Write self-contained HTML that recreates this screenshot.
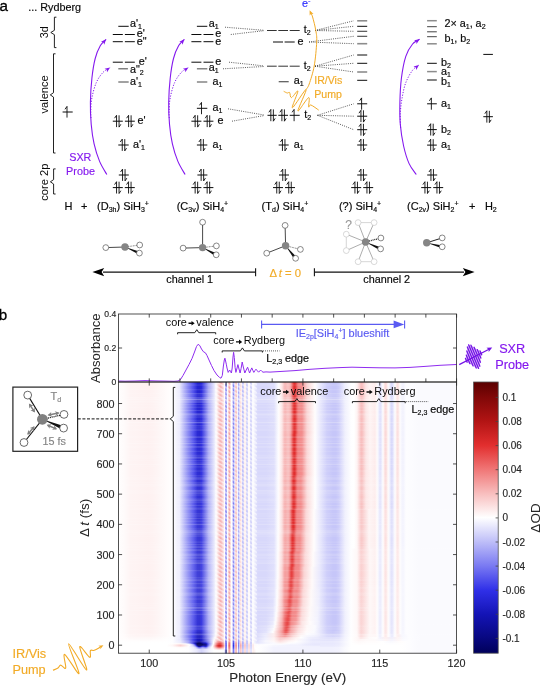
<!DOCTYPE html>
<html lang="en"><head><meta charset="utf-8"><title>Figure</title>
<style>
html,body{margin:0;padding:0;background:#fff}
svg{display:block;font-family:"Liberation Sans",Arial,Helvetica,sans-serif}
</style></head><body>
<svg width="540" height="685" viewBox="0 0 540 685">
<rect width="540" height="685" fill="#fff"/>
<g id="panel-a">
<text x="-0.6" y="11.2" font-size="15.2" fill="#000" stroke="#000" stroke-width="0.3">a</text>
<text x="28.3" y="10.6" font-size="10.8" fill="#0a0a0a" stroke="#0a0a0a" stroke-width="0.18">... Rydberg</text>
<text transform="translate(48.2 32.3) rotate(-90)" font-size="10.8" fill="#0a0a0a" text-anchor="middle">3d</text>
<path d="M56.4 17.2H54.4V30.3l-3.6 2.2l3.6 2.2V47.6H56.4" fill="none" stroke="#0a0a0a" stroke-width="0.9" stroke-linejoin="round"/>
<text transform="translate(48.3 94.4) rotate(-90)" font-size="11.1" fill="#0a0a0a" text-anchor="middle">valence</text>
<path d="M55.5 53.8H53.5V92.7l-3.2 2.2l3.2 2.2V153H55.5" fill="none" stroke="#0a0a0a" stroke-width="0.9" stroke-linejoin="round"/>
<text transform="translate(48.3 182.2) rotate(-90)" font-size="11.1" fill="#0a0a0a" text-anchor="middle">core 2p</text>
<path d="M55.6 168.9H53.6V179.6l-3.2 2.2l3.2 2.2V194H55.6" fill="none" stroke="#0a0a0a" stroke-width="0.9" stroke-linejoin="round"/>
<line x1="62.6" y1="112" x2="72.7" y2="112" stroke="#0a0a0a" stroke-width="1"/>
<path d="M67 117.6V106.4l-2 2.9" fill="none" stroke="#0a0a0a" stroke-width="0.9"/>
<text x="80.3" y="160.7" font-size="10.8" fill="#8418ee" text-anchor="middle" stroke="#8418ee" stroke-width="0.15">SXR</text>
<text x="80.5" y="174.9" font-size="10.8" fill="#8418ee" text-anchor="middle" stroke="#8418ee" stroke-width="0.15">Probe</text>
<line x1="118.3" y1="26.3" x2="128.7" y2="26.3" stroke="#0a0a0a" stroke-width="1"/>
<text x="130" y="27.4" font-size="10.8" fill="#0a0a0a" stroke="#0a0a0a" stroke-width="0.18">a'<tspan font-size="7" baseline-shift="-2.2">1</tspan></text>
<line x1="112.8" y1="34.5" x2="122.8" y2="34.5" stroke="#0a0a0a" stroke-width="1"/>
<line x1="124.9" y1="34.5" x2="134.8" y2="34.5" stroke="#0a0a0a" stroke-width="1"/>
<line x1="112.8" y1="41.7" x2="122.8" y2="41.7" stroke="#0a0a0a" stroke-width="1"/>
<line x1="124.9" y1="41.7" x2="134.8" y2="41.7" stroke="#0a0a0a" stroke-width="1"/>
<line x1="112.8" y1="62.2" x2="122.8" y2="62.2" stroke="#0a0a0a" stroke-width="1"/>
<line x1="124.9" y1="62.2" x2="134.8" y2="62.2" stroke="#0a0a0a" stroke-width="1"/>
<text x="136.7" y="36.9" font-size="10.8" fill="#0a0a0a" stroke="#0a0a0a" stroke-width="0.18">e'</text>
<text x="136.7" y="44.6" font-size="10.8" fill="#0a0a0a" stroke="#0a0a0a" stroke-width="0.18">e"</text>
<text x="138.7" y="64.7" font-size="10.8" fill="#0a0a0a" stroke="#0a0a0a" stroke-width="0.18">e'</text>
<line x1="118.3" y1="68.8" x2="127.9" y2="68.8" stroke="#555" stroke-width="1.1"/>
<text x="130" y="73.3" font-size="10.8" fill="#0a0a0a" stroke="#0a0a0a" stroke-width="0.18">a"<tspan font-size="7" baseline-shift="-2.2">2</tspan></text>
<line x1="118.3" y1="82" x2="128.7" y2="82" stroke="#444" stroke-width="1"/>
<text x="130" y="84.6" font-size="10.8" fill="#0a0a0a" stroke="#0a0a0a" stroke-width="0.18">a'<tspan font-size="7" baseline-shift="-2.2">1</tspan></text>
<line x1="112.8" y1="121.2" x2="122.8" y2="121.2" stroke="#0a0a0a" stroke-width="1"/>
<path d="M116.55 127.1V115.3l-2 2.9" fill="none" stroke="#0a0a0a" stroke-width="0.9"/>
<path d="M119.05 115.3V127.1l1.8 -2.8" fill="none" stroke="#0a0a0a" stroke-width="0.9"/>
<line x1="124.9" y1="121.2" x2="134.8" y2="121.2" stroke="#0a0a0a" stroke-width="1"/>
<path d="M128.6 127.1V115.3l-2 2.9" fill="none" stroke="#0a0a0a" stroke-width="0.9"/>
<path d="M131.1 115.3V127.1l1.8 -2.8" fill="none" stroke="#0a0a0a" stroke-width="0.9"/>
<text x="137.6" y="124.1" font-size="10.8" fill="#0a0a0a" stroke="#0a0a0a" stroke-width="0.18">e'</text>
<line x1="118.3" y1="145" x2="128.7" y2="145" stroke="#0a0a0a" stroke-width="1"/>
<path d="M122.25 150.9V139.1l-2 2.9" fill="none" stroke="#0a0a0a" stroke-width="0.9"/>
<path d="M124.75 139.1V150.9l1.8 -2.8" fill="none" stroke="#0a0a0a" stroke-width="0.9"/>
<text x="133" y="148.3" font-size="10.8" fill="#0a0a0a" stroke="#0a0a0a" stroke-width="0.18">a'<tspan font-size="7" baseline-shift="-2.2">1</tspan></text>
<line x1="196.9" y1="26.3" x2="207.3" y2="26.3" stroke="#0a0a0a" stroke-width="1"/>
<text x="208.7" y="27.4" font-size="10.8" fill="#0a0a0a" stroke="#0a0a0a" stroke-width="0.18">a<tspan font-size="7" baseline-shift="-2.2">1</tspan></text>
<line x1="191.4" y1="34.5" x2="201.4" y2="34.5" stroke="#0a0a0a" stroke-width="1"/>
<line x1="203.5" y1="34.5" x2="213.4" y2="34.5" stroke="#0a0a0a" stroke-width="1"/>
<line x1="191.4" y1="41.7" x2="201.4" y2="41.7" stroke="#0a0a0a" stroke-width="1"/>
<line x1="203.5" y1="41.7" x2="213.4" y2="41.7" stroke="#0a0a0a" stroke-width="1"/>
<line x1="191.4" y1="62.2" x2="201.4" y2="62.2" stroke="#0a0a0a" stroke-width="1"/>
<line x1="203.5" y1="62.2" x2="213.4" y2="62.2" stroke="#0a0a0a" stroke-width="1"/>
<text x="215.3" y="37.1" font-size="10.8" fill="#0a0a0a" stroke="#0a0a0a" stroke-width="0.18">e</text>
<text x="215.3" y="44.6" font-size="10.8" fill="#0a0a0a" stroke="#0a0a0a" stroke-width="0.18">e</text>
<text x="215.3" y="65.1" font-size="10.8" fill="#0a0a0a" stroke="#0a0a0a" stroke-width="0.18">e</text>
<line x1="196.9" y1="68.8" x2="207.3" y2="68.8" stroke="#666" stroke-width="1.2"/>
<text x="208.7" y="71.4" font-size="10.8" fill="#0a0a0a" stroke="#0a0a0a" stroke-width="0.18">a<tspan font-size="7" baseline-shift="-2.2">1</tspan></text>
<line x1="196.9" y1="82" x2="207.3" y2="82" stroke="#666" stroke-width="1.2"/>
<text x="212.5" y="84.6" font-size="10.8" fill="#0a0a0a" stroke="#0a0a0a" stroke-width="0.18">a<tspan font-size="7" baseline-shift="-2.2">1</tspan></text>
<line x1="196.9" y1="108.3" x2="207.3" y2="108.3" stroke="#0a0a0a" stroke-width="1"/>
<path d="M201.5 114.2V102.4l-2 2.9" fill="none" stroke="#0a0a0a" stroke-width="0.9"/>
<text x="212.5" y="111.3" font-size="10.8" fill="#0a0a0a" stroke="#0a0a0a" stroke-width="0.18">a<tspan font-size="7" baseline-shift="-2.2">1</tspan></text>
<line x1="191.4" y1="121.2" x2="201.4" y2="121.2" stroke="#0a0a0a" stroke-width="1"/>
<path d="M195.15 127.1V115.3l-2 2.9" fill="none" stroke="#0a0a0a" stroke-width="0.9"/>
<path d="M197.65 115.3V127.1l1.8 -2.8" fill="none" stroke="#0a0a0a" stroke-width="0.9"/>
<line x1="203.5" y1="121.2" x2="213.4" y2="121.2" stroke="#0a0a0a" stroke-width="1"/>
<path d="M207.2 127.1V115.3l-2 2.9" fill="none" stroke="#0a0a0a" stroke-width="0.9"/>
<path d="M209.7 115.3V127.1l1.8 -2.8" fill="none" stroke="#0a0a0a" stroke-width="0.9"/>
<text x="217.5" y="123.9" font-size="10.8" fill="#0a0a0a" stroke="#0a0a0a" stroke-width="0.18">e</text>
<line x1="196.9" y1="145" x2="207.3" y2="145" stroke="#0a0a0a" stroke-width="1"/>
<path d="M200.85 150.9V139.1l-2 2.9" fill="none" stroke="#0a0a0a" stroke-width="0.9"/>
<path d="M203.35 139.1V150.9l1.8 -2.8" fill="none" stroke="#0a0a0a" stroke-width="0.9"/>
<text x="212.5" y="148.1" font-size="10.8" fill="#0a0a0a" stroke="#0a0a0a" stroke-width="0.18">a<tspan font-size="7" baseline-shift="-2.2">1</tspan></text>
<line x1="225" y1="27.2" x2="264" y2="30.3" stroke="#333" stroke-width="0.8" stroke-dasharray="1 1.2"/>
<line x1="230.8" y1="34.5" x2="264" y2="30.7" stroke="#333" stroke-width="0.8" stroke-dasharray="1 1.2"/>
<line x1="229" y1="62.2" x2="264" y2="65.9" stroke="#333" stroke-width="0.8" stroke-dasharray="1 1.2"/>
<line x1="223" y1="68.8" x2="264" y2="66.5" stroke="#333" stroke-width="0.8" stroke-dasharray="1 1.2"/>
<line x1="228" y1="108.8" x2="264" y2="115" stroke="#333" stroke-width="0.8" stroke-dasharray="1 1.2"/>
<line x1="232" y1="121.2" x2="264" y2="115.6" stroke="#333" stroke-width="0.8" stroke-dasharray="1 1.2"/>
<line x1="267" y1="30.5" x2="276.7" y2="30.5" stroke="#333" stroke-width="1"/>
<line x1="278.3" y1="30.5" x2="288" y2="30.5" stroke="#333" stroke-width="1"/>
<line x1="289.7" y1="30.5" x2="299.7" y2="30.5" stroke="#333" stroke-width="1"/>
<line x1="267" y1="66.2" x2="276.7" y2="66.2" stroke="#333" stroke-width="1"/>
<line x1="278.3" y1="66.2" x2="288" y2="66.2" stroke="#333" stroke-width="1"/>
<line x1="289.7" y1="66.2" x2="299.7" y2="66.2" stroke="#333" stroke-width="1"/>
<text x="303.7" y="33.4" font-size="10.8" fill="#0a0a0a" stroke="#0a0a0a" stroke-width="0.18">t<tspan font-size="7" baseline-shift="-2.2">2</tspan></text>
<line x1="273" y1="42" x2="283" y2="42" stroke="#0a0a0a" stroke-width="1"/>
<line x1="284.6" y1="42" x2="294.7" y2="42" stroke="#0a0a0a" stroke-width="1"/>
<text x="297.5" y="44.8" font-size="10.8" fill="#0a0a0a" stroke="#0a0a0a" stroke-width="0.18">e</text>
<text x="303.7" y="69.2" font-size="10.8" fill="#0a0a0a" stroke="#0a0a0a" stroke-width="0.18">t<tspan font-size="7" baseline-shift="-2.2">2</tspan></text>
<line x1="278.7" y1="81.7" x2="288.7" y2="81.7" stroke="#555" stroke-width="1.2"/>
<text x="293.7" y="84.3" font-size="10.8" fill="#0a0a0a" stroke="#0a0a0a" stroke-width="0.18">a<tspan font-size="7" baseline-shift="-2.2">1</tspan></text>
<line x1="267.5" y1="115.3" x2="276.7" y2="115.3" stroke="#0a0a0a" stroke-width="1"/>
<path d="M270.85 121.2V109.4l-2 2.9" fill="none" stroke="#0a0a0a" stroke-width="0.9"/>
<path d="M273.35 109.4V121.2l1.8 -2.8" fill="none" stroke="#0a0a0a" stroke-width="0.9"/>
<line x1="278.3" y1="115.3" x2="288" y2="115.3" stroke="#0a0a0a" stroke-width="1"/>
<path d="M281.9 121.2V109.4l-2 2.9" fill="none" stroke="#0a0a0a" stroke-width="0.9"/>
<path d="M284.4 109.4V121.2l1.8 -2.8" fill="none" stroke="#0a0a0a" stroke-width="0.9"/>
<line x1="289.7" y1="115.3" x2="299.7" y2="115.3" stroke="#0a0a0a" stroke-width="1"/>
<path d="M294.1 121.2V109.4l-2 2.9" fill="none" stroke="#0a0a0a" stroke-width="0.9"/>
<text x="304.2" y="118.4" font-size="10.8" fill="#0a0a0a" stroke="#0a0a0a" stroke-width="0.18">t<tspan font-size="7" baseline-shift="-2.2">2</tspan></text>
<line x1="278.7" y1="145" x2="288.7" y2="145" stroke="#0a0a0a" stroke-width="1"/>
<path d="M282.45 150.9V139.1l-2 2.9" fill="none" stroke="#0a0a0a" stroke-width="0.9"/>
<path d="M284.95 139.1V150.9l1.8 -2.8" fill="none" stroke="#0a0a0a" stroke-width="0.9"/>
<text x="293.7" y="147.9" font-size="10.8" fill="#0a0a0a" stroke="#0a0a0a" stroke-width="0.18">a<tspan font-size="7" baseline-shift="-2.2">1</tspan></text>
<line x1="315" y1="30.5" x2="353.7" y2="20.8" stroke="#333" stroke-width="0.8" stroke-dasharray="1 1.2"/>
<line x1="315" y1="30.5" x2="353.7" y2="26.3" stroke="#333" stroke-width="0.8" stroke-dasharray="1 1.2"/>
<line x1="315" y1="30.5" x2="353.7" y2="31.3" stroke="#333" stroke-width="0.8" stroke-dasharray="1 1.2"/>
<line x1="309" y1="42" x2="353.7" y2="36.3" stroke="#333" stroke-width="0.8" stroke-dasharray="1 1.2"/>
<line x1="309" y1="42" x2="353.7" y2="43.7" stroke="#333" stroke-width="0.8" stroke-dasharray="1 1.2"/>
<line x1="315" y1="66.2" x2="353.7" y2="55" stroke="#333" stroke-width="0.8" stroke-dasharray="1 1.2"/>
<line x1="315" y1="66.2" x2="353.7" y2="63.3" stroke="#333" stroke-width="0.8" stroke-dasharray="1 1.2"/>
<line x1="315" y1="66.2" x2="353.7" y2="72" stroke="#333" stroke-width="0.8" stroke-dasharray="1 1.2"/>
<line x1="317.5" y1="115.3" x2="353.7" y2="103.8" stroke="#333" stroke-width="0.8" stroke-dasharray="1 1.2"/>
<line x1="317.5" y1="115.3" x2="353.7" y2="116.2" stroke="#333" stroke-width="0.8" stroke-dasharray="1 1.2"/>
<line x1="317.5" y1="115.3" x2="353.7" y2="129.7" stroke="#333" stroke-width="0.8" stroke-dasharray="1 1.2"/>
<line x1="357.2" y1="20.8" x2="367.2" y2="20.8" stroke="#8c8c8c" stroke-width="1.6"/>
<line x1="357.2" y1="26.3" x2="367.2" y2="26.3" stroke="#0a0a0a" stroke-width="1"/>
<line x1="357.2" y1="31.3" x2="367.2" y2="31.3" stroke="#444" stroke-width="1.1"/>
<line x1="357.2" y1="36.3" x2="367.2" y2="36.3" stroke="#444" stroke-width="1.1"/>
<line x1="357.2" y1="43.7" x2="367.2" y2="43.7" stroke="#8c8c8c" stroke-width="1.6"/>
<line x1="357.2" y1="55" x2="367.2" y2="55" stroke="#0a0a0a" stroke-width="1"/>
<line x1="357.2" y1="63.3" x2="367.2" y2="63.3" stroke="#0a0a0a" stroke-width="1"/>
<line x1="357.2" y1="72" x2="367.2" y2="72" stroke="#8c8c8c" stroke-width="1.6"/>
<line x1="357.2" y1="80.3" x2="367.2" y2="80.3" stroke="#0a0a0a" stroke-width="1"/>
<line x1="357.2" y1="103.8" x2="367.2" y2="103.8" stroke="#0a0a0a" stroke-width="1"/>
<path d="M361.6 109.7V97.9l-2 2.9" fill="none" stroke="#0a0a0a" stroke-width="0.9"/>
<line x1="357.2" y1="116.2" x2="367.2" y2="116.2" stroke="#0a0a0a" stroke-width="1"/>
<path d="M360.95 122.1V110.3l-2 2.9" fill="none" stroke="#0a0a0a" stroke-width="0.9"/>
<path d="M363.45 110.3V122.1l1.8 -2.8" fill="none" stroke="#0a0a0a" stroke-width="0.9"/>
<line x1="357.2" y1="129.7" x2="367.2" y2="129.7" stroke="#0a0a0a" stroke-width="1"/>
<path d="M360.95 135.6V123.8l-2 2.9" fill="none" stroke="#0a0a0a" stroke-width="0.9"/>
<path d="M363.45 123.8V135.6l1.8 -2.8" fill="none" stroke="#0a0a0a" stroke-width="0.9"/>
<line x1="357.2" y1="145" x2="367.2" y2="145" stroke="#0a0a0a" stroke-width="1"/>
<path d="M360.95 150.9V139.1l-2 2.9" fill="none" stroke="#0a0a0a" stroke-width="0.9"/>
<path d="M363.45 139.1V150.9l1.8 -2.8" fill="none" stroke="#0a0a0a" stroke-width="0.9"/>
<line x1="427.1" y1="20.7" x2="436.8" y2="20.7" stroke="#8c8c8c" stroke-width="1.5"/>
<line x1="427.1" y1="26.7" x2="436.8" y2="26.7" stroke="#444" stroke-width="1"/>
<line x1="427.1" y1="31.8" x2="436.8" y2="31.8" stroke="#444" stroke-width="1"/>
<line x1="427.1" y1="36.7" x2="436.8" y2="36.7" stroke="#444" stroke-width="1"/>
<line x1="427.1" y1="43.8" x2="436.8" y2="43.8" stroke="#8c8c8c" stroke-width="1.5"/>
<line x1="427.1" y1="63.3" x2="436.8" y2="63.3" stroke="#0a0a0a" stroke-width="1"/>
<line x1="427.1" y1="71.6" x2="436.8" y2="71.6" stroke="#8c8c8c" stroke-width="1.5"/>
<line x1="427.1" y1="80" x2="436.8" y2="80" stroke="#0a0a0a" stroke-width="1"/>
<text x="444.4" y="27.2" font-size="10.8" fill="#0a0a0a" stroke="#0a0a0a" stroke-width="0.18">2&#215; a<tspan font-size="7" baseline-shift="-2.2">1</tspan>, a<tspan font-size="7" baseline-shift="-2.2">2</tspan></text>
<text x="444.4" y="41.9" font-size="10.8" fill="#0a0a0a" stroke="#0a0a0a" stroke-width="0.18">b<tspan font-size="7" baseline-shift="-2.2">1</tspan>, b<tspan font-size="7" baseline-shift="-2.2">2</tspan></text>
<text x="441.1" y="66.3" font-size="10.8" fill="#0a0a0a" stroke="#0a0a0a" stroke-width="0.18">b<tspan font-size="7" baseline-shift="-2.2">2</tspan></text>
<text x="441.1" y="74.5" font-size="10.8" fill="#0a0a0a" stroke="#0a0a0a" stroke-width="0.18">a<tspan font-size="7" baseline-shift="-2.2">1</tspan></text>
<text x="441.1" y="84.5" font-size="10.8" fill="#0a0a0a" stroke="#0a0a0a" stroke-width="0.18">b<tspan font-size="7" baseline-shift="-2.2">1</tspan></text>
<line x1="427.1" y1="103.8" x2="436.8" y2="103.8" stroke="#0a0a0a" stroke-width="1"/>
<path d="M431.35 109.7V97.9l-2 2.9" fill="none" stroke="#0a0a0a" stroke-width="0.9"/>
<text x="441.1" y="107.1" font-size="10.8" fill="#0a0a0a" stroke="#0a0a0a" stroke-width="0.18">a<tspan font-size="7" baseline-shift="-2.2">1</tspan></text>
<line x1="427.1" y1="129.6" x2="436.8" y2="129.6" stroke="#0a0a0a" stroke-width="1"/>
<path d="M430.7 135.5V123.7l-2 2.9" fill="none" stroke="#0a0a0a" stroke-width="0.9"/>
<path d="M433.2 123.7V135.5l1.8 -2.8" fill="none" stroke="#0a0a0a" stroke-width="0.9"/>
<text x="441.1" y="133.3" font-size="10.8" fill="#0a0a0a" stroke="#0a0a0a" stroke-width="0.18">b<tspan font-size="7" baseline-shift="-2.2">2</tspan></text>
<line x1="427.1" y1="145.1" x2="436.8" y2="145.1" stroke="#0a0a0a" stroke-width="1"/>
<path d="M430.7 151V139.2l-2 2.9" fill="none" stroke="#0a0a0a" stroke-width="0.9"/>
<path d="M433.2 139.2V151l1.8 -2.8" fill="none" stroke="#0a0a0a" stroke-width="0.9"/>
<text x="441.1" y="148.4" font-size="10.8" fill="#0a0a0a" stroke="#0a0a0a" stroke-width="0.18">a<tspan font-size="7" baseline-shift="-2.2">1</tspan></text>
<line x1="483.3" y1="54.4" x2="492.9" y2="54.4" stroke="#0a0a0a" stroke-width="1"/>
<line x1="483.3" y1="116.7" x2="492.9" y2="116.7" stroke="#0a0a0a" stroke-width="1"/>
<path d="M486.85 122.6V110.8l-2 2.9" fill="none" stroke="#0a0a0a" stroke-width="0.9"/>
<path d="M489.35 110.8V122.6l1.8 -2.8" fill="none" stroke="#0a0a0a" stroke-width="0.9"/>
<line x1="118.8" y1="175" x2="128.8" y2="175" stroke="#0a0a0a" stroke-width="1"/>
<path d="M122.55 180.9V169.1l-2 2.9" fill="none" stroke="#0a0a0a" stroke-width="0.9"/>
<path d="M125.05 169.1V180.9l1.8 -2.8" fill="none" stroke="#0a0a0a" stroke-width="0.9"/>
<line x1="112.8" y1="187.6" x2="122.8" y2="187.6" stroke="#0a0a0a" stroke-width="1"/>
<path d="M116.55 193.5V181.7l-2 2.9" fill="none" stroke="#0a0a0a" stroke-width="0.9"/>
<path d="M119.05 181.7V193.5l1.8 -2.8" fill="none" stroke="#0a0a0a" stroke-width="0.9"/>
<line x1="124.8" y1="187.6" x2="134.8" y2="187.6" stroke="#0a0a0a" stroke-width="1"/>
<path d="M128.55 193.5V181.7l-2 2.9" fill="none" stroke="#0a0a0a" stroke-width="0.9"/>
<path d="M131.05 181.7V193.5l1.8 -2.8" fill="none" stroke="#0a0a0a" stroke-width="0.9"/>
<line x1="197.4" y1="175" x2="207.4" y2="175" stroke="#0a0a0a" stroke-width="1"/>
<path d="M201.15 180.9V169.1l-2 2.9" fill="none" stroke="#0a0a0a" stroke-width="0.9"/>
<path d="M203.65 169.1V180.9l1.8 -2.8" fill="none" stroke="#0a0a0a" stroke-width="0.9"/>
<line x1="191.4" y1="187.6" x2="201.4" y2="187.6" stroke="#0a0a0a" stroke-width="1"/>
<path d="M195.15 193.5V181.7l-2 2.9" fill="none" stroke="#0a0a0a" stroke-width="0.9"/>
<path d="M197.65 181.7V193.5l1.8 -2.8" fill="none" stroke="#0a0a0a" stroke-width="0.9"/>
<line x1="203.4" y1="187.6" x2="213.4" y2="187.6" stroke="#0a0a0a" stroke-width="1"/>
<path d="M207.15 193.5V181.7l-2 2.9" fill="none" stroke="#0a0a0a" stroke-width="0.9"/>
<path d="M209.65 181.7V193.5l1.8 -2.8" fill="none" stroke="#0a0a0a" stroke-width="0.9"/>
<line x1="279" y1="175" x2="289" y2="175" stroke="#0a0a0a" stroke-width="1"/>
<path d="M282.75 180.9V169.1l-2 2.9" fill="none" stroke="#0a0a0a" stroke-width="0.9"/>
<path d="M285.25 169.1V180.9l1.8 -2.8" fill="none" stroke="#0a0a0a" stroke-width="0.9"/>
<line x1="273" y1="187.6" x2="283" y2="187.6" stroke="#0a0a0a" stroke-width="1"/>
<path d="M276.75 193.5V181.7l-2 2.9" fill="none" stroke="#0a0a0a" stroke-width="0.9"/>
<path d="M279.25 181.7V193.5l1.8 -2.8" fill="none" stroke="#0a0a0a" stroke-width="0.9"/>
<line x1="285" y1="187.6" x2="295" y2="187.6" stroke="#0a0a0a" stroke-width="1"/>
<path d="M288.75 193.5V181.7l-2 2.9" fill="none" stroke="#0a0a0a" stroke-width="0.9"/>
<path d="M291.25 181.7V193.5l1.8 -2.8" fill="none" stroke="#0a0a0a" stroke-width="0.9"/>
<line x1="357.2" y1="175" x2="367.2" y2="175" stroke="#0a0a0a" stroke-width="1"/>
<path d="M360.95 180.9V169.1l-2 2.9" fill="none" stroke="#0a0a0a" stroke-width="0.9"/>
<path d="M363.45 169.1V180.9l1.8 -2.8" fill="none" stroke="#0a0a0a" stroke-width="0.9"/>
<line x1="351.2" y1="187.6" x2="361.2" y2="187.6" stroke="#0a0a0a" stroke-width="1"/>
<path d="M354.95 193.5V181.7l-2 2.9" fill="none" stroke="#0a0a0a" stroke-width="0.9"/>
<path d="M357.45 181.7V193.5l1.8 -2.8" fill="none" stroke="#0a0a0a" stroke-width="0.9"/>
<line x1="363.2" y1="187.6" x2="373.2" y2="187.6" stroke="#0a0a0a" stroke-width="1"/>
<path d="M366.95 193.5V181.7l-2 2.9" fill="none" stroke="#0a0a0a" stroke-width="0.9"/>
<path d="M369.45 181.7V193.5l1.8 -2.8" fill="none" stroke="#0a0a0a" stroke-width="0.9"/>
<line x1="427.2" y1="175" x2="437.2" y2="175" stroke="#0a0a0a" stroke-width="1"/>
<path d="M430.95 180.9V169.1l-2 2.9" fill="none" stroke="#0a0a0a" stroke-width="0.9"/>
<path d="M433.45 169.1V180.9l1.8 -2.8" fill="none" stroke="#0a0a0a" stroke-width="0.9"/>
<line x1="421.2" y1="187.6" x2="431.2" y2="187.6" stroke="#0a0a0a" stroke-width="1"/>
<path d="M424.95 193.5V181.7l-2 2.9" fill="none" stroke="#0a0a0a" stroke-width="0.9"/>
<path d="M427.45 181.7V193.5l1.8 -2.8" fill="none" stroke="#0a0a0a" stroke-width="0.9"/>
<line x1="433.2" y1="187.6" x2="443.2" y2="187.6" stroke="#0a0a0a" stroke-width="1"/>
<path d="M436.95 193.5V181.7l-2 2.9" fill="none" stroke="#0a0a0a" stroke-width="0.9"/>
<path d="M439.45 181.7V193.5l1.8 -2.8" fill="none" stroke="#0a0a0a" stroke-width="0.9"/>
<text x="64.4" y="210.2" font-size="11" fill="#0a0a0a" stroke="#0a0a0a" stroke-width="0.18">H</text>
<text x="81.1" y="210.2" font-size="11" fill="#0a0a0a" stroke="#0a0a0a" stroke-width="0.18">+</text>
<text x="97.1" y="210.2" font-size="11" fill="#0a0a0a" stroke="#0a0a0a" stroke-width="0.18">(D<tspan font-size="7" baseline-shift="-2.2">3h</tspan>) SiH<tspan font-size="7" baseline-shift="-2.2">3</tspan><tspan font-size="7" baseline-shift="4.5">+</tspan></text>
<text x="176.7" y="210.2" font-size="11" fill="#0a0a0a" stroke="#0a0a0a" stroke-width="0.18">(C<tspan font-size="7" baseline-shift="-2.2">3v</tspan>) SiH<tspan font-size="7" baseline-shift="-2.2">4</tspan><tspan font-size="7" baseline-shift="4.5">+</tspan></text>
<text x="261.6" y="210.2" font-size="11" fill="#0a0a0a" stroke="#0a0a0a" stroke-width="0.18">(T<tspan font-size="7" baseline-shift="-2.2">d</tspan>) SiH<tspan font-size="7" baseline-shift="-2.2">4</tspan><tspan font-size="7" baseline-shift="4.5">+</tspan></text>
<text x="338.9" y="210.2" font-size="11" fill="#0a0a0a" stroke="#0a0a0a" stroke-width="0.18">(?) SiH<tspan font-size="7" baseline-shift="-2.2">4</tspan><tspan font-size="7" baseline-shift="4.5">+</tspan></text>
<text x="407.1" y="210.2" font-size="11" fill="#0a0a0a" stroke="#0a0a0a" stroke-width="0.18">(C<tspan font-size="7" baseline-shift="-2.2">2v</tspan>) SiH<tspan font-size="7" baseline-shift="-2.2">2</tspan><tspan font-size="7" baseline-shift="4.5">+</tspan></text>
<text x="468.9" y="210.2" font-size="11" fill="#0a0a0a" stroke="#0a0a0a" stroke-width="0.18">+</text>
<text x="484.9" y="210.2" font-size="11" fill="#0a0a0a" stroke="#0a0a0a" stroke-width="0.18">H<tspan font-size="7" baseline-shift="-2.2">2</tspan></text>
<path d="M106.8 174.5C105.6 172.32 101.72 166.5 99.6 161.4C97.48 156.3 95.5 150.1 94.1 143.9C92.7 137.7 91.82 131.13 91.2 124.2C90.58 117.27 90.28 109.97 90.4 102.3C90.52 94.63 91.1 85.5 91.9 78.2C92.7 70.9 93.78 63.93 95.2 58.5C96.62 53.07 98.58 48.8 100.4 45.6C102.22 42.4 105.15 40.35 106.1 39.3" fill="none" stroke="#8418ee" stroke-width="1.1"/>
<path d="M91 118C90.97 116.83 90.65 114.35 90.8 111C90.95 107.65 90.98 102.63 91.9 97.9C92.82 93.17 94.45 86.85 96.3 82.6C98.15 78.35 100.7 74.9 103 72.4C105.3 69.9 108.92 68.4 110.1 67.6" fill="none" stroke="#8418ee" stroke-width="1.0" stroke-dasharray="1.2 1.5"/>
<path d="M106.1 39.3L104.24 44.63L103.42 42.27L100.98 41.68Z" fill="#8418ee"/>
<path d="M110.1 67.6L107.02 72.33L106.79 69.84L104.56 68.69Z" fill="#8418ee"/>
<path d="M185.1 174.5C183.9 172.32 180.02 166.5 177.9 161.4C175.78 156.3 173.8 150.1 172.4 143.9C171 137.7 170.12 131.13 169.5 124.2C168.88 117.27 168.58 109.97 168.7 102.3C168.82 94.63 169.4 85.5 170.2 78.2C171 70.9 172.08 63.93 173.5 58.5C174.92 53.07 176.88 48.8 178.7 45.6C180.52 42.4 183.45 40.35 184.4 39.3" fill="none" stroke="#8418ee" stroke-width="1.1"/>
<path d="M169.3 118C169.27 116.83 168.95 114.35 169.1 111C169.25 107.65 169.28 102.63 170.2 97.9C171.12 93.17 172.75 86.85 174.6 82.6C176.45 78.35 179 74.9 181.3 72.4C183.6 69.9 187.22 68.4 188.4 67.6" fill="none" stroke="#8418ee" stroke-width="1.0" stroke-dasharray="1.2 1.5"/>
<path d="M184.4 39.3L182.54 44.63L181.72 42.27L179.28 41.68Z" fill="#8418ee"/>
<path d="M188.4 67.6L185.32 72.33L185.09 69.84L182.86 68.69Z" fill="#8418ee"/>
<path d="M416.3 174.5C415.1 172.68 411.22 168.35 409.1 163.6C406.98 158.85 405.07 152.57 403.6 146C402.13 139.43 400.92 131.48 400.3 124.2C399.68 116.92 399.72 109.97 399.9 102.3C400.08 94.63 400.42 85.87 401.4 78.2C402.38 70.53 403.93 62 405.8 56.3C407.67 50.6 410.3 46.83 412.6 44C414.9 41.17 418.43 40.08 419.6 39.3" fill="none" stroke="#8418ee" stroke-width="1.1"/>
<path d="M400.6 128C400.55 125.53 400.05 118.22 400.3 113.2C400.55 108.18 401.18 103 402.1 97.9C403.02 92.8 404.05 87.22 405.8 82.6C407.55 77.98 410.42 73.13 412.6 70.2C414.78 67.27 417.85 65.87 418.9 65" fill="none" stroke="#8418ee" stroke-width="1.0" stroke-dasharray="1.2 1.5"/>
<path d="M419.6 39.3L416.51 44.03L416.28 41.53L414.06 40.37Z" fill="#8418ee"/>
<path d="M418.9 65L416.29 70.01L415.82 67.55L413.49 66.61Z" fill="#8418ee"/>
<path d="M283.7 91.3C284.3 91.58 286.32 92.8 287.3 93C288.28 93.2 288.92 91.73 289.6 92.5C290.28 93.27 290.02 97.83 291.4 97.6C292.78 97.37 297.73 89.4 297.9 91.1C298.07 92.8 291.02 108.1 292.4 107.8C293.78 107.5 305.28 88.77 306.2 89.3C307.12 89.83 297.5 109.62 297.9 111C298.3 112.38 306.82 98.28 308.6 97.6C310.38 96.92 308.22 105.67 308.6 106.9C308.98 108.13 309.22 104.47 310.9 105C312.58 105.53 317.4 109.25 318.7 110.1" fill="none" stroke="#f2ab27" stroke-width="1" stroke-linejoin="round"/>
<path d="M306.2 89.3C306.7 88.42 307.87 87.88 309.2 84C310.53 80.12 312.95 73 314.2 66C315.45 59 316.43 47.92 316.7 42C316.97 36.08 316.48 34.67 315.8 30.5C315.12 26.33 313.47 20 312.6 17C311.73 14 310.93 13.25 310.6 12.5" fill="none" stroke="#f2ab27" stroke-width="1"/>
<path d="M309.6 10.2L313.54 13.93L311.13 13.68L309.69 15.62Z" fill="#f2ab27"/>
<text x="314.2" y="83.7" font-size="10.6" fill="#f2ab27" stroke="#f2ab27" stroke-width="0.15">IR/Vis</text>
<text x="314.2" y="97.5" font-size="10.6" fill="#f2ab27" stroke="#f2ab27" stroke-width="0.15">Pump</text>
<text x="302" y="7.2" font-size="10.8" fill="#2b2bff" stroke="#2b2bff" stroke-width="0.15">e<tspan font-size="7.5" baseline-shift="4.2">-</tspan></text>
<line x1="125" y1="247" x2="105.8" y2="247.6" stroke="#333" stroke-width="0.9"/>
<line x1="125" y1="247" x2="139.7" y2="245" stroke="#777" stroke-width="1" stroke-dasharray="0.9 0.7"/>
<path d="M125 247L138.78 254.57L140.02 251.63Z" fill="#111"/>
<circle cx="125" cy="247" r="3.7" fill="#858585"/>
<circle cx="105.8" cy="247.6" r="2.9" fill="#fff" stroke="#555" stroke-width="0.7"/>
<circle cx="139.7" cy="245" r="2.9" fill="#fff" stroke="#555" stroke-width="0.7"/>
<circle cx="139.4" cy="253.1" r="2.9" fill="#fff" stroke="#555" stroke-width="0.7"/>
<line x1="202.6" y1="247.6" x2="202.6" y2="222.2" stroke="#333" stroke-width="0.9"/>
<line x1="202.6" y1="247.6" x2="183.1" y2="248.1" stroke="#333" stroke-width="0.9"/>
<line x1="202.6" y1="247.6" x2="216.4" y2="245.9" stroke="#777" stroke-width="1" stroke-dasharray="0.9 0.7"/>
<path d="M202.6 247.6L215.45 256.21L216.95 253.39Z" fill="#111"/>
<circle cx="202.6" cy="247.6" r="3.7" fill="#858585"/>
<circle cx="202.6" cy="222.2" r="2.9" fill="#fff" stroke="#555" stroke-width="0.7"/>
<circle cx="183.1" cy="248.1" r="2.9" fill="#fff" stroke="#555" stroke-width="0.7"/>
<circle cx="216.4" cy="245.9" r="2.9" fill="#fff" stroke="#555" stroke-width="0.7"/>
<circle cx="216.2" cy="254.8" r="2.9" fill="#fff" stroke="#555" stroke-width="0.7"/>
<line x1="285.6" y1="245.7" x2="285.1" y2="225.4" stroke="#333" stroke-width="0.9"/>
<line x1="285.6" y1="245.7" x2="266.7" y2="253.2" stroke="#333" stroke-width="0.9"/>
<line x1="285.6" y1="245.7" x2="300.4" y2="249.4" stroke="#777" stroke-width="1" stroke-dasharray="0.9 0.7"/>
<path d="M285.6 245.7L294.35 259.29L296.85 257.31Z" fill="#111"/>
<circle cx="285.6" cy="245.7" r="3.7" fill="#858585"/>
<circle cx="285.1" cy="225.4" r="2.9" fill="#fff" stroke="#555" stroke-width="0.7"/>
<circle cx="266.7" cy="253.2" r="2.9" fill="#fff" stroke="#555" stroke-width="0.7"/>
<circle cx="300.4" cy="249.4" r="2.9" fill="#fff" stroke="#555" stroke-width="0.7"/>
<circle cx="295.6" cy="258.3" r="2.9" fill="#fff" stroke="#555" stroke-width="0.7"/>
<line x1="358.1" y1="222.6" x2="374.1" y2="222.6" stroke="#ccc" stroke-width="0.8"/>
<line x1="346.3" y1="234.2" x2="346.3" y2="250.6" stroke="#ccc" stroke-width="0.8"/>
<line x1="358.1" y1="261.7" x2="374.1" y2="261.7" stroke="#ccc" stroke-width="0.8"/>
<line x1="365.6" y1="242" x2="358.1" y2="222.6" stroke="#8a8a8a" stroke-width="0.7"/>
<line x1="365.6" y1="242" x2="374.1" y2="222.6" stroke="#8a8a8a" stroke-width="0.7"/>
<line x1="365.6" y1="242" x2="346.3" y2="234.2" stroke="#8a8a8a" stroke-width="0.7"/>
<line x1="365.6" y1="242" x2="346.3" y2="250.6" stroke="#8a8a8a" stroke-width="0.7"/>
<line x1="365.6" y1="242" x2="358.1" y2="261.7" stroke="#8a8a8a" stroke-width="0.7"/>
<line x1="365.6" y1="242" x2="374.1" y2="261.7" stroke="#8a8a8a" stroke-width="0.7"/>
<line x1="365.6" y1="242" x2="380.9" y2="238" stroke="#222" stroke-width="1.3" stroke-dasharray="1 0.8"/>
<path d="M365.6 242L379.93 250.35L381.27 247.45Z" fill="#111"/>
<circle cx="365.6" cy="242" r="3.7" fill="#858585"/>
<circle cx="358.1" cy="222.6" r="2.9" fill="#fff" stroke="#c8c8c8" stroke-width="0.7"/>
<circle cx="374.1" cy="222.6" r="2.9" fill="#fff" stroke="#c8c8c8" stroke-width="0.7"/>
<circle cx="346.3" cy="234.2" r="2.9" fill="#fff" stroke="#c8c8c8" stroke-width="0.7"/>
<circle cx="346.3" cy="250.6" r="2.9" fill="#fff" stroke="#c8c8c8" stroke-width="0.7"/>
<circle cx="358.1" cy="261.7" r="2.9" fill="#fff" stroke="#c8c8c8" stroke-width="0.7"/>
<circle cx="374.1" cy="261.7" r="2.9" fill="#fff" stroke="#c8c8c8" stroke-width="0.7"/>
<circle cx="380.9" cy="238" r="2.9" fill="#fff" stroke="#555" stroke-width="0.7"/>
<circle cx="380.6" cy="248.9" r="2.9" fill="#fff" stroke="#555" stroke-width="0.7"/>
<text x="345.2" y="229" font-size="12" fill="#9a9a9a" stroke="#9a9a9a" stroke-width="0.15">?</text>
<line x1="426.7" y1="242.8" x2="442.2" y2="237.9" stroke="#222" stroke-width="1"/>
<path d="M426.7 242.8L441.85 248.16L442.55 245.44Z" fill="#111"/>
<circle cx="426.7" cy="242.8" r="3.7" fill="#858585"/>
<circle cx="442.2" cy="237.9" r="2.9" fill="#fff" stroke="#555" stroke-width="0.7"/>
<circle cx="442.2" cy="246.8" r="2.9" fill="#fff" stroke="#555" stroke-width="0.7"/>
<line x1="103" y1="272.1" x2="255.6" y2="272.1" stroke="#111" stroke-width="1.1"/>
<line x1="255.6" y1="268.2" x2="255.6" y2="276.2" stroke="#111" stroke-width="1.1"/>
<path d="M92.4 272.1L104.2 268L101.6 272.1L104.2 276.2Z" fill="#000"/>
<line x1="314.4" y1="272.1" x2="464" y2="272.1" stroke="#111" stroke-width="1.1"/>
<line x1="314.4" y1="268.2" x2="314.4" y2="276.2" stroke="#111" stroke-width="1.1"/>
<path d="M474.6 272.1L462.8 268L465.4 272.1L462.8 276.2Z" fill="#000"/>
<text x="189.7" y="282.7" font-size="10.8" fill="#0a0a0a" text-anchor="middle" stroke="#0a0a0a" stroke-width="0.18">channel 1</text>
<text x="386.7" y="283.2" font-size="10.8" fill="#0a0a0a" text-anchor="middle" stroke="#0a0a0a" stroke-width="0.18">channel 2</text>
<text x="269.6" y="276.6" font-size="11.3" fill="#f2ab27" stroke="#f2ab27" stroke-width="0.15">&#916;<tspan font-style="italic" dx="1.5">t</tspan> = 0</text>
</g>
<g id="panel-b">
<defs><linearGradient id="hA0" gradientUnits="userSpaceOnUse" x1="118.5" y1="0" x2="214" y2="0"><stop offset="0%" stop-color="#fffefe"/><stop offset="6.28%" stop-color="#fefafa"/><stop offset="12.57%" stop-color="#fef4f4"/><stop offset="18.85%" stop-color="#fef3f3"/><stop offset="25.13%" stop-color="#fef2f2"/><stop offset="31.41%" stop-color="#fef1f1"/><stop offset="37.7%" stop-color="#fef3f3"/><stop offset="43.98%" stop-color="#fef7f7"/><stop offset="50.26%" stop-color="#fffbfb"/><stop offset="56.54%" stop-color="#ffffff"/><stop offset="63.87%" stop-color="#ebebfd"/><stop offset="72.25%" stop-color="#8f8ff4"/><stop offset="78.53%" stop-color="#4f4fec"/><stop offset="82.72%" stop-color="#2424d3"/><stop offset="84.82%" stop-color="#2222cf"/><stop offset="86.91%" stop-color="#2a2ade"/><stop offset="94.24%" stop-color="#aaaaf6"/><stop offset="100%" stop-color="#e3e3fc"/></linearGradient><linearGradient id="hA1" gradientUnits="userSpaceOnUse" x1="118.5" y1="0" x2="214" y2="0"><stop offset="0%" stop-color="#fffefe"/><stop offset="6.28%" stop-color="#fefafa"/><stop offset="12.57%" stop-color="#fef4f4"/><stop offset="18.85%" stop-color="#fef3f3"/><stop offset="25.13%" stop-color="#fef2f2"/><stop offset="31.41%" stop-color="#fef1f1"/><stop offset="37.7%" stop-color="#fef3f3"/><stop offset="43.98%" stop-color="#fef7f7"/><stop offset="50.26%" stop-color="#fffbfb"/><stop offset="56.54%" stop-color="#ffffff"/><stop offset="63.87%" stop-color="#eaeafd"/><stop offset="72.25%" stop-color="#8989f3"/><stop offset="78.53%" stop-color="#4040ea"/><stop offset="82.72%" stop-color="#1c1cc5"/><stop offset="84.82%" stop-color="#1a1ac0"/><stop offset="86.91%" stop-color="#2323d0"/><stop offset="94.24%" stop-color="#a2a2f6"/><stop offset="100%" stop-color="#e2e2fc"/></linearGradient><linearGradient id="hA2" gradientUnits="userSpaceOnUse" x1="118.5" y1="0" x2="214" y2="0"><stop offset="0%" stop-color="#fffefe"/><stop offset="6.28%" stop-color="#fffbfb"/><stop offset="12.57%" stop-color="#fef6f6"/><stop offset="18.85%" stop-color="#fef4f4"/><stop offset="25.13%" stop-color="#fef4f4"/><stop offset="31.41%" stop-color="#fef3f3"/><stop offset="37.7%" stop-color="#fef5f5"/><stop offset="43.98%" stop-color="#fef8f8"/><stop offset="50.26%" stop-color="#fffbfb"/><stop offset="56.54%" stop-color="#ffffff"/><stop offset="63.87%" stop-color="#e9e9fd"/><stop offset="72.25%" stop-color="#8888f3"/><stop offset="78.53%" stop-color="#3c3cea"/><stop offset="82.72%" stop-color="#1a1ac1"/><stop offset="84.82%" stop-color="#1717bc"/><stop offset="86.91%" stop-color="#2020cc"/><stop offset="94.24%" stop-color="#a0a0f5"/><stop offset="100%" stop-color="#e6e6fc"/></linearGradient><linearGradient id="hA3" gradientUnits="userSpaceOnUse" x1="118.5" y1="0" x2="214" y2="0"><stop offset="0%" stop-color="#fffefe"/><stop offset="6.28%" stop-color="#fffcfc"/><stop offset="12.57%" stop-color="#fef8f8"/><stop offset="18.85%" stop-color="#fef7f7"/><stop offset="25.13%" stop-color="#fef7f7"/><stop offset="31.41%" stop-color="#fef7f7"/><stop offset="37.7%" stop-color="#fef8f8"/><stop offset="43.98%" stop-color="#fefafa"/><stop offset="50.26%" stop-color="#fffdfd"/><stop offset="56.54%" stop-color="#fefeff"/><stop offset="63.87%" stop-color="#eaeafd"/><stop offset="72.25%" stop-color="#8c8cf4"/><stop offset="78.53%" stop-color="#3c3cea"/><stop offset="82.72%" stop-color="#1919bf"/><stop offset="84.82%" stop-color="#1616ba"/><stop offset="86.91%" stop-color="#1f1fca"/><stop offset="94.24%" stop-color="#a0a0f5"/><stop offset="100%" stop-color="#f1f1fd"/></linearGradient><linearGradient id="hA4" gradientUnits="userSpaceOnUse" x1="118.5" y1="0" x2="214" y2="0"><stop offset="0%" stop-color="#fffefe"/><stop offset="6.28%" stop-color="#fffdfd"/><stop offset="12.57%" stop-color="#fffbfb"/><stop offset="18.85%" stop-color="#fefafa"/><stop offset="25.13%" stop-color="#fefafa"/><stop offset="31.41%" stop-color="#fefafa"/><stop offset="37.7%" stop-color="#fffbfb"/><stop offset="43.98%" stop-color="#fffcfc"/><stop offset="50.26%" stop-color="#fffefe"/><stop offset="56.54%" stop-color="#fefeff"/><stop offset="64.92%" stop-color="#e6e6fc"/><stop offset="73.3%" stop-color="#8e8ef4"/><stop offset="78.53%" stop-color="#4141ea"/><stop offset="82.72%" stop-color="#1919bf"/><stop offset="84.82%" stop-color="#1616b9"/><stop offset="86.91%" stop-color="#1f1fca"/><stop offset="95.29%" stop-color="#b2b2f7"/><stop offset="100%" stop-color="#fbfbff"/></linearGradient><linearGradient id="hA5" gradientUnits="userSpaceOnUse" x1="118.5" y1="0" x2="214" y2="0"><stop offset="0%" stop-color="#ffffff"/><stop offset="6.28%" stop-color="#fffefe"/><stop offset="12.57%" stop-color="#fffdfd"/><stop offset="18.85%" stop-color="#fffdfd"/><stop offset="25.13%" stop-color="#fffcfc"/><stop offset="31.41%" stop-color="#fffcfc"/><stop offset="37.7%" stop-color="#fffdfd"/><stop offset="43.98%" stop-color="#fffdfd"/><stop offset="50.26%" stop-color="#fffefe"/><stop offset="56.54%" stop-color="#fdfdff"/><stop offset="64.92%" stop-color="#e8e8fd"/><stop offset="73.3%" stop-color="#9a9af5"/><stop offset="78.53%" stop-color="#4343eb"/><stop offset="82.72%" stop-color="#1616ba"/><stop offset="83.77%" stop-color="#1313b2"/><stop offset="84.82%" stop-color="#1313b1"/><stop offset="86.91%" stop-color="#1c1cc4"/><stop offset="95.29%" stop-color="#b2b2f7"/><stop offset="99.48%" stop-color="#f8f8fe"/><stop offset="100%" stop-color="#fffdfd"/></linearGradient><linearGradient id="hA6" gradientUnits="userSpaceOnUse" x1="118.5" y1="0" x2="214" y2="0"><stop offset="0%" stop-color="#ffffff"/><stop offset="6.28%" stop-color="#ffffff"/><stop offset="12.57%" stop-color="#fffefe"/><stop offset="18.85%" stop-color="#fffefe"/><stop offset="25.13%" stop-color="#fffefe"/><stop offset="31.41%" stop-color="#fffefe"/><stop offset="37.7%" stop-color="#fffefe"/><stop offset="43.98%" stop-color="#fffefe"/><stop offset="50.26%" stop-color="#ffffff"/><stop offset="56.54%" stop-color="#fdfdff"/><stop offset="64.92%" stop-color="#eaeafd"/><stop offset="73.3%" stop-color="#9f9ff5"/><stop offset="77.49%" stop-color="#5656ed"/><stop offset="82.72%" stop-color="#1111a8"/><stop offset="83.77%" stop-color="#0e0e9b"/><stop offset="84.82%" stop-color="#0e0e99"/><stop offset="85.86%" stop-color="#1010a3"/><stop offset="92.15%" stop-color="#5e5eee"/><stop offset="99.48%" stop-color="#fbfbff"/><stop offset="100%" stop-color="#fef8f8"/></linearGradient><linearGradient id="hA7" gradientUnits="userSpaceOnUse" x1="118.5" y1="0" x2="214" y2="0"><stop offset="0%" stop-color="#ffffff"/><stop offset="6.28%" stop-color="#ffffff"/><stop offset="12.57%" stop-color="#ffffff"/><stop offset="18.85%" stop-color="#ffffff"/><stop offset="25.13%" stop-color="#ffffff"/><stop offset="31.41%" stop-color="#ffffff"/><stop offset="37.7%" stop-color="#ffffff"/><stop offset="43.98%" stop-color="#ffffff"/><stop offset="50.26%" stop-color="#ffffff"/><stop offset="56.54%" stop-color="#fdfdff"/><stop offset="64.92%" stop-color="#eaeafd"/><stop offset="72.25%" stop-color="#acacf6"/><stop offset="76.44%" stop-color="#6565ef"/><stop offset="80.63%" stop-color="#1818bd"/><stop offset="82.72%" stop-color="#0a0a8a"/><stop offset="83.77%" stop-color="#060675"/><stop offset="84.82%" stop-color="#050570"/><stop offset="85.86%" stop-color="#08087f"/><stop offset="87.96%" stop-color="#1212ae"/><stop offset="91.1%" stop-color="#2828d9"/><stop offset="95.29%" stop-color="#a2a2f5"/><stop offset="99.48%" stop-color="#fefeff"/><stop offset="100%" stop-color="#fef3f3"/></linearGradient><linearGradient id="hA8" gradientUnits="userSpaceOnUse" x1="118.5" y1="0" x2="214" y2="0"><stop offset="0%" stop-color="#ffffff"/><stop offset="6.28%" stop-color="#ffffff"/><stop offset="12.57%" stop-color="#ffffff"/><stop offset="18.85%" stop-color="#ffffff"/><stop offset="25.13%" stop-color="#ffffff"/><stop offset="31.41%" stop-color="#ffffff"/><stop offset="37.7%" stop-color="#ffffff"/><stop offset="43.98%" stop-color="#ffffff"/><stop offset="50.26%" stop-color="#ffffff"/><stop offset="56.54%" stop-color="#ffffff"/><stop offset="64.92%" stop-color="#fafafe"/><stop offset="70.16%" stop-color="#ddddfb"/><stop offset="74.35%" stop-color="#a2a2f6"/><stop offset="77.49%" stop-color="#5151ed"/><stop offset="80.63%" stop-color="#1313af"/><stop offset="82.72%" stop-color="#020264"/><stop offset="83.77%" stop-color="#00005a"/><stop offset="84.82%" stop-color="#00005a"/><stop offset="85.86%" stop-color="#00005a"/><stop offset="87.96%" stop-color="#0c0c92"/><stop offset="89.01%" stop-color="#1010a4"/><stop offset="91.1%" stop-color="#1717bc"/><stop offset="92.15%" stop-color="#2525d5"/><stop offset="94.24%" stop-color="#7777f2"/><stop offset="98.43%" stop-color="#e5e5fc"/><stop offset="99.48%" stop-color="#fffefe"/><stop offset="100%" stop-color="#fdefef"/></linearGradient><linearGradient id="hA9" gradientUnits="userSpaceOnUse" x1="118.5" y1="0" x2="214" y2="0"><stop offset="0%" stop-color="#ffffff"/><stop offset="6.28%" stop-color="#ffffff"/><stop offset="12.57%" stop-color="#ffffff"/><stop offset="18.85%" stop-color="#ffffff"/><stop offset="25.13%" stop-color="#ffffff"/><stop offset="31.41%" stop-color="#ffffff"/><stop offset="37.7%" stop-color="#ffffff"/><stop offset="43.98%" stop-color="#ffffff"/><stop offset="50.26%" stop-color="#ffffff"/><stop offset="56.54%" stop-color="#fffdfd"/><stop offset="64.92%" stop-color="#fef3f3"/><stop offset="71.2%" stop-color="#fafafe"/><stop offset="73.3%" stop-color="#e5e5fc"/><stop offset="75.39%" stop-color="#bfbff8"/><stop offset="77.49%" stop-color="#7d7df2"/><stop offset="79.58%" stop-color="#2727d9"/><stop offset="81.68%" stop-color="#07077d"/><stop offset="82.72%" stop-color="#00005a"/><stop offset="83.77%" stop-color="#00005a"/><stop offset="84.82%" stop-color="#00005a"/><stop offset="85.86%" stop-color="#00005a"/><stop offset="87.96%" stop-color="#060675"/><stop offset="89.01%" stop-color="#0a0a8a"/><stop offset="91.1%" stop-color="#0f0f9f"/><stop offset="92.15%" stop-color="#1818be"/><stop offset="94.24%" stop-color="#6d6df0"/><stop offset="95.29%" stop-color="#9696f4"/><stop offset="98.43%" stop-color="#e7e7fc"/><stop offset="99.48%" stop-color="#fefafa"/><stop offset="100%" stop-color="#fdeaea"/></linearGradient><linearGradient id="hA10" gradientUnits="userSpaceOnUse" x1="118.5" y1="0" x2="214" y2="0"><stop offset="0%" stop-color="#ffffff"/><stop offset="6.28%" stop-color="#ffffff"/><stop offset="12.57%" stop-color="#ffffff"/><stop offset="18.85%" stop-color="#ffffff"/><stop offset="25.13%" stop-color="#ffffff"/><stop offset="31.41%" stop-color="#ffffff"/><stop offset="37.7%" stop-color="#ffffff"/><stop offset="43.98%" stop-color="#ffffff"/><stop offset="50.26%" stop-color="#ffffff"/><stop offset="56.54%" stop-color="#fefafa"/><stop offset="64.92%" stop-color="#fce3e3"/><stop offset="73.3%" stop-color="#ffffff"/><stop offset="75.39%" stop-color="#eaeafd"/><stop offset="76.44%" stop-color="#d8d8fb"/><stop offset="77.49%" stop-color="#bdbdf8"/><stop offset="78.53%" stop-color="#9494f4"/><stop offset="79.58%" stop-color="#5a5aee"/><stop offset="80.63%" stop-color="#2222ce"/><stop offset="81.68%" stop-color="#0a0a87"/><stop offset="82.72%" stop-color="#00005a"/><stop offset="83.77%" stop-color="#00005a"/><stop offset="84.82%" stop-color="#00005a"/><stop offset="85.86%" stop-color="#00005a"/><stop offset="86.91%" stop-color="#00005a"/><stop offset="87.96%" stop-color="#00005a"/><stop offset="89.01%" stop-color="#050571"/><stop offset="91.1%" stop-color="#090985"/><stop offset="92.15%" stop-color="#1111aa"/><stop offset="94.24%" stop-color="#6767ef"/><stop offset="95.29%" stop-color="#9797f5"/><stop offset="98.43%" stop-color="#ececfd"/><stop offset="99.48%" stop-color="#fef4f4"/><stop offset="100%" stop-color="#fce3e3"/></linearGradient><linearGradient id="hA11" gradientUnits="userSpaceOnUse" x1="118.5" y1="0" x2="214" y2="0"><stop offset="0%" stop-color="#ffffff"/><stop offset="6.28%" stop-color="#ffffff"/><stop offset="12.57%" stop-color="#ffffff"/><stop offset="18.85%" stop-color="#ffffff"/><stop offset="25.13%" stop-color="#ffffff"/><stop offset="31.41%" stop-color="#ffffff"/><stop offset="37.7%" stop-color="#ffffff"/><stop offset="43.98%" stop-color="#ffffff"/><stop offset="50.26%" stop-color="#ffffff"/><stop offset="56.54%" stop-color="#fef7f7"/><stop offset="64.92%" stop-color="#fad1d1"/><stop offset="73.3%" stop-color="#fefafa"/><stop offset="74.35%" stop-color="#fbfbff"/><stop offset="76.44%" stop-color="#e4e4fc"/><stop offset="77.49%" stop-color="#d1d1fa"/><stop offset="78.53%" stop-color="#b6b6f7"/><stop offset="79.58%" stop-color="#8b8bf3"/><stop offset="80.63%" stop-color="#4444eb"/><stop offset="81.68%" stop-color="#1212ac"/><stop offset="82.72%" stop-color="#00005a"/><stop offset="83.77%" stop-color="#00005a"/><stop offset="84.82%" stop-color="#00005a"/><stop offset="85.86%" stop-color="#00005a"/><stop offset="86.91%" stop-color="#00005a"/><stop offset="87.96%" stop-color="#020261"/><stop offset="89.01%" stop-color="#060677"/><stop offset="90.05%" stop-color="#060679"/><stop offset="91.1%" stop-color="#080882"/><stop offset="92.15%" stop-color="#1111a6"/><stop offset="94.24%" stop-color="#6c6cf0"/><stop offset="95.29%" stop-color="#9d9df5"/><stop offset="98.43%" stop-color="#f3f3fe"/><stop offset="99.48%" stop-color="#fdeded"/><stop offset="100%" stop-color="#fbdbdb"/></linearGradient><linearGradient id="hA12" gradientUnits="userSpaceOnUse" x1="118.5" y1="0" x2="214" y2="0"><stop offset="0%" stop-color="#ffffff"/><stop offset="6.28%" stop-color="#ffffff"/><stop offset="12.57%" stop-color="#ffffff"/><stop offset="18.85%" stop-color="#ffffff"/><stop offset="25.13%" stop-color="#ffffff"/><stop offset="31.41%" stop-color="#ffffff"/><stop offset="37.7%" stop-color="#ffffff"/><stop offset="43.98%" stop-color="#ffffff"/><stop offset="50.26%" stop-color="#ffffff"/><stop offset="56.54%" stop-color="#fef6f6"/><stop offset="64.92%" stop-color="#facccc"/><stop offset="73.3%" stop-color="#fef8f8"/><stop offset="74.35%" stop-color="#fdfdff"/><stop offset="77.49%" stop-color="#d8d8fb"/><stop offset="78.53%" stop-color="#c1c1f8"/><stop offset="79.58%" stop-color="#9e9ef5"/><stop offset="80.63%" stop-color="#6464ef"/><stop offset="81.68%" stop-color="#2121cd"/><stop offset="82.72%" stop-color="#060678"/><stop offset="83.77%" stop-color="#00005a"/><stop offset="84.82%" stop-color="#00005a"/><stop offset="85.86%" stop-color="#00005a"/><stop offset="86.91%" stop-color="#030367"/><stop offset="87.96%" stop-color="#0b0b90"/><stop offset="89.01%" stop-color="#0e0e9c"/><stop offset="90.05%" stop-color="#0d0d96"/><stop offset="91.1%" stop-color="#0d0d97"/><stop offset="92.15%" stop-color="#1515b8"/><stop offset="94.24%" stop-color="#7d7df2"/><stop offset="95.29%" stop-color="#ababf6"/><stop offset="98.43%" stop-color="#fafafe"/><stop offset="99.48%" stop-color="#fce6e6"/><stop offset="100%" stop-color="#fad5d5"/></linearGradient><linearGradient id="hA13" gradientUnits="userSpaceOnUse" x1="118.5" y1="0" x2="214" y2="0"><stop offset="0%" stop-color="#ffffff"/><stop offset="6.28%" stop-color="#ffffff"/><stop offset="12.57%" stop-color="#ffffff"/><stop offset="18.85%" stop-color="#ffffff"/><stop offset="25.13%" stop-color="#ffffff"/><stop offset="31.41%" stop-color="#ffffff"/><stop offset="37.7%" stop-color="#ffffff"/><stop offset="43.98%" stop-color="#ffffff"/><stop offset="50.26%" stop-color="#ffffff"/><stop offset="56.54%" stop-color="#fef9f9"/><stop offset="64.92%" stop-color="#fbd9d9"/><stop offset="73.3%" stop-color="#fffafa"/><stop offset="77.49%" stop-color="#e1e1fc"/><stop offset="78.53%" stop-color="#d1d1fa"/><stop offset="79.58%" stop-color="#b8b8f8"/><stop offset="80.63%" stop-color="#9090f4"/><stop offset="81.68%" stop-color="#4b4bec"/><stop offset="82.72%" stop-color="#1717bc"/><stop offset="83.77%" stop-color="#080880"/><stop offset="84.82%" stop-color="#04046b"/><stop offset="85.86%" stop-color="#090987"/><stop offset="86.91%" stop-color="#1313b0"/><stop offset="87.96%" stop-color="#2020cc"/><stop offset="89.01%" stop-color="#2323d1"/><stop offset="90.05%" stop-color="#1d1dc5"/><stop offset="91.1%" stop-color="#1a1ac1"/><stop offset="92.15%" stop-color="#2727d8"/><stop offset="94.24%" stop-color="#9898f5"/><stop offset="95.29%" stop-color="#bfbff8"/><stop offset="97.38%" stop-color="#ebebfd"/><stop offset="98.43%" stop-color="#fffdfd"/><stop offset="100%" stop-color="#fad2d2"/></linearGradient><linearGradient id="hA14" gradientUnits="userSpaceOnUse" x1="118.5" y1="0" x2="214" y2="0"><stop offset="0%" stop-color="#ffffff"/><stop offset="6.28%" stop-color="#ffffff"/><stop offset="12.57%" stop-color="#ffffff"/><stop offset="18.85%" stop-color="#ffffff"/><stop offset="25.13%" stop-color="#ffffff"/><stop offset="31.41%" stop-color="#ffffff"/><stop offset="37.7%" stop-color="#ffffff"/><stop offset="43.98%" stop-color="#ffffff"/><stop offset="50.26%" stop-color="#ffffff"/><stop offset="56.54%" stop-color="#fffcfc"/><stop offset="64.92%" stop-color="#fdeeee"/><stop offset="73.3%" stop-color="#fffefe"/><stop offset="78.53%" stop-color="#e2e2fc"/><stop offset="79.58%" stop-color="#d3d3fa"/><stop offset="80.63%" stop-color="#bcbcf8"/><stop offset="81.68%" stop-color="#9292f4"/><stop offset="83.77%" stop-color="#2727d8"/><stop offset="84.82%" stop-color="#1f1fca"/><stop offset="85.86%" stop-color="#2929db"/><stop offset="86.91%" stop-color="#4848eb"/><stop offset="87.96%" stop-color="#6363ef"/><stop offset="89.01%" stop-color="#6161ef"/><stop offset="90.05%" stop-color="#4b4bec"/><stop offset="91.1%" stop-color="#3f3fea"/><stop offset="92.15%" stop-color="#5757ed"/><stop offset="94.24%" stop-color="#b7b7f7"/><stop offset="95.29%" stop-color="#d4d4fa"/><stop offset="97.38%" stop-color="#f5f5fe"/><stop offset="98.43%" stop-color="#fef8f8"/><stop offset="100%" stop-color="#fbd6d6"/></linearGradient><linearGradient id="hA15" gradientUnits="userSpaceOnUse" x1="118.5" y1="0" x2="214" y2="0"><stop offset="0%" stop-color="#ffffff"/><stop offset="6.28%" stop-color="#ffffff"/><stop offset="12.57%" stop-color="#ffffff"/><stop offset="18.85%" stop-color="#ffffff"/><stop offset="25.13%" stop-color="#ffffff"/><stop offset="31.41%" stop-color="#ffffff"/><stop offset="37.7%" stop-color="#ffffff"/><stop offset="43.98%" stop-color="#ffffff"/><stop offset="50.26%" stop-color="#ffffff"/><stop offset="56.54%" stop-color="#ffffff"/><stop offset="64.92%" stop-color="#fffdfd"/><stop offset="73.3%" stop-color="#fdfdff"/><stop offset="78.53%" stop-color="#ededfd"/><stop offset="80.63%" stop-color="#d8d8fb"/><stop offset="81.68%" stop-color="#c1c1f8"/><stop offset="83.77%" stop-color="#7c7cf2"/><stop offset="84.82%" stop-color="#6e6ef0"/><stop offset="85.86%" stop-color="#7b7bf2"/><stop offset="86.91%" stop-color="#9292f4"/><stop offset="87.96%" stop-color="#a0a0f5"/><stop offset="89.01%" stop-color="#9d9df5"/><stop offset="91.1%" stop-color="#8888f3"/><stop offset="92.15%" stop-color="#9696f4"/><stop offset="94.24%" stop-color="#d2d2fa"/><stop offset="97.38%" stop-color="#fafafe"/><stop offset="98.43%" stop-color="#fef9f9"/><stop offset="100%" stop-color="#fce4e4"/></linearGradient><linearGradient id="hA16" gradientUnits="userSpaceOnUse" x1="118.5" y1="0" x2="214" y2="0"><stop offset="0%" stop-color="#ffffff"/><stop offset="6.28%" stop-color="#ffffff"/><stop offset="12.57%" stop-color="#ffffff"/><stop offset="18.85%" stop-color="#ffffff"/><stop offset="25.13%" stop-color="#ffffff"/><stop offset="31.41%" stop-color="#ffffff"/><stop offset="37.7%" stop-color="#ffffff"/><stop offset="43.98%" stop-color="#ffffff"/><stop offset="50.26%" stop-color="#ffffff"/><stop offset="56.54%" stop-color="#ffffff"/><stop offset="64.92%" stop-color="#ffffff"/><stop offset="73.3%" stop-color="#fefeff"/><stop offset="81.68%" stop-color="#eaeafd"/><stop offset="86.91%" stop-color="#d4d4fa"/><stop offset="95.29%" stop-color="#f4f4fe"/><stop offset="100%" stop-color="#ffffff"/></linearGradient><linearGradient id="hB0" gradientUnits="userSpaceOnUse" x1="214" y1="0" x2="258" y2="0"><stop offset="0%" stop-color="#e3e3fc"/><stop offset="4.55%" stop-color="#fbfbff"/><stop offset="6.82%" stop-color="#fdf0f0"/><stop offset="11.36%" stop-color="#f8c2c2"/><stop offset="13.64%" stop-color="#f7b1b1"/><stop offset="15.91%" stop-color="#f6afaf"/><stop offset="22.73%" stop-color="#fce7e7"/><stop offset="23.86%" stop-color="#fffefe"/><stop offset="25%" stop-color="#d4d4fa"/><stop offset="26.14%" stop-color="#9999f5"/><stop offset="27.27%" stop-color="#7979f2"/><stop offset="28.41%" stop-color="#9494f4"/><stop offset="29.55%" stop-color="#ccccfa"/><stop offset="30.68%" stop-color="#fafafe"/><stop offset="31.82%" stop-color="#fce3e3"/><stop offset="34.09%" stop-color="#f5a7a7"/><stop offset="35.23%" stop-color="#f5a4a4"/><stop offset="36.36%" stop-color="#f8bcbc"/><stop offset="38.64%" stop-color="#fdf0f0"/><stop offset="39.77%" stop-color="#ffffff"/><stop offset="40.91%" stop-color="#eeeefd"/><stop offset="42.05%" stop-color="#cdcdfa"/><stop offset="43.18%" stop-color="#9b9bf5"/><stop offset="44.32%" stop-color="#7c7cf2"/><stop offset="45.45%" stop-color="#8e8ef4"/><stop offset="46.59%" stop-color="#c7c7f9"/><stop offset="47.73%" stop-color="#fef8f8"/><stop offset="48.86%" stop-color="#f9c8c8"/><stop offset="50%" stop-color="#f7b4b4"/><stop offset="51.14%" stop-color="#f9c3c3"/><stop offset="52.27%" stop-color="#fce5e5"/><stop offset="53.41%" stop-color="#f2f2fe"/><stop offset="54.55%" stop-color="#c7c7f9"/><stop offset="55.68%" stop-color="#a4a4f6"/><stop offset="56.82%" stop-color="#a8a8f6"/><stop offset="57.95%" stop-color="#cfcffa"/><stop offset="59.09%" stop-color="#ffffff"/><stop offset="60.23%" stop-color="#fbdada"/><stop offset="61.36%" stop-color="#fad0d0"/><stop offset="62.5%" stop-color="#fdebeb"/><stop offset="63.64%" stop-color="#e5e5fc"/><stop offset="64.77%" stop-color="#bcbcf8"/><stop offset="65.91%" stop-color="#afaff7"/><stop offset="67.05%" stop-color="#c7c7f9"/><stop offset="68.18%" stop-color="#ededfd"/><stop offset="69.32%" stop-color="#fdeeee"/><stop offset="70.45%" stop-color="#fce0e0"/><stop offset="71.59%" stop-color="#fdeeee"/><stop offset="72.73%" stop-color="#efeffd"/><stop offset="73.86%" stop-color="#cecefa"/><stop offset="75%" stop-color="#bfbff8"/><stop offset="76.14%" stop-color="#cdcdfa"/><stop offset="77.27%" stop-color="#eaeafd"/><stop offset="78.41%" stop-color="#fef9f9"/><stop offset="79.55%" stop-color="#fdeded"/><stop offset="80.68%" stop-color="#fef8f8"/><stop offset="81.82%" stop-color="#eeeefd"/><stop offset="82.95%" stop-color="#d4d4fa"/><stop offset="84.09%" stop-color="#c9c9f9"/><stop offset="85.23%" stop-color="#d3d3fa"/><stop offset="87.5%" stop-color="#f9f9fe"/><stop offset="88.64%" stop-color="#fffefe"/><stop offset="96.59%" stop-color="#dcdcfb"/><stop offset="100%" stop-color="#d8d8fb"/></linearGradient><linearGradient id="hB1" gradientUnits="userSpaceOnUse" x1="214" y1="0" x2="258" y2="0"><stop offset="0%" stop-color="#e4e4fc"/><stop offset="2.27%" stop-color="#f2f2fe"/><stop offset="4.55%" stop-color="#fffbfb"/><stop offset="11.36%" stop-color="#f8bfbf"/><stop offset="13.64%" stop-color="#f7b1b1"/><stop offset="15.91%" stop-color="#f6b0b0"/><stop offset="22.73%" stop-color="#fce7e7"/><stop offset="23.86%" stop-color="#fffefe"/><stop offset="25%" stop-color="#d4d4fa"/><stop offset="26.14%" stop-color="#9999f5"/><stop offset="27.27%" stop-color="#7979f2"/><stop offset="28.41%" stop-color="#9494f4"/><stop offset="29.55%" stop-color="#ccccfa"/><stop offset="30.68%" stop-color="#fafafe"/><stop offset="31.82%" stop-color="#fce3e3"/><stop offset="34.09%" stop-color="#f5a7a7"/><stop offset="35.23%" stop-color="#f5a4a4"/><stop offset="36.36%" stop-color="#f8bcbc"/><stop offset="38.64%" stop-color="#fdf0f0"/><stop offset="39.77%" stop-color="#ffffff"/><stop offset="40.91%" stop-color="#eeeefd"/><stop offset="42.05%" stop-color="#cdcdfa"/><stop offset="43.18%" stop-color="#9b9bf5"/><stop offset="44.32%" stop-color="#7c7cf2"/><stop offset="45.45%" stop-color="#8e8ef4"/><stop offset="46.59%" stop-color="#c7c7f9"/><stop offset="47.73%" stop-color="#fef8f8"/><stop offset="48.86%" stop-color="#f9c8c8"/><stop offset="50%" stop-color="#f7b4b4"/><stop offset="51.14%" stop-color="#f9c3c3"/><stop offset="52.27%" stop-color="#fce5e5"/><stop offset="53.41%" stop-color="#f2f2fe"/><stop offset="54.55%" stop-color="#c7c7f9"/><stop offset="55.68%" stop-color="#a4a4f6"/><stop offset="56.82%" stop-color="#a8a8f6"/><stop offset="57.95%" stop-color="#cfcffa"/><stop offset="59.09%" stop-color="#ffffff"/><stop offset="60.23%" stop-color="#fbdada"/><stop offset="61.36%" stop-color="#fad0d0"/><stop offset="62.5%" stop-color="#fdebeb"/><stop offset="63.64%" stop-color="#e5e5fc"/><stop offset="64.77%" stop-color="#bcbcf8"/><stop offset="65.91%" stop-color="#afaff7"/><stop offset="67.05%" stop-color="#c7c7f9"/><stop offset="68.18%" stop-color="#ededfd"/><stop offset="69.32%" stop-color="#fdeeee"/><stop offset="70.45%" stop-color="#fce0e0"/><stop offset="71.59%" stop-color="#fdeeee"/><stop offset="72.73%" stop-color="#efeffd"/><stop offset="73.86%" stop-color="#cecefa"/><stop offset="75%" stop-color="#c0c0f8"/><stop offset="76.14%" stop-color="#cdcdfa"/><stop offset="77.27%" stop-color="#eaeafd"/><stop offset="78.41%" stop-color="#fef8f8"/><stop offset="79.55%" stop-color="#fdeded"/><stop offset="80.68%" stop-color="#fef7f7"/><stop offset="81.82%" stop-color="#eeeefd"/><stop offset="82.95%" stop-color="#d5d5fa"/><stop offset="84.09%" stop-color="#c9c9f9"/><stop offset="85.23%" stop-color="#d3d3fa"/><stop offset="87.5%" stop-color="#fafafe"/><stop offset="88.64%" stop-color="#fffdfd"/><stop offset="96.59%" stop-color="#dedefb"/><stop offset="100%" stop-color="#dbdbfb"/></linearGradient><linearGradient id="hB2" gradientUnits="userSpaceOnUse" x1="214" y1="0" x2="258" y2="0"><stop offset="0%" stop-color="#f3f3fe"/><stop offset="2.27%" stop-color="#fefafa"/><stop offset="11.36%" stop-color="#f7b9b9"/><stop offset="15.91%" stop-color="#f6b0b0"/><stop offset="22.73%" stop-color="#fce7e7"/><stop offset="23.86%" stop-color="#fffefe"/><stop offset="25%" stop-color="#d4d4fa"/><stop offset="26.14%" stop-color="#9898f5"/><stop offset="27.27%" stop-color="#7878f2"/><stop offset="28.41%" stop-color="#9393f4"/><stop offset="29.55%" stop-color="#ccccf9"/><stop offset="30.68%" stop-color="#fafafe"/><stop offset="31.82%" stop-color="#fce2e2"/><stop offset="34.09%" stop-color="#f5a6a6"/><stop offset="35.23%" stop-color="#f5a3a3"/><stop offset="36.36%" stop-color="#f8bbbb"/><stop offset="38.64%" stop-color="#fdf0f0"/><stop offset="39.77%" stop-color="#ffffff"/><stop offset="40.91%" stop-color="#eeeefd"/><stop offset="42.05%" stop-color="#ccccfa"/><stop offset="43.18%" stop-color="#9b9bf5"/><stop offset="44.32%" stop-color="#7b7bf2"/><stop offset="45.45%" stop-color="#8d8df4"/><stop offset="46.59%" stop-color="#c7c7f9"/><stop offset="47.73%" stop-color="#fef8f8"/><stop offset="48.86%" stop-color="#f9c8c8"/><stop offset="50%" stop-color="#f7b4b4"/><stop offset="51.14%" stop-color="#f9c3c3"/><stop offset="52.27%" stop-color="#fce5e5"/><stop offset="53.41%" stop-color="#f2f2fe"/><stop offset="54.55%" stop-color="#c7c7f9"/><stop offset="55.68%" stop-color="#a3a3f6"/><stop offset="56.82%" stop-color="#a7a7f6"/><stop offset="57.95%" stop-color="#cfcffa"/><stop offset="59.09%" stop-color="#ffffff"/><stop offset="60.23%" stop-color="#fbd9d9"/><stop offset="61.36%" stop-color="#fad0d0"/><stop offset="62.5%" stop-color="#fdebeb"/><stop offset="63.64%" stop-color="#e5e5fc"/><stop offset="64.77%" stop-color="#bcbcf8"/><stop offset="65.91%" stop-color="#afaff7"/><stop offset="67.05%" stop-color="#c7c7f9"/><stop offset="68.18%" stop-color="#eeeefd"/><stop offset="69.32%" stop-color="#fdeeee"/><stop offset="70.45%" stop-color="#fce0e0"/><stop offset="71.59%" stop-color="#fdeeee"/><stop offset="72.73%" stop-color="#efeffd"/><stop offset="73.86%" stop-color="#cecefa"/><stop offset="75%" stop-color="#bfbff8"/><stop offset="76.14%" stop-color="#cdcdfa"/><stop offset="77.27%" stop-color="#ebebfd"/><stop offset="78.41%" stop-color="#fef8f8"/><stop offset="79.55%" stop-color="#fdecec"/><stop offset="80.68%" stop-color="#fef7f7"/><stop offset="81.82%" stop-color="#eeeefd"/><stop offset="82.95%" stop-color="#d5d5fa"/><stop offset="84.09%" stop-color="#cacaf9"/><stop offset="85.23%" stop-color="#d4d4fa"/><stop offset="87.5%" stop-color="#fbfbff"/><stop offset="88.64%" stop-color="#fffcfc"/><stop offset="96.59%" stop-color="#e0e0fc"/><stop offset="100%" stop-color="#dedefb"/></linearGradient><linearGradient id="hB3" gradientUnits="userSpaceOnUse" x1="214" y1="0" x2="258" y2="0"><stop offset="0%" stop-color="#ffffff"/><stop offset="2.27%" stop-color="#fdeeee"/><stop offset="9.09%" stop-color="#f8bfbf"/><stop offset="13.64%" stop-color="#f6acac"/><stop offset="15.91%" stop-color="#f6acac"/><stop offset="22.73%" stop-color="#fce6e6"/><stop offset="23.86%" stop-color="#fffefe"/><stop offset="25%" stop-color="#d2d2fa"/><stop offset="26.14%" stop-color="#9292f4"/><stop offset="27.27%" stop-color="#7070f1"/><stop offset="28.41%" stop-color="#8d8df4"/><stop offset="29.55%" stop-color="#c9c9f9"/><stop offset="30.68%" stop-color="#f9f9fe"/><stop offset="31.82%" stop-color="#fce1e1"/><stop offset="34.09%" stop-color="#f5a1a1"/><stop offset="35.23%" stop-color="#f49e9e"/><stop offset="36.36%" stop-color="#f7b7b7"/><stop offset="38.64%" stop-color="#fdf0f0"/><stop offset="39.77%" stop-color="#ffffff"/><stop offset="40.91%" stop-color="#ededfd"/><stop offset="42.05%" stop-color="#c9c9f9"/><stop offset="43.18%" stop-color="#9595f4"/><stop offset="44.32%" stop-color="#7373f1"/><stop offset="45.45%" stop-color="#8686f3"/><stop offset="46.59%" stop-color="#c4c4f9"/><stop offset="47.73%" stop-color="#fef8f8"/><stop offset="48.86%" stop-color="#f9c5c5"/><stop offset="50%" stop-color="#f6afaf"/><stop offset="51.14%" stop-color="#f8bfbf"/><stop offset="52.27%" stop-color="#fce3e3"/><stop offset="53.41%" stop-color="#f2f2fe"/><stop offset="54.55%" stop-color="#c4c4f9"/><stop offset="55.68%" stop-color="#9f9ff5"/><stop offset="56.82%" stop-color="#a3a3f6"/><stop offset="57.95%" stop-color="#cdcdfa"/><stop offset="59.09%" stop-color="#fffefe"/><stop offset="60.23%" stop-color="#fbd6d6"/><stop offset="61.36%" stop-color="#facccc"/><stop offset="62.5%" stop-color="#fde8e8"/><stop offset="63.64%" stop-color="#e5e5fc"/><stop offset="64.77%" stop-color="#b9b9f8"/><stop offset="65.91%" stop-color="#ababf6"/><stop offset="67.05%" stop-color="#c4c4f9"/><stop offset="68.18%" stop-color="#eeeefd"/><stop offset="69.32%" stop-color="#fdecec"/><stop offset="70.45%" stop-color="#fbdddd"/><stop offset="71.59%" stop-color="#fdecec"/><stop offset="72.73%" stop-color="#efeffd"/><stop offset="73.86%" stop-color="#cdcdfa"/><stop offset="75%" stop-color="#bdbdf8"/><stop offset="76.14%" stop-color="#cbcbf9"/><stop offset="77.27%" stop-color="#ebebfd"/><stop offset="78.41%" stop-color="#fef6f6"/><stop offset="79.55%" stop-color="#fdeaea"/><stop offset="80.68%" stop-color="#fef5f5"/><stop offset="81.82%" stop-color="#efeffd"/><stop offset="82.95%" stop-color="#d4d4fa"/><stop offset="84.09%" stop-color="#c8c8f9"/><stop offset="85.23%" stop-color="#d3d3fa"/><stop offset="87.5%" stop-color="#fdfdff"/><stop offset="88.64%" stop-color="#fefafa"/><stop offset="96.59%" stop-color="#e2e2fc"/><stop offset="100%" stop-color="#e1e1fc"/></linearGradient><linearGradient id="hB4" gradientUnits="userSpaceOnUse" x1="214" y1="0" x2="258" y2="0"><stop offset="0%" stop-color="#fef8f8"/><stop offset="9.09%" stop-color="#f5a3a3"/><stop offset="13.64%" stop-color="#f38f8f"/><stop offset="15.91%" stop-color="#f39191"/><stop offset="21.59%" stop-color="#f9cccc"/><stop offset="22.73%" stop-color="#fbdcdc"/><stop offset="23.86%" stop-color="#fef7f7"/><stop offset="25%" stop-color="#d0d0fa"/><stop offset="26.14%" stop-color="#8787f3"/><stop offset="27.27%" stop-color="#5d5dee"/><stop offset="28.41%" stop-color="#7f7ff2"/><stop offset="29.55%" stop-color="#c3c3f9"/><stop offset="30.68%" stop-color="#fafafe"/><stop offset="31.82%" stop-color="#fbdbdb"/><stop offset="32.95%" stop-color="#f7b3b3"/><stop offset="34.09%" stop-color="#f39292"/><stop offset="35.23%" stop-color="#f38e8e"/><stop offset="36.36%" stop-color="#f6abab"/><stop offset="37.5%" stop-color="#fad2d2"/><stop offset="38.64%" stop-color="#fdeded"/><stop offset="39.77%" stop-color="#fffefe"/><stop offset="40.91%" stop-color="#ebebfd"/><stop offset="42.05%" stop-color="#c2c2f8"/><stop offset="43.18%" stop-color="#8686f3"/><stop offset="44.32%" stop-color="#5d5dee"/><stop offset="45.45%" stop-color="#7474f1"/><stop offset="46.59%" stop-color="#bbbbf8"/><stop offset="47.73%" stop-color="#fef6f6"/><stop offset="48.86%" stop-color="#f8bcbc"/><stop offset="50%" stop-color="#f5a2a2"/><stop offset="51.14%" stop-color="#f7b5b5"/><stop offset="52.27%" stop-color="#fbdede"/><stop offset="53.41%" stop-color="#f1f1fe"/><stop offset="54.55%" stop-color="#bdbdf8"/><stop offset="55.68%" stop-color="#9292f4"/><stop offset="56.82%" stop-color="#9797f5"/><stop offset="57.95%" stop-color="#c8c8f9"/><stop offset="59.09%" stop-color="#fffcfc"/><stop offset="60.23%" stop-color="#facfcf"/><stop offset="61.36%" stop-color="#f9c3c3"/><stop offset="62.5%" stop-color="#fce3e3"/><stop offset="63.64%" stop-color="#e3e3fc"/><stop offset="64.77%" stop-color="#b1b1f7"/><stop offset="65.91%" stop-color="#a2a2f5"/><stop offset="67.05%" stop-color="#bfbff8"/><stop offset="68.18%" stop-color="#eeeefd"/><stop offset="69.32%" stop-color="#fce7e7"/><stop offset="70.45%" stop-color="#fbd5d5"/><stop offset="71.59%" stop-color="#fce7e7"/><stop offset="72.73%" stop-color="#efeffd"/><stop offset="73.86%" stop-color="#c8c8f9"/><stop offset="75%" stop-color="#b6b6f7"/><stop offset="76.14%" stop-color="#c6c6f9"/><stop offset="77.27%" stop-color="#eaeafd"/><stop offset="78.41%" stop-color="#fef2f2"/><stop offset="79.55%" stop-color="#fce4e4"/><stop offset="80.68%" stop-color="#fdf1f1"/><stop offset="81.82%" stop-color="#efeffd"/><stop offset="82.95%" stop-color="#d1d1fa"/><stop offset="84.09%" stop-color="#c3c3f9"/><stop offset="85.23%" stop-color="#cfcffa"/><stop offset="86.36%" stop-color="#e9e9fd"/><stop offset="87.5%" stop-color="#ffffff"/><stop offset="88.64%" stop-color="#fef6f6"/><stop offset="89.77%" stop-color="#fffcfc"/><stop offset="90.91%" stop-color="#f6f6fe"/><stop offset="96.59%" stop-color="#e3e3fc"/><stop offset="100%" stop-color="#e2e2fc"/></linearGradient><linearGradient id="hB5" gradientUnits="userSpaceOnUse" x1="214" y1="0" x2="258" y2="0"><stop offset="0%" stop-color="#fdf0f0"/><stop offset="6.82%" stop-color="#f38d8d"/><stop offset="9.09%" stop-color="#ef7070"/><stop offset="11.36%" stop-color="#eb5d5d"/><stop offset="13.64%" stop-color="#ea5656"/><stop offset="15.91%" stop-color="#eb5e5e"/><stop offset="21.59%" stop-color="#f6b0b0"/><stop offset="22.73%" stop-color="#f9c6c6"/><stop offset="23.86%" stop-color="#fde8e8"/><stop offset="25%" stop-color="#d5d5fb"/><stop offset="26.14%" stop-color="#7e7ef2"/><stop offset="27.27%" stop-color="#4b4bec"/><stop offset="28.41%" stop-color="#7171f1"/><stop offset="29.55%" stop-color="#bfbff8"/><stop offset="30.68%" stop-color="#fdfdff"/><stop offset="31.82%" stop-color="#fad3d3"/><stop offset="32.95%" stop-color="#f5a5a5"/><stop offset="34.09%" stop-color="#f17f7f"/><stop offset="35.23%" stop-color="#f17b7b"/><stop offset="36.36%" stop-color="#f49d9d"/><stop offset="37.5%" stop-color="#f9caca"/><stop offset="38.64%" stop-color="#fdeaea"/><stop offset="39.77%" stop-color="#fffefe"/><stop offset="40.91%" stop-color="#e8e8fd"/><stop offset="42.05%" stop-color="#b8b8f8"/><stop offset="43.18%" stop-color="#7272f1"/><stop offset="44.32%" stop-color="#4242ea"/><stop offset="45.45%" stop-color="#5d5dee"/><stop offset="46.59%" stop-color="#b1b1f7"/><stop offset="47.73%" stop-color="#fef5f5"/><stop offset="48.86%" stop-color="#f6b0b0"/><stop offset="50%" stop-color="#f39292"/><stop offset="51.14%" stop-color="#f6a8a8"/><stop offset="52.27%" stop-color="#fbd8d8"/><stop offset="53.41%" stop-color="#f1f1fd"/><stop offset="54.55%" stop-color="#b5b5f7"/><stop offset="55.68%" stop-color="#8484f3"/><stop offset="56.82%" stop-color="#8a8af3"/><stop offset="57.95%" stop-color="#c3c3f9"/><stop offset="59.09%" stop-color="#fef8f8"/><stop offset="60.23%" stop-color="#f9c3c3"/><stop offset="61.36%" stop-color="#f7b5b5"/><stop offset="62.5%" stop-color="#fbdada"/><stop offset="63.64%" stop-color="#e3e3fc"/><stop offset="64.77%" stop-color="#aaaaf6"/><stop offset="65.91%" stop-color="#9797f5"/><stop offset="67.05%" stop-color="#b9b9f8"/><stop offset="68.18%" stop-color="#efeffd"/><stop offset="69.32%" stop-color="#fcdfdf"/><stop offset="70.45%" stop-color="#f9cbcb"/><stop offset="71.59%" stop-color="#fcdfdf"/><stop offset="72.73%" stop-color="#f1f1fe"/><stop offset="73.86%" stop-color="#c3c3f9"/><stop offset="75%" stop-color="#aeaef7"/><stop offset="76.14%" stop-color="#c2c2f8"/><stop offset="77.27%" stop-color="#ebebfd"/><stop offset="78.41%" stop-color="#fdeded"/><stop offset="79.55%" stop-color="#fbdcdc"/><stop offset="80.68%" stop-color="#fdebeb"/><stop offset="81.82%" stop-color="#f0f0fd"/><stop offset="82.95%" stop-color="#cdcdfa"/><stop offset="84.09%" stop-color="#bdbdf8"/><stop offset="85.23%" stop-color="#cbcbf9"/><stop offset="86.36%" stop-color="#e9e9fd"/><stop offset="87.5%" stop-color="#fffcfc"/><stop offset="88.64%" stop-color="#fef2f2"/><stop offset="89.77%" stop-color="#fef8f8"/><stop offset="90.91%" stop-color="#f9f9fe"/><stop offset="96.59%" stop-color="#e6e6fc"/><stop offset="100%" stop-color="#e4e4fc"/></linearGradient><linearGradient id="hB6" gradientUnits="userSpaceOnUse" x1="214" y1="0" x2="258" y2="0"><stop offset="0%" stop-color="#fde9e9"/><stop offset="6.82%" stop-color="#f07575"/><stop offset="9.09%" stop-color="#e95454"/><stop offset="11.36%" stop-color="#e53f3f"/><stop offset="13.64%" stop-color="#e53b3b"/><stop offset="15.91%" stop-color="#e74848"/><stop offset="21.59%" stop-color="#f5a1a1"/><stop offset="22.73%" stop-color="#f7b9b9"/><stop offset="23.86%" stop-color="#fcdfdf"/><stop offset="25%" stop-color="#d9d9fb"/><stop offset="26.14%" stop-color="#7a7af2"/><stop offset="27.27%" stop-color="#4141ea"/><stop offset="28.41%" stop-color="#6969f0"/><stop offset="29.55%" stop-color="#bdbdf8"/><stop offset="30.68%" stop-color="#fffefe"/><stop offset="32.95%" stop-color="#f49a9a"/><stop offset="34.09%" stop-color="#ef7272"/><stop offset="35.23%" stop-color="#ee6e6e"/><stop offset="36.36%" stop-color="#f39393"/><stop offset="37.5%" stop-color="#f9c5c5"/><stop offset="38.64%" stop-color="#fde8e8"/><stop offset="39.77%" stop-color="#fffefe"/><stop offset="40.91%" stop-color="#e6e6fc"/><stop offset="42.05%" stop-color="#b2b2f7"/><stop offset="43.18%" stop-color="#6464ef"/><stop offset="44.32%" stop-color="#3030e8"/><stop offset="45.45%" stop-color="#4d4dec"/><stop offset="46.59%" stop-color="#a9a9f6"/><stop offset="47.73%" stop-color="#fef4f4"/><stop offset="48.86%" stop-color="#f6a8a8"/><stop offset="50%" stop-color="#f28686"/><stop offset="51.14%" stop-color="#f49d9d"/><stop offset="52.27%" stop-color="#fad2d2"/><stop offset="53.41%" stop-color="#f3f3fe"/><stop offset="54.55%" stop-color="#b2b2f7"/><stop offset="55.68%" stop-color="#7e7ef2"/><stop offset="56.82%" stop-color="#8585f3"/><stop offset="57.95%" stop-color="#c4c4f9"/><stop offset="59.09%" stop-color="#fdf0f0"/><stop offset="60.23%" stop-color="#f7b5b5"/><stop offset="61.36%" stop-color="#f5a4a4"/><stop offset="62.5%" stop-color="#facece"/><stop offset="63.64%" stop-color="#eaeafd"/><stop offset="64.77%" stop-color="#ababf6"/><stop offset="65.91%" stop-color="#9797f5"/><stop offset="67.05%" stop-color="#bbbbf8"/><stop offset="68.18%" stop-color="#f6f6fe"/><stop offset="69.32%" stop-color="#fad3d3"/><stop offset="70.45%" stop-color="#f8bebe"/><stop offset="71.59%" stop-color="#fad3d3"/><stop offset="72.73%" stop-color="#f9f9fe"/><stop offset="73.86%" stop-color="#c7c7f9"/><stop offset="75%" stop-color="#b0b0f7"/><stop offset="76.14%" stop-color="#c5c5f9"/><stop offset="77.27%" stop-color="#f2f2fe"/><stop offset="78.41%" stop-color="#fce3e3"/><stop offset="79.55%" stop-color="#fad1d1"/><stop offset="80.68%" stop-color="#fce1e1"/><stop offset="81.82%" stop-color="#f7f7fe"/><stop offset="82.95%" stop-color="#d1d1fa"/><stop offset="84.09%" stop-color="#c0c0f8"/><stop offset="85.23%" stop-color="#cfcffa"/><stop offset="86.36%" stop-color="#efeffd"/><stop offset="87.5%" stop-color="#fef3f3"/><stop offset="88.64%" stop-color="#fde8e8"/><stop offset="90.91%" stop-color="#fffbfb"/><stop offset="92.05%" stop-color="#fafafe"/><stop offset="100%" stop-color="#f4f4fe"/></linearGradient><linearGradient id="hB7" gradientUnits="userSpaceOnUse" x1="214" y1="0" x2="258" y2="0"><stop offset="0%" stop-color="#fce0e0"/><stop offset="6.82%" stop-color="#ec6161"/><stop offset="9.09%" stop-color="#e53d3d"/><stop offset="11.36%" stop-color="#de2c2c"/><stop offset="13.64%" stop-color="#dd2b2b"/><stop offset="15.91%" stop-color="#e43838"/><stop offset="21.59%" stop-color="#f39595"/><stop offset="22.73%" stop-color="#f6afaf"/><stop offset="23.86%" stop-color="#fbd7d7"/><stop offset="25%" stop-color="#ddddfb"/><stop offset="26.14%" stop-color="#7979f2"/><stop offset="27.27%" stop-color="#3d3dea"/><stop offset="28.41%" stop-color="#6666ef"/><stop offset="29.55%" stop-color="#bdbdf8"/><stop offset="30.68%" stop-color="#fffcfc"/><stop offset="32.95%" stop-color="#f39595"/><stop offset="34.09%" stop-color="#ee6a6a"/><stop offset="35.23%" stop-color="#ed6767"/><stop offset="36.36%" stop-color="#f38e8e"/><stop offset="37.5%" stop-color="#f9c3c3"/><stop offset="38.64%" stop-color="#fce7e7"/><stop offset="39.77%" stop-color="#fffefe"/><stop offset="40.91%" stop-color="#e5e5fc"/><stop offset="42.05%" stop-color="#afaff7"/><stop offset="43.18%" stop-color="#5d5dee"/><stop offset="44.32%" stop-color="#2c2ce1"/><stop offset="45.45%" stop-color="#4545eb"/><stop offset="46.59%" stop-color="#a6a6f6"/><stop offset="47.73%" stop-color="#fef3f3"/><stop offset="48.86%" stop-color="#f5a3a3"/><stop offset="50%" stop-color="#f18080"/><stop offset="51.14%" stop-color="#f49797"/><stop offset="52.27%" stop-color="#facece"/><stop offset="53.41%" stop-color="#f5f5fe"/><stop offset="54.55%" stop-color="#b2b2f7"/><stop offset="55.68%" stop-color="#7c7cf2"/><stop offset="56.82%" stop-color="#8484f3"/><stop offset="57.95%" stop-color="#c7c7f9"/><stop offset="59.09%" stop-color="#fdebeb"/><stop offset="60.23%" stop-color="#f6acac"/><stop offset="61.36%" stop-color="#f49999"/><stop offset="62.5%" stop-color="#f9c7c7"/><stop offset="63.64%" stop-color="#efeffd"/><stop offset="64.77%" stop-color="#aeaef7"/><stop offset="65.91%" stop-color="#9999f5"/><stop offset="67.05%" stop-color="#bfbff8"/><stop offset="68.18%" stop-color="#fcfcff"/><stop offset="69.32%" stop-color="#f9cccc"/><stop offset="70.45%" stop-color="#f7b4b4"/><stop offset="71.59%" stop-color="#f9cccc"/><stop offset="72.73%" stop-color="#fefeff"/><stop offset="73.86%" stop-color="#cacaf9"/><stop offset="75%" stop-color="#b3b3f7"/><stop offset="76.14%" stop-color="#c8c8f9"/><stop offset="77.27%" stop-color="#f7f7fe"/><stop offset="78.41%" stop-color="#fbdcdc"/><stop offset="79.55%" stop-color="#f9c9c9"/><stop offset="80.68%" stop-color="#fbdada"/><stop offset="81.82%" stop-color="#fdfdff"/><stop offset="82.95%" stop-color="#d4d4fa"/><stop offset="84.09%" stop-color="#c2c2f8"/><stop offset="85.23%" stop-color="#d2d2fa"/><stop offset="86.36%" stop-color="#f4f4fe"/><stop offset="87.5%" stop-color="#fdeeee"/><stop offset="88.64%" stop-color="#fce1e1"/><stop offset="92.05%" stop-color="#fffcfc"/><stop offset="100%" stop-color="#ffffff"/></linearGradient><linearGradient id="hB8" gradientUnits="userSpaceOnUse" x1="214" y1="0" x2="258" y2="0"><stop offset="0%" stop-color="#fbd7d7"/><stop offset="6.82%" stop-color="#e84e4e"/><stop offset="9.09%" stop-color="#de2c2c"/><stop offset="11.36%" stop-color="#cf2424"/><stop offset="13.64%" stop-color="#ce2323"/><stop offset="15.91%" stop-color="#db2a2a"/><stop offset="21.59%" stop-color="#f28a8a"/><stop offset="22.73%" stop-color="#f5a5a5"/><stop offset="23.86%" stop-color="#fad0d0"/><stop offset="25%" stop-color="#e2e2fc"/><stop offset="26.14%" stop-color="#7d7df2"/><stop offset="27.27%" stop-color="#3f3fea"/><stop offset="28.41%" stop-color="#6767ef"/><stop offset="29.55%" stop-color="#bfbff8"/><stop offset="30.68%" stop-color="#fffbfb"/><stop offset="32.95%" stop-color="#f39393"/><stop offset="34.09%" stop-color="#ed6969"/><stop offset="35.23%" stop-color="#ed6666"/><stop offset="36.36%" stop-color="#f38d8d"/><stop offset="37.5%" stop-color="#f8c2c2"/><stop offset="38.64%" stop-color="#fce7e7"/><stop offset="39.77%" stop-color="#fffefe"/><stop offset="40.91%" stop-color="#e5e5fc"/><stop offset="42.05%" stop-color="#aeaef7"/><stop offset="43.18%" stop-color="#5c5cee"/><stop offset="44.32%" stop-color="#2c2ce0"/><stop offset="45.45%" stop-color="#4444eb"/><stop offset="46.59%" stop-color="#a5a5f6"/><stop offset="47.73%" stop-color="#fef3f3"/><stop offset="48.86%" stop-color="#f5a2a2"/><stop offset="50%" stop-color="#f17f7f"/><stop offset="51.14%" stop-color="#f49696"/><stop offset="52.27%" stop-color="#facdcd"/><stop offset="53.41%" stop-color="#f5f5fe"/><stop offset="54.55%" stop-color="#b2b2f7"/><stop offset="55.68%" stop-color="#7c7cf2"/><stop offset="56.82%" stop-color="#8484f3"/><stop offset="57.95%" stop-color="#c7c7f9"/><stop offset="59.09%" stop-color="#fdeaea"/><stop offset="60.23%" stop-color="#f6aaaa"/><stop offset="61.36%" stop-color="#f49898"/><stop offset="62.5%" stop-color="#f9c5c5"/><stop offset="63.64%" stop-color="#f0f0fd"/><stop offset="64.77%" stop-color="#aeaef7"/><stop offset="65.91%" stop-color="#9999f5"/><stop offset="67.05%" stop-color="#bfbff8"/><stop offset="68.18%" stop-color="#fdfdff"/><stop offset="69.32%" stop-color="#f9caca"/><stop offset="70.45%" stop-color="#f7b2b2"/><stop offset="71.59%" stop-color="#f9cbcb"/><stop offset="72.73%" stop-color="#ffffff"/><stop offset="73.86%" stop-color="#cbcbf9"/><stop offset="75%" stop-color="#b3b3f7"/><stop offset="76.14%" stop-color="#c9c9f9"/><stop offset="77.27%" stop-color="#f8f8fe"/><stop offset="78.41%" stop-color="#fbdbdb"/><stop offset="79.55%" stop-color="#f9c8c8"/><stop offset="80.68%" stop-color="#fbd9d9"/><stop offset="81.82%" stop-color="#fdfdff"/><stop offset="82.95%" stop-color="#d5d5fa"/><stop offset="84.09%" stop-color="#c2c2f8"/><stop offset="85.23%" stop-color="#d2d2fa"/><stop offset="86.36%" stop-color="#f4f4fe"/><stop offset="87.5%" stop-color="#fdeded"/><stop offset="88.64%" stop-color="#fce1e1"/><stop offset="92.05%" stop-color="#fffbfb"/><stop offset="100%" stop-color="#fffefe"/></linearGradient><linearGradient id="hB9" gradientUnits="userSpaceOnUse" x1="214" y1="0" x2="258" y2="0"><stop offset="0%" stop-color="#fad2d2"/><stop offset="6.82%" stop-color="#e95151"/><stop offset="9.09%" stop-color="#e12d2d"/><stop offset="11.36%" stop-color="#d32626"/><stop offset="13.64%" stop-color="#d22626"/><stop offset="15.91%" stop-color="#df2d2d"/><stop offset="21.59%" stop-color="#f38d8d"/><stop offset="22.73%" stop-color="#f6a8a8"/><stop offset="23.86%" stop-color="#fad1d1"/><stop offset="25%" stop-color="#e3e3fc"/><stop offset="26.14%" stop-color="#8181f3"/><stop offset="27.27%" stop-color="#4545eb"/><stop offset="28.41%" stop-color="#6c6cf0"/><stop offset="29.55%" stop-color="#c1c1f8"/><stop offset="30.68%" stop-color="#fffbfb"/><stop offset="32.95%" stop-color="#f49696"/><stop offset="34.09%" stop-color="#ee6d6d"/><stop offset="35.23%" stop-color="#ee6a6a"/><stop offset="36.36%" stop-color="#f39090"/><stop offset="37.5%" stop-color="#f9c4c4"/><stop offset="38.64%" stop-color="#fce8e8"/><stop offset="39.77%" stop-color="#fffefe"/><stop offset="40.91%" stop-color="#e6e6fc"/><stop offset="42.05%" stop-color="#b0b0f7"/><stop offset="43.18%" stop-color="#6161ef"/><stop offset="44.32%" stop-color="#2e2ee5"/><stop offset="45.45%" stop-color="#4949eb"/><stop offset="46.59%" stop-color="#a8a8f6"/><stop offset="47.73%" stop-color="#fef3f3"/><stop offset="48.86%" stop-color="#f5a5a5"/><stop offset="50%" stop-color="#f18282"/><stop offset="51.14%" stop-color="#f49999"/><stop offset="52.27%" stop-color="#facece"/><stop offset="53.41%" stop-color="#f6f6fe"/><stop offset="54.55%" stop-color="#b4b4f7"/><stop offset="55.68%" stop-color="#8080f2"/><stop offset="56.82%" stop-color="#8888f3"/><stop offset="57.95%" stop-color="#c8c8f9"/><stop offset="59.09%" stop-color="#fdeaea"/><stop offset="60.23%" stop-color="#f6adad"/><stop offset="61.36%" stop-color="#f49b9b"/><stop offset="62.5%" stop-color="#f9c7c7"/><stop offset="63.64%" stop-color="#f0f0fd"/><stop offset="64.77%" stop-color="#b0b0f7"/><stop offset="65.91%" stop-color="#9c9cf5"/><stop offset="67.05%" stop-color="#c1c1f8"/><stop offset="68.18%" stop-color="#fdfdff"/><stop offset="69.32%" stop-color="#f9cccc"/><stop offset="70.45%" stop-color="#f7b5b5"/><stop offset="71.59%" stop-color="#facccc"/><stop offset="72.73%" stop-color="#ffffff"/><stop offset="73.86%" stop-color="#ccccfa"/><stop offset="75%" stop-color="#b5b5f7"/><stop offset="76.14%" stop-color="#cacaf9"/><stop offset="77.27%" stop-color="#f8f8fe"/><stop offset="78.41%" stop-color="#fbdcdc"/><stop offset="79.55%" stop-color="#f9caca"/><stop offset="80.68%" stop-color="#fbdada"/><stop offset="81.82%" stop-color="#fdfdff"/><stop offset="82.95%" stop-color="#d6d6fb"/><stop offset="84.09%" stop-color="#c4c4f9"/><stop offset="85.23%" stop-color="#d3d3fa"/><stop offset="86.36%" stop-color="#f4f4fe"/><stop offset="87.5%" stop-color="#fdeeee"/><stop offset="88.64%" stop-color="#fce2e2"/><stop offset="92.05%" stop-color="#fffcfc"/><stop offset="100%" stop-color="#ffffff"/></linearGradient><linearGradient id="hB10" gradientUnits="userSpaceOnUse" x1="214" y1="0" x2="258" y2="0"><stop offset="0%" stop-color="#fbd7d7"/><stop offset="9.09%" stop-color="#ea5858"/><stop offset="11.36%" stop-color="#e74848"/><stop offset="13.64%" stop-color="#e74848"/><stop offset="15.91%" stop-color="#ea5757"/><stop offset="21.59%" stop-color="#f5a6a6"/><stop offset="22.73%" stop-color="#f8bcbc"/><stop offset="23.86%" stop-color="#fcdfdf"/><stop offset="25%" stop-color="#ddddfb"/><stop offset="26.14%" stop-color="#8484f3"/><stop offset="27.27%" stop-color="#4e4eec"/><stop offset="28.41%" stop-color="#7474f1"/><stop offset="29.55%" stop-color="#c2c2f8"/><stop offset="30.68%" stop-color="#fffdfd"/><stop offset="32.95%" stop-color="#f59f9f"/><stop offset="34.09%" stop-color="#f07979"/><stop offset="35.23%" stop-color="#f07676"/><stop offset="36.36%" stop-color="#f49999"/><stop offset="37.5%" stop-color="#f9c8c8"/><stop offset="38.64%" stop-color="#fde9e9"/><stop offset="39.77%" stop-color="#fffefe"/><stop offset="40.91%" stop-color="#e7e7fc"/><stop offset="42.05%" stop-color="#b6b6f7"/><stop offset="43.18%" stop-color="#6d6df0"/><stop offset="44.32%" stop-color="#3b3bea"/><stop offset="45.45%" stop-color="#5757ed"/><stop offset="46.59%" stop-color="#aeaef7"/><stop offset="47.73%" stop-color="#fef4f4"/><stop offset="48.86%" stop-color="#f6acac"/><stop offset="50%" stop-color="#f28c8c"/><stop offset="51.14%" stop-color="#f5a1a1"/><stop offset="52.27%" stop-color="#fad2d2"/><stop offset="53.41%" stop-color="#f6f6fe"/><stop offset="54.55%" stop-color="#babaf8"/><stop offset="55.68%" stop-color="#8989f3"/><stop offset="56.82%" stop-color="#9090f4"/><stop offset="57.95%" stop-color="#ccccfa"/><stop offset="59.09%" stop-color="#fdecec"/><stop offset="60.23%" stop-color="#f7b3b3"/><stop offset="61.36%" stop-color="#f5a2a2"/><stop offset="62.5%" stop-color="#f9cbcb"/><stop offset="63.64%" stop-color="#f1f1fe"/><stop offset="64.77%" stop-color="#b6b6f7"/><stop offset="65.91%" stop-color="#a3a3f6"/><stop offset="67.05%" stop-color="#c5c5f9"/><stop offset="68.18%" stop-color="#fdfdff"/><stop offset="69.32%" stop-color="#fad0d0"/><stop offset="70.45%" stop-color="#f8bbbb"/><stop offset="71.59%" stop-color="#fad0d0"/><stop offset="72.73%" stop-color="#ffffff"/><stop offset="73.86%" stop-color="#d0d0fa"/><stop offset="75%" stop-color="#bbbbf8"/><stop offset="76.14%" stop-color="#cecefa"/><stop offset="77.27%" stop-color="#f8f8fe"/><stop offset="78.41%" stop-color="#fbdede"/><stop offset="79.55%" stop-color="#facece"/><stop offset="80.68%" stop-color="#fbdddd"/><stop offset="81.82%" stop-color="#fdfdff"/><stop offset="82.95%" stop-color="#d9d9fb"/><stop offset="84.09%" stop-color="#c8c8f9"/><stop offset="85.23%" stop-color="#d6d6fb"/><stop offset="86.36%" stop-color="#f5f5fe"/><stop offset="87.5%" stop-color="#fdefef"/><stop offset="88.64%" stop-color="#fce4e4"/><stop offset="92.05%" stop-color="#fffcfc"/><stop offset="100%" stop-color="#ffffff"/></linearGradient><linearGradient id="hB11" gradientUnits="userSpaceOnUse" x1="214" y1="0" x2="258" y2="0"><stop offset="0%" stop-color="#fdeded"/><stop offset="9.09%" stop-color="#f7b8b8"/><stop offset="13.64%" stop-color="#f6b0b0"/><stop offset="21.59%" stop-color="#fbd9d9"/><stop offset="22.73%" stop-color="#fce3e3"/><stop offset="23.86%" stop-color="#fffbfb"/><stop offset="25%" stop-color="#cfcffa"/><stop offset="26.14%" stop-color="#8686f3"/><stop offset="27.27%" stop-color="#5d5dee"/><stop offset="28.41%" stop-color="#8080f3"/><stop offset="29.55%" stop-color="#c5c5f9"/><stop offset="30.68%" stop-color="#fcfcff"/><stop offset="31.82%" stop-color="#fbd9d9"/><stop offset="32.95%" stop-color="#f6b0b0"/><stop offset="34.09%" stop-color="#f38f8f"/><stop offset="35.23%" stop-color="#f28c8c"/><stop offset="36.36%" stop-color="#f6a9a9"/><stop offset="37.5%" stop-color="#fad1d1"/><stop offset="38.64%" stop-color="#fdeded"/><stop offset="39.77%" stop-color="#fffefe"/><stop offset="40.91%" stop-color="#ebebfd"/><stop offset="42.05%" stop-color="#c1c1f8"/><stop offset="43.18%" stop-color="#8484f3"/><stop offset="44.32%" stop-color="#5a5aee"/><stop offset="45.45%" stop-color="#7272f1"/><stop offset="46.59%" stop-color="#babaf8"/><stop offset="47.73%" stop-color="#fef6f6"/><stop offset="48.86%" stop-color="#f7b9b9"/><stop offset="50%" stop-color="#f49d9d"/><stop offset="51.14%" stop-color="#f6afaf"/><stop offset="52.27%" stop-color="#fbd8d8"/><stop offset="53.41%" stop-color="#f8f8fe"/><stop offset="54.55%" stop-color="#c4c4f9"/><stop offset="55.68%" stop-color="#9a9af5"/><stop offset="56.82%" stop-color="#a1a1f5"/><stop offset="57.95%" stop-color="#d4d4fa"/><stop offset="59.09%" stop-color="#fdefef"/><stop offset="60.23%" stop-color="#f8bfbf"/><stop offset="61.36%" stop-color="#f7b1b1"/><stop offset="62.5%" stop-color="#fad2d2"/><stop offset="63.64%" stop-color="#f3f3fe"/><stop offset="64.77%" stop-color="#c1c1f8"/><stop offset="65.91%" stop-color="#b1b1f7"/><stop offset="67.05%" stop-color="#cecefa"/><stop offset="68.18%" stop-color="#fdfdff"/><stop offset="69.32%" stop-color="#fbd6d6"/><stop offset="70.45%" stop-color="#f9c5c5"/><stop offset="71.59%" stop-color="#fbd7d7"/><stop offset="72.73%" stop-color="#ffffff"/><stop offset="73.86%" stop-color="#d7d7fb"/><stop offset="75%" stop-color="#c5c5f9"/><stop offset="76.14%" stop-color="#d5d5fa"/><stop offset="77.27%" stop-color="#f9f9fe"/><stop offset="78.41%" stop-color="#fce3e3"/><stop offset="79.55%" stop-color="#fad5d5"/><stop offset="80.68%" stop-color="#fce2e2"/><stop offset="81.82%" stop-color="#fefeff"/><stop offset="82.95%" stop-color="#dedefb"/><stop offset="84.09%" stop-color="#d0d0fa"/><stop offset="85.23%" stop-color="#dcdcfb"/><stop offset="86.36%" stop-color="#f6f6fe"/><stop offset="87.5%" stop-color="#fef1f1"/><stop offset="88.64%" stop-color="#fce8e8"/><stop offset="93.18%" stop-color="#ffffff"/><stop offset="100%" stop-color="#ffffff"/></linearGradient><linearGradient id="hB12" gradientUnits="userSpaceOnUse" x1="214" y1="0" x2="258" y2="0"><stop offset="0%" stop-color="#ffffff"/><stop offset="18.18%" stop-color="#fffcfc"/><stop offset="22.73%" stop-color="#fcfcff"/><stop offset="23.86%" stop-color="#ededfd"/><stop offset="25%" stop-color="#c6c6f9"/><stop offset="26.14%" stop-color="#8e8ef4"/><stop offset="27.27%" stop-color="#7070f1"/><stop offset="28.41%" stop-color="#8e8ef4"/><stop offset="29.55%" stop-color="#c9c9f9"/><stop offset="30.68%" stop-color="#f9f9fe"/><stop offset="31.82%" stop-color="#fce2e2"/><stop offset="34.09%" stop-color="#f5a4a4"/><stop offset="35.23%" stop-color="#f5a1a1"/><stop offset="36.36%" stop-color="#f8baba"/><stop offset="38.64%" stop-color="#fdf0f0"/><stop offset="39.77%" stop-color="#ffffff"/><stop offset="40.91%" stop-color="#eeeefd"/><stop offset="42.05%" stop-color="#cbcbf9"/><stop offset="43.18%" stop-color="#9999f5"/><stop offset="44.32%" stop-color="#7878f2"/><stop offset="45.45%" stop-color="#8b8bf3"/><stop offset="46.59%" stop-color="#c6c6f9"/><stop offset="47.73%" stop-color="#fef7f7"/><stop offset="48.86%" stop-color="#f9c5c5"/><stop offset="50%" stop-color="#f6afaf"/><stop offset="51.14%" stop-color="#f8bebe"/><stop offset="52.27%" stop-color="#fcdfdf"/><stop offset="53.41%" stop-color="#f9f9fe"/><stop offset="54.55%" stop-color="#cecefa"/><stop offset="55.68%" stop-color="#acacf6"/><stop offset="56.82%" stop-color="#b1b1f7"/><stop offset="57.95%" stop-color="#dbdbfb"/><stop offset="59.09%" stop-color="#fef1f1"/><stop offset="60.23%" stop-color="#f9caca"/><stop offset="61.36%" stop-color="#f8bfbf"/><stop offset="62.5%" stop-color="#fbdada"/><stop offset="63.64%" stop-color="#f5f5fe"/><stop offset="64.77%" stop-color="#cbcbf9"/><stop offset="65.91%" stop-color="#bfbff8"/><stop offset="67.05%" stop-color="#d6d6fb"/><stop offset="68.18%" stop-color="#fefeff"/><stop offset="69.32%" stop-color="#fbdddd"/><stop offset="70.45%" stop-color="#facfcf"/><stop offset="71.59%" stop-color="#fbdddd"/><stop offset="72.73%" stop-color="#ffffff"/><stop offset="73.86%" stop-color="#ddddfb"/><stop offset="75%" stop-color="#cfcffa"/><stop offset="76.14%" stop-color="#dcdcfb"/><stop offset="77.27%" stop-color="#fafafe"/><stop offset="78.41%" stop-color="#fce8e8"/><stop offset="79.55%" stop-color="#fbdcdc"/><stop offset="80.68%" stop-color="#fce7e7"/><stop offset="81.82%" stop-color="#fefeff"/><stop offset="82.95%" stop-color="#e4e4fc"/><stop offset="84.09%" stop-color="#d8d8fb"/><stop offset="85.23%" stop-color="#e2e2fc"/><stop offset="86.36%" stop-color="#f8f8fe"/><stop offset="87.5%" stop-color="#fef4f4"/><stop offset="88.64%" stop-color="#fdecec"/><stop offset="96.59%" stop-color="#ffffff"/><stop offset="100%" stop-color="#ffffff"/></linearGradient><linearGradient id="hC0" gradientUnits="userSpaceOnUse" x1="258" y1="0" x2="320" y2="0"><stop offset="0%" stop-color="#d8d8fb"/><stop offset="12.9%" stop-color="#d8d8fb"/><stop offset="25.81%" stop-color="#dedefb"/><stop offset="32.26%" stop-color="#fafafe"/><stop offset="33.87%" stop-color="#fffdfd"/><stop offset="38.71%" stop-color="#fce4e4"/><stop offset="41.94%" stop-color="#f8c0c0"/><stop offset="43.55%" stop-color="#f7b5b5"/><stop offset="48.39%" stop-color="#f9c4c4"/><stop offset="51.61%" stop-color="#f7b5b5"/><stop offset="53.23%" stop-color="#f49e9e"/><stop offset="56.45%" stop-color="#e84f4f"/><stop offset="58.06%" stop-color="#e22e2e"/><stop offset="59.68%" stop-color="#e02d2d"/><stop offset="61.29%" stop-color="#e64545"/><stop offset="62.9%" stop-color="#ed6868"/><stop offset="64.52%" stop-color="#f18080"/><stop offset="66.13%" stop-color="#f28989"/><stop offset="70.97%" stop-color="#f28c8c"/><stop offset="79.03%" stop-color="#fad3d3"/><stop offset="91.94%" stop-color="#fffdfd"/><stop offset="100%" stop-color="#e9e9fd"/></linearGradient><linearGradient id="hC1" gradientUnits="userSpaceOnUse" x1="258" y1="0" x2="320" y2="0"><stop offset="0%" stop-color="#d8d8fb"/><stop offset="12.9%" stop-color="#d8d8fb"/><stop offset="25.81%" stop-color="#dedefb"/><stop offset="32.26%" stop-color="#fbfbff"/><stop offset="33.87%" stop-color="#fffcfc"/><stop offset="38.71%" stop-color="#fce3e3"/><stop offset="41.94%" stop-color="#f8bebe"/><stop offset="43.55%" stop-color="#f7b3b3"/><stop offset="48.39%" stop-color="#f8c1c1"/><stop offset="50%" stop-color="#f8bdbd"/><stop offset="51.61%" stop-color="#f6afaf"/><stop offset="53.23%" stop-color="#f39595"/><stop offset="56.45%" stop-color="#e64343"/><stop offset="58.06%" stop-color="#df2c2c"/><stop offset="59.68%" stop-color="#e23030"/><stop offset="62.9%" stop-color="#ef7171"/><stop offset="64.52%" stop-color="#f28484"/><stop offset="70.97%" stop-color="#f38f8f"/><stop offset="79.03%" stop-color="#fbd6d6"/><stop offset="91.94%" stop-color="#fffefe"/><stop offset="100%" stop-color="#e9e9fd"/></linearGradient><linearGradient id="hC2" gradientUnits="userSpaceOnUse" x1="258" y1="0" x2="320" y2="0"><stop offset="0%" stop-color="#d8d8fb"/><stop offset="12.9%" stop-color="#d8d8fb"/><stop offset="25.81%" stop-color="#dfdffc"/><stop offset="32.26%" stop-color="#fbfbff"/><stop offset="33.87%" stop-color="#fffbfb"/><stop offset="38.71%" stop-color="#fce1e1"/><stop offset="41.94%" stop-color="#f8bbbb"/><stop offset="43.55%" stop-color="#f6b0b0"/><stop offset="48.39%" stop-color="#f8bebe"/><stop offset="50%" stop-color="#f7b7b7"/><stop offset="51.61%" stop-color="#f5a5a5"/><stop offset="53.23%" stop-color="#f28585"/><stop offset="56.45%" stop-color="#e33434"/><stop offset="58.06%" stop-color="#de2c2c"/><stop offset="59.68%" stop-color="#e53d3d"/><stop offset="62.9%" stop-color="#f17b7b"/><stop offset="64.52%" stop-color="#f28888"/><stop offset="69.35%" stop-color="#f28b8b"/><stop offset="79.03%" stop-color="#fbdada"/><stop offset="91.94%" stop-color="#ffffff"/><stop offset="100%" stop-color="#e9e9fd"/></linearGradient><linearGradient id="hC3" gradientUnits="userSpaceOnUse" x1="258" y1="0" x2="320" y2="0"><stop offset="0%" stop-color="#d8d8fb"/><stop offset="12.9%" stop-color="#d8d8fb"/><stop offset="25.81%" stop-color="#dfdffc"/><stop offset="32.26%" stop-color="#fdfdff"/><stop offset="33.87%" stop-color="#fefafa"/><stop offset="38.71%" stop-color="#fbdede"/><stop offset="41.94%" stop-color="#f7b8b8"/><stop offset="43.55%" stop-color="#f6acac"/><stop offset="48.39%" stop-color="#f7b8b8"/><stop offset="50%" stop-color="#f6aeae"/><stop offset="51.61%" stop-color="#f39595"/><stop offset="54.84%" stop-color="#e64343"/><stop offset="56.45%" stop-color="#df2c2c"/><stop offset="58.06%" stop-color="#e23030"/><stop offset="61.29%" stop-color="#ef7070"/><stop offset="62.9%" stop-color="#f28484"/><stop offset="69.35%" stop-color="#f38f8f"/><stop offset="77.42%" stop-color="#fbd6d6"/><stop offset="90.32%" stop-color="#fffcfc"/><stop offset="100%" stop-color="#e9e9fd"/></linearGradient><linearGradient id="hC4" gradientUnits="userSpaceOnUse" x1="258" y1="0" x2="320" y2="0"><stop offset="0%" stop-color="#d8d8fb"/><stop offset="12.9%" stop-color="#d8d8fb"/><stop offset="25.81%" stop-color="#dfdffc"/><stop offset="32.26%" stop-color="#fefeff"/><stop offset="33.87%" stop-color="#fef8f8"/><stop offset="38.71%" stop-color="#fbdcdc"/><stop offset="41.94%" stop-color="#f7b4b4"/><stop offset="43.55%" stop-color="#f5a7a7"/><stop offset="48.39%" stop-color="#f6b0b0"/><stop offset="50%" stop-color="#f5a1a1"/><stop offset="51.61%" stop-color="#f18282"/><stop offset="54.84%" stop-color="#e43636"/><stop offset="56.45%" stop-color="#e22f2f"/><stop offset="58.06%" stop-color="#e64444"/><stop offset="61.29%" stop-color="#f17f7f"/><stop offset="62.9%" stop-color="#f28989"/><stop offset="67.74%" stop-color="#f28b8b"/><stop offset="77.42%" stop-color="#fbdbdb"/><stop offset="90.32%" stop-color="#fffdfd"/><stop offset="100%" stop-color="#e8e8fd"/></linearGradient><linearGradient id="hC5" gradientUnits="userSpaceOnUse" x1="258" y1="0" x2="320" y2="0"><stop offset="0%" stop-color="#d8d8fb"/><stop offset="12.9%" stop-color="#d8d8fb"/><stop offset="25.81%" stop-color="#e0e0fc"/><stop offset="30.65%" stop-color="#f7f7fe"/><stop offset="32.26%" stop-color="#fffefe"/><stop offset="38.71%" stop-color="#fbd8d8"/><stop offset="41.94%" stop-color="#f6afaf"/><stop offset="43.55%" stop-color="#f5a3a3"/><stop offset="46.77%" stop-color="#f6aaaa"/><stop offset="48.39%" stop-color="#f5a6a6"/><stop offset="50%" stop-color="#f39292"/><stop offset="53.23%" stop-color="#e74949"/><stop offset="54.84%" stop-color="#e43636"/><stop offset="56.45%" stop-color="#e54040"/><stop offset="59.68%" stop-color="#f07979"/><stop offset="61.29%" stop-color="#f28787"/><stop offset="66.13%" stop-color="#f28989"/><stop offset="75.81%" stop-color="#fbd7d7"/><stop offset="88.71%" stop-color="#fffbfb"/><stop offset="100%" stop-color="#e8e8fd"/></linearGradient><linearGradient id="hC6" gradientUnits="userSpaceOnUse" x1="258" y1="0" x2="320" y2="0"><stop offset="0%" stop-color="#d8d8fb"/><stop offset="12.9%" stop-color="#d8d8fb"/><stop offset="25.81%" stop-color="#e1e1fc"/><stop offset="30.65%" stop-color="#f8f8fe"/><stop offset="32.26%" stop-color="#fffdfd"/><stop offset="38.71%" stop-color="#fad5d5"/><stop offset="41.94%" stop-color="#f6aaaa"/><stop offset="43.55%" stop-color="#f49e9e"/><stop offset="46.77%" stop-color="#f5a2a2"/><stop offset="48.39%" stop-color="#f49a9a"/><stop offset="50%" stop-color="#f18080"/><stop offset="53.23%" stop-color="#e64242"/><stop offset="54.84%" stop-color="#e64040"/><stop offset="59.68%" stop-color="#f28484"/><stop offset="66.13%" stop-color="#f38d8d"/><stop offset="74.19%" stop-color="#fad4d4"/><stop offset="87.1%" stop-color="#fef9f9"/><stop offset="100%" stop-color="#e8e8fd"/></linearGradient><linearGradient id="hC7" gradientUnits="userSpaceOnUse" x1="258" y1="0" x2="320" y2="0"><stop offset="0%" stop-color="#d8d8fb"/><stop offset="12.9%" stop-color="#d8d8fb"/><stop offset="25.81%" stop-color="#e2e2fc"/><stop offset="30.65%" stop-color="#fafafe"/><stop offset="32.26%" stop-color="#fefafa"/><stop offset="38.71%" stop-color="#fad1d1"/><stop offset="41.94%" stop-color="#f5a5a5"/><stop offset="43.55%" stop-color="#f49898"/><stop offset="46.77%" stop-color="#f49797"/><stop offset="48.39%" stop-color="#f28a8a"/><stop offset="51.61%" stop-color="#e95050"/><stop offset="53.23%" stop-color="#e64444"/><stop offset="54.84%" stop-color="#e95151"/><stop offset="58.06%" stop-color="#f18080"/><stop offset="59.68%" stop-color="#f28a8a"/><stop offset="64.52%" stop-color="#f28a8a"/><stop offset="74.19%" stop-color="#fbd9d9"/><stop offset="87.1%" stop-color="#fffafa"/><stop offset="100%" stop-color="#e8e8fd"/></linearGradient><linearGradient id="hC8" gradientUnits="userSpaceOnUse" x1="258" y1="0" x2="320" y2="0"><stop offset="0%" stop-color="#d8d8fb"/><stop offset="12.9%" stop-color="#d8d8fb"/><stop offset="25.81%" stop-color="#e3e3fc"/><stop offset="30.65%" stop-color="#fdfdff"/><stop offset="32.26%" stop-color="#fef7f7"/><stop offset="38.71%" stop-color="#facccc"/><stop offset="41.94%" stop-color="#f5a0a0"/><stop offset="43.55%" stop-color="#f39292"/><stop offset="46.77%" stop-color="#f28a8a"/><stop offset="48.39%" stop-color="#f07979"/><stop offset="51.61%" stop-color="#e84b4b"/><stop offset="53.23%" stop-color="#e84e4e"/><stop offset="56.45%" stop-color="#f17b7b"/><stop offset="58.06%" stop-color="#f28888"/><stop offset="62.9%" stop-color="#f28989"/><stop offset="66.13%" stop-color="#f49b9b"/><stop offset="72.58%" stop-color="#fbd6d6"/><stop offset="85.48%" stop-color="#fef9f9"/><stop offset="98.39%" stop-color="#ededfd"/><stop offset="100%" stop-color="#e8e8fd"/></linearGradient><linearGradient id="hC9" gradientUnits="userSpaceOnUse" x1="258" y1="0" x2="320" y2="0"><stop offset="0%" stop-color="#d8d8fb"/><stop offset="12.9%" stop-color="#d8d8fb"/><stop offset="24.19%" stop-color="#dfdffc"/><stop offset="29.03%" stop-color="#f5f5fe"/><stop offset="30.65%" stop-color="#fffefe"/><stop offset="38.71%" stop-color="#f9c7c7"/><stop offset="41.94%" stop-color="#f49999"/><stop offset="43.55%" stop-color="#f28a8a"/><stop offset="46.77%" stop-color="#f17b7b"/><stop offset="50%" stop-color="#e95353"/><stop offset="51.61%" stop-color="#e84d4d"/><stop offset="53.23%" stop-color="#eb5c5c"/><stop offset="56.45%" stop-color="#f28585"/><stop offset="62.9%" stop-color="#f28c8c"/><stop offset="72.58%" stop-color="#fbdbdb"/><stop offset="85.48%" stop-color="#fefafa"/><stop offset="98.39%" stop-color="#ededfd"/><stop offset="100%" stop-color="#e8e8fd"/></linearGradient><linearGradient id="hC10" gradientUnits="userSpaceOnUse" x1="258" y1="0" x2="320" y2="0"><stop offset="0%" stop-color="#d8d8fb"/><stop offset="12.9%" stop-color="#d9d9fb"/><stop offset="24.19%" stop-color="#e1e1fc"/><stop offset="29.03%" stop-color="#f9f9fe"/><stop offset="30.65%" stop-color="#fffbfb"/><stop offset="38.71%" stop-color="#f8c1c1"/><stop offset="43.55%" stop-color="#f18181"/><stop offset="46.77%" stop-color="#ee6b6b"/><stop offset="50%" stop-color="#e84e4e"/><stop offset="51.61%" stop-color="#ea5555"/><stop offset="54.84%" stop-color="#f17f7f"/><stop offset="56.45%" stop-color="#f28a8a"/><stop offset="61.29%" stop-color="#f28a8a"/><stop offset="64.52%" stop-color="#f49e9e"/><stop offset="70.97%" stop-color="#fbd7d7"/><stop offset="83.87%" stop-color="#fef9f9"/><stop offset="96.77%" stop-color="#f1f1fd"/><stop offset="100%" stop-color="#e8e8fd"/></linearGradient><linearGradient id="hC11" gradientUnits="userSpaceOnUse" x1="258" y1="0" x2="320" y2="0"><stop offset="0%" stop-color="#d8d8fb"/><stop offset="12.9%" stop-color="#d9d9fb"/><stop offset="24.19%" stop-color="#e3e3fc"/><stop offset="29.03%" stop-color="#fdfdff"/><stop offset="30.65%" stop-color="#fef6f6"/><stop offset="38.71%" stop-color="#f8bbbb"/><stop offset="43.55%" stop-color="#f07777"/><stop offset="48.39%" stop-color="#e95050"/><stop offset="50%" stop-color="#e84f4f"/><stop offset="54.84%" stop-color="#f28787"/><stop offset="61.29%" stop-color="#f38e8e"/><stop offset="70.97%" stop-color="#fbdcdc"/><stop offset="83.87%" stop-color="#fefafa"/><stop offset="96.77%" stop-color="#f1f1fd"/><stop offset="100%" stop-color="#e8e8fc"/></linearGradient><linearGradient id="hC12" gradientUnits="userSpaceOnUse" x1="258" y1="0" x2="320" y2="0"><stop offset="0%" stop-color="#d8d8fb"/><stop offset="12.9%" stop-color="#dadafb"/><stop offset="24.19%" stop-color="#e7e7fc"/><stop offset="27.42%" stop-color="#f7f7fe"/><stop offset="29.03%" stop-color="#fffcfc"/><stop offset="38.71%" stop-color="#f7b4b4"/><stop offset="43.55%" stop-color="#ee6c6c"/><stop offset="46.77%" stop-color="#e95050"/><stop offset="48.39%" stop-color="#e84b4b"/><stop offset="50%" stop-color="#e95454"/><stop offset="53.23%" stop-color="#f18080"/><stop offset="54.84%" stop-color="#f38d8d"/><stop offset="61.29%" stop-color="#f49898"/><stop offset="69.35%" stop-color="#fbdada"/><stop offset="82.26%" stop-color="#fefafa"/><stop offset="95.16%" stop-color="#f4f4fe"/><stop offset="100%" stop-color="#e8e8fc"/></linearGradient><linearGradient id="hC13" gradientUnits="userSpaceOnUse" x1="258" y1="0" x2="320" y2="0"><stop offset="0%" stop-color="#d8d8fb"/><stop offset="12.9%" stop-color="#dbdbfb"/><stop offset="24.19%" stop-color="#ebebfd"/><stop offset="27.42%" stop-color="#fdfdff"/><stop offset="29.03%" stop-color="#fef6f6"/><stop offset="38.71%" stop-color="#f6adad"/><stop offset="43.55%" stop-color="#ec6161"/><stop offset="46.77%" stop-color="#e74747"/><stop offset="48.39%" stop-color="#e74a4a"/><stop offset="53.23%" stop-color="#f28a8a"/><stop offset="61.29%" stop-color="#f6a8a8"/><stop offset="70.97%" stop-color="#fce6e6"/><stop offset="83.87%" stop-color="#fffcfc"/><stop offset="96.77%" stop-color="#f1f1fd"/><stop offset="100%" stop-color="#e8e8fc"/></linearGradient><linearGradient id="hC14" gradientUnits="userSpaceOnUse" x1="258" y1="0" x2="320" y2="0"><stop offset="0%" stop-color="#d8d8fb"/><stop offset="12.9%" stop-color="#ddddfb"/><stop offset="24.19%" stop-color="#f1f1fd"/><stop offset="25.81%" stop-color="#f9f9fe"/><stop offset="27.42%" stop-color="#fffafa"/><stop offset="38.71%" stop-color="#f5a5a5"/><stop offset="43.55%" stop-color="#ea5757"/><stop offset="45.16%" stop-color="#e74646"/><stop offset="46.77%" stop-color="#e64242"/><stop offset="48.39%" stop-color="#e84d4d"/><stop offset="53.23%" stop-color="#f39595"/><stop offset="66.13%" stop-color="#fbd7d7"/><stop offset="79.03%" stop-color="#fef9f9"/><stop offset="91.94%" stop-color="#fafafe"/><stop offset="100%" stop-color="#e8e8fc"/></linearGradient><linearGradient id="hC15" gradientUnits="userSpaceOnUse" x1="258" y1="0" x2="320" y2="0"><stop offset="0%" stop-color="#d9d9fb"/><stop offset="12.9%" stop-color="#dfdffc"/><stop offset="24.19%" stop-color="#f8f8fe"/><stop offset="25.81%" stop-color="#fffdfd"/><stop offset="38.71%" stop-color="#f59f9f"/><stop offset="43.55%" stop-color="#e95454"/><stop offset="45.16%" stop-color="#e74848"/><stop offset="46.77%" stop-color="#e84c4c"/><stop offset="53.23%" stop-color="#f5a2a2"/><stop offset="66.13%" stop-color="#fcdfdf"/><stop offset="79.03%" stop-color="#fffafa"/><stop offset="91.94%" stop-color="#f9f9fe"/><stop offset="100%" stop-color="#e7e7fc"/></linearGradient><linearGradient id="hC16" gradientUnits="userSpaceOnUse" x1="258" y1="0" x2="320" y2="0"><stop offset="0%" stop-color="#d9d9fb"/><stop offset="12.9%" stop-color="#e3e3fc"/><stop offset="22.58%" stop-color="#fafafe"/><stop offset="24.19%" stop-color="#fffefe"/><stop offset="37.1%" stop-color="#f6a8a8"/><stop offset="40.32%" stop-color="#f28989"/><stop offset="43.55%" stop-color="#ec6060"/><stop offset="45.16%" stop-color="#eb5b5b"/><stop offset="46.77%" stop-color="#ed6565"/><stop offset="51.61%" stop-color="#f5a1a1"/><stop offset="64.52%" stop-color="#fce0e0"/><stop offset="77.42%" stop-color="#fffbfb"/><stop offset="90.32%" stop-color="#fafafe"/><stop offset="100%" stop-color="#e8e8fc"/></linearGradient><linearGradient id="hC17" gradientUnits="userSpaceOnUse" x1="258" y1="0" x2="320" y2="0"><stop offset="0%" stop-color="#dbdbfb"/><stop offset="12.9%" stop-color="#e9e9fd"/><stop offset="25.81%" stop-color="#fdecec"/><stop offset="38.71%" stop-color="#f49e9e"/><stop offset="43.55%" stop-color="#f07878"/><stop offset="45.16%" stop-color="#f07878"/><stop offset="53.23%" stop-color="#f8bcbc"/><stop offset="66.13%" stop-color="#fdecec"/><stop offset="79.03%" stop-color="#fdfdff"/><stop offset="91.94%" stop-color="#f6f6fe"/><stop offset="100%" stop-color="#e9e9fd"/></linearGradient><linearGradient id="hC18" gradientUnits="userSpaceOnUse" x1="258" y1="0" x2="320" y2="0"><stop offset="0%" stop-color="#dcdcfb"/><stop offset="12.9%" stop-color="#ececfd"/><stop offset="25.81%" stop-color="#fdecec"/><stop offset="35.48%" stop-color="#f7b5b5"/><stop offset="43.55%" stop-color="#f49b9b"/><stop offset="56.45%" stop-color="#fbd9d9"/><stop offset="69.35%" stop-color="#fefafa"/><stop offset="82.26%" stop-color="#f5f5fe"/><stop offset="95.16%" stop-color="#eeeefd"/><stop offset="100%" stop-color="#e8e8fc"/></linearGradient><linearGradient id="hC19" gradientUnits="userSpaceOnUse" x1="258" y1="0" x2="320" y2="0"><stop offset="0%" stop-color="#dedefb"/><stop offset="12.9%" stop-color="#eeeefd"/><stop offset="25.81%" stop-color="#fdf0f0"/><stop offset="35.48%" stop-color="#f9c3c3"/><stop offset="43.55%" stop-color="#f8bebe"/><stop offset="56.45%" stop-color="#fce7e7"/><stop offset="69.35%" stop-color="#ffffff"/><stop offset="82.26%" stop-color="#efeffd"/><stop offset="95.16%" stop-color="#eaeafd"/><stop offset="100%" stop-color="#e6e6fc"/></linearGradient><linearGradient id="hC20" gradientUnits="userSpaceOnUse" x1="258" y1="0" x2="320" y2="0"><stop offset="0%" stop-color="#e0e0fc"/><stop offset="12.9%" stop-color="#f1f1fe"/><stop offset="25.81%" stop-color="#fef4f4"/><stop offset="35.48%" stop-color="#fad0d0"/><stop offset="48.39%" stop-color="#fce1e1"/><stop offset="61.29%" stop-color="#fef7f7"/><stop offset="74.19%" stop-color="#f5f5fe"/><stop offset="87.1%" stop-color="#e9e9fd"/><stop offset="100%" stop-color="#e6e6fc"/></linearGradient><linearGradient id="hC21" gradientUnits="userSpaceOnUse" x1="258" y1="0" x2="320" y2="0"><stop offset="0%" stop-color="#e2e2fc"/><stop offset="12.9%" stop-color="#f6f6fe"/><stop offset="25.81%" stop-color="#fef5f5"/><stop offset="35.48%" stop-color="#fbd9d9"/><stop offset="48.39%" stop-color="#fdeded"/><stop offset="61.29%" stop-color="#fffbfb"/><stop offset="74.19%" stop-color="#f4f4fe"/><stop offset="87.1%" stop-color="#e8e8fd"/><stop offset="100%" stop-color="#e7e7fc"/></linearGradient><linearGradient id="hC22" gradientUnits="userSpaceOnUse" x1="258" y1="0" x2="320" y2="0"><stop offset="0%" stop-color="#e2e2fc"/><stop offset="12.9%" stop-color="#f6f6fe"/><stop offset="25.81%" stop-color="#fef8f8"/><stop offset="35.48%" stop-color="#fce1e1"/><stop offset="48.39%" stop-color="#fef4f4"/><stop offset="61.29%" stop-color="#fffefe"/><stop offset="74.19%" stop-color="#f4f4fe"/><stop offset="87.1%" stop-color="#eaeafd"/><stop offset="100%" stop-color="#eaeafd"/></linearGradient><linearGradient id="hC23" gradientUnits="userSpaceOnUse" x1="258" y1="0" x2="320" y2="0"><stop offset="0%" stop-color="#e5e5fc"/><stop offset="12.9%" stop-color="#f2f2fe"/><stop offset="25.81%" stop-color="#fafaff"/><stop offset="37.1%" stop-color="#fef2f2"/><stop offset="50%" stop-color="#ffffff"/><stop offset="62.9%" stop-color="#fafaff"/><stop offset="75.81%" stop-color="#f0f0fd"/><stop offset="88.71%" stop-color="#e9e9fd"/><stop offset="100%" stop-color="#e9e9fd"/></linearGradient><linearGradient id="hC24" gradientUnits="userSpaceOnUse" x1="258" y1="0" x2="320" y2="0"><stop offset="0%" stop-color="#fafaff"/><stop offset="12.9%" stop-color="#fdfdff"/><stop offset="25.81%" stop-color="#fbfbff"/><stop offset="38.71%" stop-color="#fbfbff"/><stop offset="51.61%" stop-color="#f5f5fe"/><stop offset="64.52%" stop-color="#f4f4fe"/><stop offset="77.42%" stop-color="#ebebfd"/><stop offset="90.32%" stop-color="#e7e7fc"/><stop offset="100%" stop-color="#e7e7fc"/></linearGradient><linearGradient id="hC25" gradientUnits="userSpaceOnUse" x1="258" y1="0" x2="320" y2="0"><stop offset="0%" stop-color="#fffefe"/><stop offset="12.9%" stop-color="#fcfcff"/><stop offset="25.81%" stop-color="#f6f6fe"/><stop offset="38.71%" stop-color="#f4f4fe"/><stop offset="51.61%" stop-color="#f2f2fe"/><stop offset="64.52%" stop-color="#f2f2fe"/><stop offset="77.42%" stop-color="#ededfd"/><stop offset="90.32%" stop-color="#eaeafd"/><stop offset="100%" stop-color="#eaeafd"/></linearGradient><linearGradient id="hC26" gradientUnits="userSpaceOnUse" x1="258" y1="0" x2="320" y2="0"><stop offset="0%" stop-color="#ffffff"/><stop offset="12.9%" stop-color="#f9f9fe"/><stop offset="25.81%" stop-color="#f2f2fe"/><stop offset="38.71%" stop-color="#f2f2fe"/><stop offset="51.61%" stop-color="#f2f2fe"/><stop offset="64.52%" stop-color="#f2f2fe"/><stop offset="77.42%" stop-color="#f1f1fe"/><stop offset="90.32%" stop-color="#f1f1fe"/><stop offset="100%" stop-color="#f1f1fe"/></linearGradient><linearGradient id="hD0" gradientUnits="userSpaceOnUse" x1="320" y1="0" x2="456.6" y2="0"><stop offset="0%" stop-color="#e9e9fd"/><stop offset="5.12%" stop-color="#cecefa"/><stop offset="9.52%" stop-color="#c6c6f9"/><stop offset="11.71%" stop-color="#c6c6f9"/><stop offset="13.91%" stop-color="#cecefa"/><stop offset="18.3%" stop-color="#f0f0fd"/><stop offset="22.69%" stop-color="#fefeff"/><stop offset="24.89%" stop-color="#ffffff"/><stop offset="27.09%" stop-color="#fef3f3"/><stop offset="30.01%" stop-color="#f8bdbd"/><stop offset="30.75%" stop-color="#f8bcbc"/><stop offset="33.67%" stop-color="#fce6e6"/><stop offset="36.6%" stop-color="#fef4f4"/><stop offset="40.26%" stop-color="#fdebeb"/><stop offset="41.73%" stop-color="#fefafa"/><stop offset="42.46%" stop-color="#f6f6fe"/><stop offset="43.92%" stop-color="#dfdffc"/><stop offset="44.66%" stop-color="#e4e4fc"/><stop offset="45.39%" stop-color="#f1f1fe"/><stop offset="46.12%" stop-color="#fffdfd"/><stop offset="47.58%" stop-color="#fbdada"/><stop offset="48.32%" stop-color="#fbd8d8"/><stop offset="49.78%" stop-color="#fef8f8"/><stop offset="50.51%" stop-color="#f8f8fe"/><stop offset="51.98%" stop-color="#dbdbfb"/><stop offset="52.71%" stop-color="#d6d6fb"/><stop offset="54.9%" stop-color="#fefeff"/><stop offset="55.64%" stop-color="#fdf1f1"/><stop offset="56.37%" stop-color="#fce1e1"/><stop offset="57.1%" stop-color="#fcdfdf"/><stop offset="58.57%" stop-color="#fffdfd"/><stop offset="59.3%" stop-color="#f7f7fe"/><stop offset="60.76%" stop-color="#f1f1fd"/><stop offset="62.96%" stop-color="#fdfdff"/><stop offset="67.35%" stop-color="#fcfcff"/><stop offset="71.74%" stop-color="#fafafe"/><stop offset="76.13%" stop-color="#fafafe"/><stop offset="80.53%" stop-color="#fafafe"/><stop offset="84.92%" stop-color="#fafafe"/><stop offset="89.31%" stop-color="#fafafe"/><stop offset="93.7%" stop-color="#fafafe"/><stop offset="98.1%" stop-color="#fafafe"/><stop offset="100%" stop-color="#fafafe"/></linearGradient><linearGradient id="hD1" gradientUnits="userSpaceOnUse" x1="320" y1="0" x2="456.6" y2="0"><stop offset="0%" stop-color="#e9e9fd"/><stop offset="5.12%" stop-color="#cecefa"/><stop offset="9.52%" stop-color="#c6c6f9"/><stop offset="11.71%" stop-color="#c6c6f9"/><stop offset="13.91%" stop-color="#cecefa"/><stop offset="18.3%" stop-color="#f0f0fd"/><stop offset="22.69%" stop-color="#fefeff"/><stop offset="24.89%" stop-color="#ffffff"/><stop offset="27.09%" stop-color="#fef3f3"/><stop offset="30.01%" stop-color="#f8bdbd"/><stop offset="30.75%" stop-color="#f8bdbd"/><stop offset="33.67%" stop-color="#fce6e6"/><stop offset="36.6%" stop-color="#fef4f4"/><stop offset="40.26%" stop-color="#fdebeb"/><stop offset="41.73%" stop-color="#fefafa"/><stop offset="42.46%" stop-color="#f6f6fe"/><stop offset="43.92%" stop-color="#dfdffc"/><stop offset="44.66%" stop-color="#e4e4fc"/><stop offset="45.39%" stop-color="#f1f1fe"/><stop offset="46.12%" stop-color="#fffdfd"/><stop offset="47.58%" stop-color="#fbdada"/><stop offset="48.32%" stop-color="#fbd8d8"/><stop offset="49.78%" stop-color="#fef8f8"/><stop offset="50.51%" stop-color="#f8f8fe"/><stop offset="51.98%" stop-color="#dbdbfb"/><stop offset="52.71%" stop-color="#d6d6fb"/><stop offset="54.9%" stop-color="#fefeff"/><stop offset="55.64%" stop-color="#fdf1f1"/><stop offset="56.37%" stop-color="#fce1e1"/><stop offset="57.1%" stop-color="#fcdfdf"/><stop offset="58.57%" stop-color="#fffdfd"/><stop offset="59.3%" stop-color="#f7f7fe"/><stop offset="60.76%" stop-color="#f1f1fd"/><stop offset="62.96%" stop-color="#fdfdff"/><stop offset="67.35%" stop-color="#fcfcff"/><stop offset="71.74%" stop-color="#fafafe"/><stop offset="76.13%" stop-color="#fafafe"/><stop offset="80.53%" stop-color="#fafafe"/><stop offset="84.92%" stop-color="#fafafe"/><stop offset="89.31%" stop-color="#fafafe"/><stop offset="93.7%" stop-color="#fafafe"/><stop offset="98.1%" stop-color="#fafafe"/><stop offset="100%" stop-color="#fafafe"/></linearGradient><linearGradient id="hD2" gradientUnits="userSpaceOnUse" x1="320" y1="0" x2="456.6" y2="0"><stop offset="0%" stop-color="#e9e9fd"/><stop offset="5.12%" stop-color="#cecefa"/><stop offset="9.52%" stop-color="#c6c6f9"/><stop offset="11.71%" stop-color="#c6c6f9"/><stop offset="13.91%" stop-color="#cecefa"/><stop offset="18.3%" stop-color="#f0f0fd"/><stop offset="22.69%" stop-color="#fefeff"/><stop offset="24.89%" stop-color="#ffffff"/><stop offset="27.09%" stop-color="#fef4f4"/><stop offset="30.01%" stop-color="#f8c2c2"/><stop offset="30.75%" stop-color="#f8c2c2"/><stop offset="33.67%" stop-color="#fde8e8"/><stop offset="37.34%" stop-color="#fef3f3"/><stop offset="40.26%" stop-color="#fdecec"/><stop offset="41.73%" stop-color="#fefafa"/><stop offset="42.46%" stop-color="#f7f7fe"/><stop offset="43.92%" stop-color="#e1e1fc"/><stop offset="45.39%" stop-color="#f2f2fe"/><stop offset="46.12%" stop-color="#fffefe"/><stop offset="47.58%" stop-color="#fbdddd"/><stop offset="48.32%" stop-color="#fbdbdb"/><stop offset="49.78%" stop-color="#fef9f9"/><stop offset="50.51%" stop-color="#f9f9fe"/><stop offset="51.98%" stop-color="#dedefb"/><stop offset="52.71%" stop-color="#d9d9fb"/><stop offset="54.9%" stop-color="#fefeff"/><stop offset="55.64%" stop-color="#fef2f2"/><stop offset="56.37%" stop-color="#fce3e3"/><stop offset="57.1%" stop-color="#fce2e2"/><stop offset="58.57%" stop-color="#fffdfd"/><stop offset="59.3%" stop-color="#f8f8fe"/><stop offset="60.76%" stop-color="#f2f2fe"/><stop offset="62.96%" stop-color="#fdfdff"/><stop offset="67.35%" stop-color="#fcfcff"/><stop offset="71.74%" stop-color="#fafafe"/><stop offset="76.13%" stop-color="#fafafe"/><stop offset="80.53%" stop-color="#fafafe"/><stop offset="84.92%" stop-color="#fafafe"/><stop offset="89.31%" stop-color="#fafafe"/><stop offset="93.7%" stop-color="#fafafe"/><stop offset="98.1%" stop-color="#fafafe"/><stop offset="100%" stop-color="#fafafe"/></linearGradient><linearGradient id="hD3" gradientUnits="userSpaceOnUse" x1="320" y1="0" x2="456.6" y2="0"><stop offset="0%" stop-color="#e9e9fd"/><stop offset="5.12%" stop-color="#cecefa"/><stop offset="9.52%" stop-color="#c6c6f9"/><stop offset="11.71%" stop-color="#c6c6f9"/><stop offset="13.91%" stop-color="#cecefa"/><stop offset="18.3%" stop-color="#f0f0fd"/><stop offset="22.69%" stop-color="#fefeff"/><stop offset="24.89%" stop-color="#ffffff"/><stop offset="27.09%" stop-color="#fef6f6"/><stop offset="30.01%" stop-color="#f9c9c9"/><stop offset="30.75%" stop-color="#f9c9c9"/><stop offset="35.87%" stop-color="#fef5f5"/><stop offset="40.26%" stop-color="#fdeeee"/><stop offset="41.73%" stop-color="#fffbfb"/><stop offset="42.46%" stop-color="#f8f8fe"/><stop offset="43.92%" stop-color="#e5e5fc"/><stop offset="45.39%" stop-color="#f4f4fe"/><stop offset="46.12%" stop-color="#fffefe"/><stop offset="47.58%" stop-color="#fce1e1"/><stop offset="48.32%" stop-color="#fcdfdf"/><stop offset="49.78%" stop-color="#fef9f9"/><stop offset="50.51%" stop-color="#fafafe"/><stop offset="51.98%" stop-color="#e2e2fc"/><stop offset="52.71%" stop-color="#dedefb"/><stop offset="54.9%" stop-color="#fefeff"/><stop offset="55.64%" stop-color="#fef3f3"/><stop offset="56.37%" stop-color="#fce7e7"/><stop offset="57.1%" stop-color="#fce5e5"/><stop offset="58.57%" stop-color="#fffdfd"/><stop offset="59.3%" stop-color="#f8f8fe"/><stop offset="60.76%" stop-color="#f3f3fe"/><stop offset="62.96%" stop-color="#fdfdff"/><stop offset="67.35%" stop-color="#fcfcff"/><stop offset="71.74%" stop-color="#fafafe"/><stop offset="76.13%" stop-color="#fafafe"/><stop offset="80.53%" stop-color="#fafafe"/><stop offset="84.92%" stop-color="#fafafe"/><stop offset="89.31%" stop-color="#fafafe"/><stop offset="93.7%" stop-color="#fafafe"/><stop offset="98.1%" stop-color="#fafafe"/><stop offset="100%" stop-color="#fafafe"/></linearGradient><linearGradient id="hD4" gradientUnits="userSpaceOnUse" x1="320" y1="0" x2="456.6" y2="0"><stop offset="0%" stop-color="#e8e8fd"/><stop offset="5.12%" stop-color="#cecefa"/><stop offset="9.52%" stop-color="#c6c6f9"/><stop offset="11.71%" stop-color="#c6c6f9"/><stop offset="13.91%" stop-color="#cecefa"/><stop offset="18.3%" stop-color="#f0f0fd"/><stop offset="22.69%" stop-color="#fefeff"/><stop offset="27.09%" stop-color="#fef7f7"/><stop offset="30.01%" stop-color="#fad0d0"/><stop offset="31.48%" stop-color="#fbd6d6"/><stop offset="36.6%" stop-color="#fef7f7"/><stop offset="40.26%" stop-color="#fdf0f0"/><stop offset="41.73%" stop-color="#fffbfb"/><stop offset="42.46%" stop-color="#f8f8fe"/><stop offset="43.92%" stop-color="#e8e8fd"/><stop offset="45.39%" stop-color="#f5f5fe"/><stop offset="46.12%" stop-color="#fffefe"/><stop offset="47.58%" stop-color="#fce4e4"/><stop offset="48.32%" stop-color="#fce3e3"/><stop offset="49.78%" stop-color="#fefafa"/><stop offset="50.51%" stop-color="#fafafe"/><stop offset="51.98%" stop-color="#e5e5fc"/><stop offset="52.71%" stop-color="#e2e2fc"/><stop offset="54.9%" stop-color="#fefeff"/><stop offset="55.64%" stop-color="#fef5f5"/><stop offset="56.37%" stop-color="#fdeaea"/><stop offset="57.1%" stop-color="#fde8e8"/><stop offset="58.57%" stop-color="#fffdfd"/><stop offset="59.3%" stop-color="#f9f9fe"/><stop offset="60.76%" stop-color="#f5f5fe"/><stop offset="62.96%" stop-color="#fdfdff"/><stop offset="67.35%" stop-color="#fcfcff"/><stop offset="71.74%" stop-color="#fafafe"/><stop offset="76.13%" stop-color="#fafafe"/><stop offset="80.53%" stop-color="#fafafe"/><stop offset="84.92%" stop-color="#fafafe"/><stop offset="89.31%" stop-color="#fafafe"/><stop offset="93.7%" stop-color="#fafafe"/><stop offset="98.1%" stop-color="#fafafe"/><stop offset="100%" stop-color="#fafafe"/></linearGradient><linearGradient id="hD5" gradientUnits="userSpaceOnUse" x1="320" y1="0" x2="456.6" y2="0"><stop offset="0%" stop-color="#e8e8fd"/><stop offset="5.12%" stop-color="#cecefa"/><stop offset="9.52%" stop-color="#c6c6f9"/><stop offset="11.71%" stop-color="#c6c6f9"/><stop offset="13.91%" stop-color="#cecefa"/><stop offset="18.3%" stop-color="#f0f0fd"/><stop offset="22.69%" stop-color="#fefeff"/><stop offset="27.09%" stop-color="#fef7f7"/><stop offset="30.01%" stop-color="#fad3d3"/><stop offset="31.48%" stop-color="#fbd9d9"/><stop offset="36.6%" stop-color="#fef8f8"/><stop offset="40.26%" stop-color="#fef1f1"/><stop offset="41.73%" stop-color="#fffcfc"/><stop offset="42.46%" stop-color="#f9f9fe"/><stop offset="43.92%" stop-color="#eaeafd"/><stop offset="45.39%" stop-color="#f6f6fe"/><stop offset="46.12%" stop-color="#fffefe"/><stop offset="47.58%" stop-color="#fce6e6"/><stop offset="48.32%" stop-color="#fce5e5"/><stop offset="49.78%" stop-color="#fffafa"/><stop offset="50.51%" stop-color="#fbfbff"/><stop offset="51.98%" stop-color="#e7e7fc"/><stop offset="52.71%" stop-color="#e4e4fc"/><stop offset="54.9%" stop-color="#fefeff"/><stop offset="55.64%" stop-color="#fef5f5"/><stop offset="56.37%" stop-color="#fdebeb"/><stop offset="57.1%" stop-color="#fdeaea"/><stop offset="58.57%" stop-color="#fffdfd"/><stop offset="59.3%" stop-color="#fafafe"/><stop offset="60.76%" stop-color="#f5f5fe"/><stop offset="62.96%" stop-color="#fdfdff"/><stop offset="67.35%" stop-color="#fcfcff"/><stop offset="71.74%" stop-color="#fafafe"/><stop offset="76.13%" stop-color="#fafafe"/><stop offset="80.53%" stop-color="#fafafe"/><stop offset="84.92%" stop-color="#fafafe"/><stop offset="89.31%" stop-color="#fafafe"/><stop offset="93.7%" stop-color="#fafafe"/><stop offset="98.1%" stop-color="#fafafe"/><stop offset="100%" stop-color="#fafafe"/></linearGradient><linearGradient id="hD6" gradientUnits="userSpaceOnUse" x1="320" y1="0" x2="456.6" y2="0"><stop offset="0%" stop-color="#e8e8fc"/><stop offset="5.12%" stop-color="#cecefa"/><stop offset="9.52%" stop-color="#c6c6f9"/><stop offset="11.71%" stop-color="#c6c6f9"/><stop offset="13.91%" stop-color="#cecefa"/><stop offset="18.3%" stop-color="#f0f0fd"/><stop offset="22.69%" stop-color="#fefeff"/><stop offset="27.09%" stop-color="#fef7f7"/><stop offset="30.01%" stop-color="#fad4d4"/><stop offset="31.48%" stop-color="#fbdada"/><stop offset="36.6%" stop-color="#fef8f8"/><stop offset="40.26%" stop-color="#fef2f2"/><stop offset="41.73%" stop-color="#fffcfc"/><stop offset="42.46%" stop-color="#f9f9fe"/><stop offset="43.92%" stop-color="#eaeafd"/><stop offset="45.39%" stop-color="#f6f6fe"/><stop offset="46.12%" stop-color="#fffefe"/><stop offset="47.58%" stop-color="#fce7e7"/><stop offset="48.32%" stop-color="#fce5e5"/><stop offset="49.78%" stop-color="#fffafa"/><stop offset="50.51%" stop-color="#fbfbff"/><stop offset="51.98%" stop-color="#e7e7fc"/><stop offset="52.71%" stop-color="#e4e4fc"/><stop offset="54.9%" stop-color="#fefeff"/><stop offset="55.64%" stop-color="#fef6f6"/><stop offset="56.37%" stop-color="#fdebeb"/><stop offset="57.1%" stop-color="#fdeaea"/><stop offset="58.57%" stop-color="#fffdfd"/><stop offset="59.3%" stop-color="#fafafe"/><stop offset="60.76%" stop-color="#f5f5fe"/><stop offset="62.96%" stop-color="#fdfdff"/><stop offset="67.35%" stop-color="#fcfcff"/><stop offset="71.74%" stop-color="#fafafe"/><stop offset="76.13%" stop-color="#fafafe"/><stop offset="80.53%" stop-color="#fafafe"/><stop offset="84.92%" stop-color="#fafafe"/><stop offset="89.31%" stop-color="#fafafe"/><stop offset="93.7%" stop-color="#fafafe"/><stop offset="98.1%" stop-color="#fafafe"/><stop offset="100%" stop-color="#fafafe"/></linearGradient><linearGradient id="hD7" gradientUnits="userSpaceOnUse" x1="320" y1="0" x2="456.6" y2="0"><stop offset="0%" stop-color="#e8e8fc"/><stop offset="5.12%" stop-color="#cdcdfa"/><stop offset="9.52%" stop-color="#c6c6f9"/><stop offset="11.71%" stop-color="#c6c6f9"/><stop offset="13.91%" stop-color="#cecefa"/><stop offset="18.3%" stop-color="#f0f0fd"/><stop offset="22.69%" stop-color="#fefeff"/><stop offset="27.09%" stop-color="#fef7f7"/><stop offset="30.01%" stop-color="#fad4d4"/><stop offset="31.48%" stop-color="#fbdada"/><stop offset="36.6%" stop-color="#fef8f8"/><stop offset="40.26%" stop-color="#fef2f2"/><stop offset="41.73%" stop-color="#fffcfc"/><stop offset="42.46%" stop-color="#f9f9fe"/><stop offset="43.92%" stop-color="#eaeafd"/><stop offset="45.39%" stop-color="#f6f6fe"/><stop offset="46.12%" stop-color="#fffefe"/><stop offset="47.58%" stop-color="#fce7e7"/><stop offset="48.32%" stop-color="#fce5e5"/><stop offset="49.78%" stop-color="#fffafa"/><stop offset="50.51%" stop-color="#fbfbff"/><stop offset="51.98%" stop-color="#e7e7fc"/><stop offset="52.71%" stop-color="#e4e4fc"/><stop offset="54.9%" stop-color="#fefeff"/><stop offset="55.64%" stop-color="#fef6f6"/><stop offset="56.37%" stop-color="#fdebeb"/><stop offset="57.1%" stop-color="#fdeaea"/><stop offset="58.57%" stop-color="#fffdfd"/><stop offset="59.3%" stop-color="#fafafe"/><stop offset="60.76%" stop-color="#f5f5fe"/><stop offset="62.96%" stop-color="#fdfdff"/><stop offset="67.35%" stop-color="#fcfcff"/><stop offset="71.74%" stop-color="#fafafe"/><stop offset="76.13%" stop-color="#fafafe"/><stop offset="80.53%" stop-color="#fafafe"/><stop offset="84.92%" stop-color="#fafafe"/><stop offset="89.31%" stop-color="#fafafe"/><stop offset="93.7%" stop-color="#fafafe"/><stop offset="98.1%" stop-color="#fafafe"/><stop offset="100%" stop-color="#fafafe"/></linearGradient><linearGradient id="hD8" gradientUnits="userSpaceOnUse" x1="320" y1="0" x2="456.6" y2="0"><stop offset="0%" stop-color="#e8e8fd"/><stop offset="5.12%" stop-color="#d0d0fa"/><stop offset="9.52%" stop-color="#c9c9f9"/><stop offset="13.91%" stop-color="#d2d2fa"/><stop offset="18.3%" stop-color="#f1f1fd"/><stop offset="22.69%" stop-color="#fefeff"/><stop offset="27.09%" stop-color="#fef8f8"/><stop offset="30.01%" stop-color="#fad4d4"/><stop offset="31.48%" stop-color="#fbdada"/><stop offset="36.6%" stop-color="#fef8f8"/><stop offset="40.26%" stop-color="#fef2f2"/><stop offset="41.73%" stop-color="#fffcfc"/><stop offset="42.46%" stop-color="#f9f9fe"/><stop offset="43.92%" stop-color="#eaeafd"/><stop offset="45.39%" stop-color="#f6f6fe"/><stop offset="46.12%" stop-color="#fffefe"/><stop offset="47.58%" stop-color="#fce7e7"/><stop offset="48.32%" stop-color="#fce6e6"/><stop offset="49.78%" stop-color="#fffafa"/><stop offset="50.51%" stop-color="#fbfbff"/><stop offset="51.98%" stop-color="#e8e8fc"/><stop offset="52.71%" stop-color="#e5e5fc"/><stop offset="54.9%" stop-color="#fefeff"/><stop offset="55.64%" stop-color="#fef6f6"/><stop offset="56.37%" stop-color="#fdecec"/><stop offset="57.1%" stop-color="#fdeaea"/><stop offset="58.57%" stop-color="#fffdfd"/><stop offset="59.3%" stop-color="#fafafe"/><stop offset="60.76%" stop-color="#f6f6fe"/><stop offset="62.96%" stop-color="#fdfdff"/><stop offset="67.35%" stop-color="#fcfcff"/><stop offset="71.74%" stop-color="#fafafe"/><stop offset="76.13%" stop-color="#fafafe"/><stop offset="80.53%" stop-color="#fafafe"/><stop offset="84.92%" stop-color="#fafafe"/><stop offset="89.31%" stop-color="#fafafe"/><stop offset="93.7%" stop-color="#fafafe"/><stop offset="98.1%" stop-color="#fafafe"/><stop offset="100%" stop-color="#fafafe"/></linearGradient><linearGradient id="hD9" gradientUnits="userSpaceOnUse" x1="320" y1="0" x2="456.6" y2="0"><stop offset="0%" stop-color="#e8e8fd"/><stop offset="5.12%" stop-color="#dadafb"/><stop offset="9.52%" stop-color="#d5d5fa"/><stop offset="13.91%" stop-color="#dbdbfb"/><stop offset="18.3%" stop-color="#f3f3fe"/><stop offset="22.69%" stop-color="#fefeff"/><stop offset="27.09%" stop-color="#fef9f9"/><stop offset="30.01%" stop-color="#fbdcdc"/><stop offset="35.87%" stop-color="#fef8f8"/><stop offset="41%" stop-color="#fef7f7"/><stop offset="41.73%" stop-color="#fffcfc"/><stop offset="42.46%" stop-color="#fafafe"/><stop offset="43.92%" stop-color="#eeeefd"/><stop offset="45.39%" stop-color="#f8f8fe"/><stop offset="46.12%" stop-color="#fffefe"/><stop offset="47.58%" stop-color="#fdebeb"/><stop offset="48.32%" stop-color="#fdeaea"/><stop offset="49.78%" stop-color="#fffbfb"/><stop offset="50.51%" stop-color="#fbfbff"/><stop offset="52.71%" stop-color="#e9e9fd"/><stop offset="54.9%" stop-color="#fefeff"/><stop offset="55.64%" stop-color="#fef7f7"/><stop offset="57.1%" stop-color="#fdeeee"/><stop offset="60.03%" stop-color="#f7f7fe"/><stop offset="65.15%" stop-color="#fdfdff"/><stop offset="69.55%" stop-color="#fbfbff"/><stop offset="73.94%" stop-color="#fafafe"/><stop offset="78.33%" stop-color="#fafafe"/><stop offset="82.72%" stop-color="#fafafe"/><stop offset="87.12%" stop-color="#fafafe"/><stop offset="91.51%" stop-color="#fafafe"/><stop offset="95.9%" stop-color="#fafafe"/><stop offset="100%" stop-color="#fafafe"/></linearGradient><linearGradient id="hD10" gradientUnits="userSpaceOnUse" x1="320" y1="0" x2="456.6" y2="0"><stop offset="0%" stop-color="#e6e6fc"/><stop offset="5.12%" stop-color="#dfdffc"/><stop offset="9.52%" stop-color="#ddddfb"/><stop offset="13.91%" stop-color="#e2e2fc"/><stop offset="18.3%" stop-color="#f4f4fe"/><stop offset="22.69%" stop-color="#ffffff"/><stop offset="27.82%" stop-color="#fef6f6"/><stop offset="30.01%" stop-color="#fce5e5"/><stop offset="35.87%" stop-color="#fefafa"/><stop offset="41.73%" stop-color="#fffdfd"/><stop offset="43.92%" stop-color="#f2f2fe"/><stop offset="48.32%" stop-color="#fdefef"/><stop offset="52.71%" stop-color="#efeffd"/><stop offset="56.37%" stop-color="#fef3f3"/><stop offset="60.76%" stop-color="#f9f9fe"/><stop offset="65.15%" stop-color="#fdfdff"/><stop offset="69.55%" stop-color="#fbfbff"/><stop offset="73.94%" stop-color="#fafafe"/><stop offset="78.33%" stop-color="#fafafe"/><stop offset="82.72%" stop-color="#fafafe"/><stop offset="87.12%" stop-color="#fafafe"/><stop offset="91.51%" stop-color="#fafafe"/><stop offset="95.9%" stop-color="#fafafe"/><stop offset="100%" stop-color="#fafafe"/></linearGradient><linearGradient id="hD11" gradientUnits="userSpaceOnUse" x1="320" y1="0" x2="456.6" y2="0"><stop offset="0%" stop-color="#e6e6fc"/><stop offset="5.12%" stop-color="#e4e4fc"/><stop offset="9.52%" stop-color="#e4e4fc"/><stop offset="13.91%" stop-color="#e8e8fc"/><stop offset="18.3%" stop-color="#f5f5fe"/><stop offset="22.69%" stop-color="#ffffff"/><stop offset="28.55%" stop-color="#fef5f5"/><stop offset="34.41%" stop-color="#fefafa"/><stop offset="40.26%" stop-color="#fefafa"/><stop offset="44.66%" stop-color="#f8f8fe"/><stop offset="48.32%" stop-color="#fef4f4"/><stop offset="52.71%" stop-color="#f4f4fe"/><stop offset="57.1%" stop-color="#fef6f6"/><stop offset="60.76%" stop-color="#fbfbff"/><stop offset="65.15%" stop-color="#fdfdff"/><stop offset="69.55%" stop-color="#fbfbff"/><stop offset="73.94%" stop-color="#fafafe"/><stop offset="78.33%" stop-color="#fafafe"/><stop offset="82.72%" stop-color="#fafafe"/><stop offset="87.12%" stop-color="#fafafe"/><stop offset="91.51%" stop-color="#fafafe"/><stop offset="95.9%" stop-color="#fafafe"/><stop offset="100%" stop-color="#fafafe"/></linearGradient><linearGradient id="hD12" gradientUnits="userSpaceOnUse" x1="320" y1="0" x2="456.6" y2="0"><stop offset="0%" stop-color="#eaeafd"/><stop offset="5.12%" stop-color="#eaeafd"/><stop offset="9.52%" stop-color="#eaeafd"/><stop offset="13.91%" stop-color="#ededfd"/><stop offset="18.3%" stop-color="#f7f7fe"/><stop offset="22.69%" stop-color="#ffffff"/><stop offset="28.55%" stop-color="#fef9f9"/><stop offset="34.41%" stop-color="#fffcfc"/><stop offset="40.26%" stop-color="#fffcfc"/><stop offset="46.12%" stop-color="#ffffff"/><stop offset="51.98%" stop-color="#f9f9fe"/><stop offset="57.83%" stop-color="#fffcfc"/><stop offset="62.96%" stop-color="#fefeff"/><stop offset="67.35%" stop-color="#fcfcff"/><stop offset="71.74%" stop-color="#fafafe"/><stop offset="76.13%" stop-color="#fafafe"/><stop offset="80.53%" stop-color="#fafafe"/><stop offset="84.92%" stop-color="#fafafe"/><stop offset="89.31%" stop-color="#fafafe"/><stop offset="93.7%" stop-color="#fafafe"/><stop offset="98.1%" stop-color="#fafafe"/><stop offset="100%" stop-color="#fafafe"/></linearGradient><linearGradient id="hD13" gradientUnits="userSpaceOnUse" x1="320" y1="0" x2="456.6" y2="0"><stop offset="0%" stop-color="#e8e8fd"/><stop offset="5.12%" stop-color="#e8e8fd"/><stop offset="9.52%" stop-color="#e8e8fd"/><stop offset="13.91%" stop-color="#ebebfd"/><stop offset="18.3%" stop-color="#f6f6fe"/><stop offset="22.69%" stop-color="#ffffff"/><stop offset="28.55%" stop-color="#fffcfc"/><stop offset="34.41%" stop-color="#fffefe"/><stop offset="40.26%" stop-color="#fffefe"/><stop offset="46.12%" stop-color="#ffffff"/><stop offset="51.98%" stop-color="#fdfdff"/><stop offset="57.83%" stop-color="#fffefe"/><stop offset="62.96%" stop-color="#fefeff"/><stop offset="67.35%" stop-color="#fcfcff"/><stop offset="71.74%" stop-color="#fafafe"/><stop offset="76.13%" stop-color="#fafafe"/><stop offset="80.53%" stop-color="#fafafe"/><stop offset="84.92%" stop-color="#fafafe"/><stop offset="89.31%" stop-color="#fafafe"/><stop offset="93.7%" stop-color="#fafafe"/><stop offset="98.1%" stop-color="#fafafe"/><stop offset="100%" stop-color="#fafafe"/></linearGradient><linearGradient id="hD14" gradientUnits="userSpaceOnUse" x1="320" y1="0" x2="456.6" y2="0"><stop offset="0%" stop-color="#eaeafd"/><stop offset="5.12%" stop-color="#eaeafd"/><stop offset="9.52%" stop-color="#eaeafd"/><stop offset="13.91%" stop-color="#ededfd"/><stop offset="18.3%" stop-color="#f7f7fe"/><stop offset="22.69%" stop-color="#ffffff"/><stop offset="28.55%" stop-color="#ffffff"/><stop offset="34.41%" stop-color="#ffffff"/><stop offset="40.26%" stop-color="#ffffff"/><stop offset="46.12%" stop-color="#ffffff"/><stop offset="51.98%" stop-color="#ffffff"/><stop offset="57.83%" stop-color="#ffffff"/><stop offset="62.96%" stop-color="#fefeff"/><stop offset="67.35%" stop-color="#fcfcff"/><stop offset="71.74%" stop-color="#fafafe"/><stop offset="76.13%" stop-color="#fafafe"/><stop offset="80.53%" stop-color="#fafafe"/><stop offset="84.92%" stop-color="#fafafe"/><stop offset="89.31%" stop-color="#fafafe"/><stop offset="93.7%" stop-color="#fafafe"/><stop offset="98.1%" stop-color="#fafafe"/><stop offset="100%" stop-color="#fafafe"/></linearGradient><linearGradient id="hD15" gradientUnits="userSpaceOnUse" x1="320" y1="0" x2="456.6" y2="0"><stop offset="0%" stop-color="#f1f1fe"/><stop offset="5.12%" stop-color="#f1f1fe"/><stop offset="9.52%" stop-color="#f1f1fe"/><stop offset="13.91%" stop-color="#f3f3fe"/><stop offset="18.3%" stop-color="#fafafe"/><stop offset="22.69%" stop-color="#ffffff"/><stop offset="28.55%" stop-color="#ffffff"/><stop offset="34.41%" stop-color="#ffffff"/><stop offset="40.26%" stop-color="#ffffff"/><stop offset="46.12%" stop-color="#ffffff"/><stop offset="51.98%" stop-color="#ffffff"/><stop offset="57.83%" stop-color="#ffffff"/><stop offset="62.96%" stop-color="#fefeff"/><stop offset="67.35%" stop-color="#fcfcff"/><stop offset="71.74%" stop-color="#fafafe"/><stop offset="76.13%" stop-color="#fafafe"/><stop offset="80.53%" stop-color="#fafafe"/><stop offset="84.92%" stop-color="#fafafe"/><stop offset="89.31%" stop-color="#fafafe"/><stop offset="93.7%" stop-color="#fafafe"/><stop offset="98.1%" stop-color="#fafafe"/><stop offset="100%" stop-color="#fafafe"/></linearGradient></defs>
<rect x="118.5" y="381.98" width="95.8" height="250.03" fill="url(#hA0)"/><rect x="118.5" y="631.61" width="95.8" height="3.12" fill="url(#hA1)"/><rect x="118.5" y="634.32" width="95.8" height="2.82" fill="url(#hA2)"/><rect x="118.5" y="636.74" width="95.8" height="2.21" fill="url(#hA3)"/><rect x="118.5" y="638.55" width="95.8" height="1.91" fill="url(#hA4)"/><rect x="118.5" y="640.06" width="95.8" height="1.61" fill="url(#hA5)"/><rect x="118.5" y="641.27" width="95.8" height="1.31" fill="url(#hA6)"/><rect x="118.5" y="642.18" width="95.8" height="1.16" fill="url(#hA7)"/><rect x="118.5" y="642.93" width="95.8" height="1" fill="url(#hA8)"/><rect x="118.5" y="643.54" width="95.8" height="1" fill="url(#hA9)"/><rect x="118.5" y="644.14" width="95.8" height="1" fill="url(#hA10)"/><rect x="118.5" y="644.75" width="95.8" height="1" fill="url(#hA11)"/><rect x="118.5" y="645.35" width="95.8" height="1" fill="url(#hA12)"/><rect x="118.5" y="645.96" width="95.8" height="1" fill="url(#hA13)"/><rect x="118.5" y="646.56" width="95.8" height="1.16" fill="url(#hA14)"/><rect x="118.5" y="647.31" width="95.8" height="1.61" fill="url(#hA15)"/><rect x="118.5" y="648.52" width="95.8" height="5.14" fill="url(#hA16)"/><rect x="214" y="381.98" width="44.3" height="251.54" fill="url(#hB0)"/><rect x="214" y="633.12" width="44.3" height="4.03" fill="url(#hB1)"/><rect x="214" y="636.74" width="44.3" height="2.82" fill="url(#hB2)"/><rect x="214" y="639.16" width="44.3" height="2.21" fill="url(#hB3)"/><rect x="214" y="640.97" width="44.3" height="1.91" fill="url(#hB4)"/><rect x="214" y="642.48" width="44.3" height="1.46" fill="url(#hB5)"/><rect x="214" y="643.54" width="44.3" height="1.16" fill="url(#hB6)"/><rect x="214" y="644.29" width="44.3" height="1.16" fill="url(#hB7)"/><rect x="214" y="645.05" width="44.3" height="1.16" fill="url(#hB8)"/><rect x="214" y="645.8" width="44.3" height="1.16" fill="url(#hB9)"/><rect x="214" y="646.56" width="44.3" height="1.46" fill="url(#hB10)"/><rect x="214" y="647.62" width="44.3" height="2.21" fill="url(#hB11)"/><rect x="214" y="649.43" width="44.3" height="4.24" fill="url(#hB12)"/><rect x="258" y="381.98" width="62.3" height="52.15" fill="url(#hC0)"/><rect x="258" y="433.73" width="62.3" height="42.69" fill="url(#hC1)"/><rect x="258" y="476.02" width="62.3" height="33.63" fill="url(#hC2)"/><rect x="258" y="509.26" width="62.3" height="24.57" fill="url(#hC3)"/><rect x="258" y="533.42" width="62.3" height="18.53" fill="url(#hC4)"/><rect x="258" y="551.55" width="62.3" height="15.5" fill="url(#hC5)"/><rect x="258" y="566.65" width="62.3" height="12.48" fill="url(#hC6)"/><rect x="258" y="578.74" width="62.3" height="10.97" fill="url(#hC7)"/><rect x="258" y="589.31" width="62.3" height="9.46" fill="url(#hC8)"/><rect x="258" y="598.37" width="62.3" height="7.95" fill="url(#hC9)"/><rect x="258" y="605.93" width="62.3" height="6.44" fill="url(#hC10)"/><rect x="258" y="611.97" width="62.3" height="5.54" fill="url(#hC11)"/><rect x="258" y="617.1" width="62.3" height="4.63" fill="url(#hC12)"/><rect x="258" y="621.33" width="62.3" height="4.03" fill="url(#hC13)"/><rect x="258" y="624.96" width="62.3" height="3.42" fill="url(#hC14)"/><rect x="258" y="627.98" width="62.3" height="3.12" fill="url(#hC15)"/><rect x="258" y="630.7" width="62.3" height="2.82" fill="url(#hC16)"/><rect x="258" y="633.12" width="62.3" height="2.51" fill="url(#hC17)"/><rect x="258" y="635.23" width="62.3" height="2.21" fill="url(#hC18)"/><rect x="258" y="637.04" width="62.3" height="1.91" fill="url(#hC19)"/><rect x="258" y="638.55" width="62.3" height="1.91" fill="url(#hC20)"/><rect x="258" y="640.06" width="62.3" height="1.61" fill="url(#hC21)"/><rect x="258" y="641.27" width="62.3" height="1.61" fill="url(#hC22)"/><rect x="258" y="642.48" width="62.3" height="1.61" fill="url(#hC23)"/><rect x="258" y="643.69" width="62.3" height="1.61" fill="url(#hC24)"/><rect x="258" y="644.9" width="62.3" height="1.91" fill="url(#hC25)"/><rect x="258" y="646.41" width="62.3" height="7.26" fill="url(#hC26)"/><rect x="320" y="381.98" width="136.9" height="46.11" fill="url(#hD0)"/><rect x="320" y="427.69" width="136.9" height="42.69" fill="url(#hD1)"/><rect x="320" y="469.98" width="136.9" height="39.67" fill="url(#hD2)"/><rect x="320" y="509.26" width="136.9" height="39.67" fill="url(#hD3)"/><rect x="320" y="548.53" width="136.9" height="36.65" fill="url(#hD4)"/><rect x="320" y="584.78" width="136.9" height="24.57" fill="url(#hD5)"/><rect x="320" y="608.95" width="136.9" height="15.5" fill="url(#hD6)"/><rect x="320" y="624.05" width="136.9" height="7.05" fill="url(#hD7)"/><rect x="320" y="630.7" width="136.9" height="4.03" fill="url(#hD8)"/><rect x="320" y="634.32" width="136.9" height="3.12" fill="url(#hD9)"/><rect x="320" y="637.04" width="136.9" height="2.51" fill="url(#hD10)"/><rect x="320" y="639.16" width="136.9" height="2.21" fill="url(#hD11)"/><rect x="320" y="640.97" width="136.9" height="2.21" fill="url(#hD12)"/><rect x="320" y="642.78" width="136.9" height="2.21" fill="url(#hD13)"/><rect x="320" y="644.6" width="136.9" height="2.51" fill="url(#hD14)"/><rect x="320" y="646.71" width="136.9" height="6.96" fill="url(#hD15)"/>
<path d="M118.5 466.9H456.6M118.5 422.62H456.6M118.5 550.64H456.6M118.5 402.54H456.6M118.5 521.19H456.6M118.5 477.62H456.6M118.5 398.85H456.6M118.5 513.9H456.6M118.5 393.6H456.6M118.5 495.01H456.6M118.5 401.88H456.6M118.5 407.22H456.6M118.5 492.68H456.6M118.5 595.67H456.6M118.5 415.69H456.6M118.5 441.15H456.6M118.5 544.62H456.6M118.5 626.61H456.6M118.5 531.74H456.6M118.5 485.55H456.6M118.5 633.92H456.6M118.5 395.93H456.6M118.5 603.77H456.6M118.5 458.14H456.6M118.5 420.93H456.6M118.5 414.15H456.6M118.5 462.97H456.6M118.5 592.93H456.6M118.5 430.27H456.6M118.5 532.89H456.6M118.5 547.56H456.6M118.5 479.33H456.6M118.5 524.22H456.6M118.5 400.07H456.6M118.5 399.26H456.6M118.5 436.73H456.6M118.5 558.18H456.6M118.5 493.46H456.6M118.5 464.42H456.6M118.5 533.9H456.6M118.5 500.02H456.6M118.5 460.74H456.6M118.5 587.36H456.6M118.5 562.94H456.6M118.5 446.49H456.6M118.5 531.05H456.6M118.5 518.45H456.6M118.5 608.04H456.6M118.5 570.74H456.6M118.5 457.71H456.6M118.5 634.92H456.6M118.5 414.22H456.6M118.5 491.04H456.6M118.5 577.83H456.6M118.5 422.91H456.6M118.5 509.17H456.6M118.5 394.04H456.6M118.5 555.06H456.6M118.5 579.73H456.6M118.5 530.69H456.6M118.5 608.12H456.6M118.5 464.32H456.6M118.5 562H456.6M118.5 536.16H456.6M118.5 532.45H456.6M118.5 500.79H456.6M118.5 599.03H456.6M118.5 625.84H456.6M118.5 505.37H456.6M118.5 554.02H456.6M118.5 399.53H456.6M118.5 563.58H456.6M118.5 549.66H456.6M118.5 638.23H456.6M118.5 594.41H456.6M118.5 456.86H456.6M118.5 482.76H456.6M118.5 555.18H456.6M118.5 389.78H456.6M118.5 502.19H456.6M118.5 427.02H456.6M118.5 413.98H456.6M118.5 399.09H456.6M118.5 580.67H456.6M118.5 417.11H456.6M118.5 447.39H456.6M118.5 484.08H456.6M118.5 607.08H456.6M118.5 404.63H456.6M118.5 498.99H456.6M118.5 524.66H456.6M118.5 610.15H456.6M118.5 593.74H456.6M118.5 605.18H456.6M118.5 455.28H456.6M118.5 490.32H456.6M118.5 475.85H456.6M118.5 610.35H456.6M118.5 629.18H456.6M118.5 422.64H456.6M118.5 429.11H456.6M118.5 443.38H456.6M118.5 443.73H456.6M118.5 508.15H456.6M118.5 534.82H456.6M118.5 451.26H456.6M118.5 385.05H456.6M118.5 491.25H456.6M118.5 478.53H456.6M118.5 528.98H456.6M118.5 627.99H456.6M118.5 560.77H456.6M118.5 515.97H456.6M118.5 542.1H456.6M118.5 557.11H456.6M118.5 397.82H456.6M118.5 614.28H456.6M118.5 583.67H456.6M118.5 607.88H456.6M118.5 588.26H456.6M118.5 484.45H456.6M118.5 486.14H456.6M118.5 410.51H456.6M118.5 546.38H456.6M118.5 399.94H456.6M118.5 401.24H456.6M118.5 437.44H456.6M118.5 425.55H456.6M118.5 471.05H456.6M118.5 397.46H456.6" stroke="#fff" stroke-opacity="0.17" stroke-width="0.8" fill="none"/>
<pattern id="wg" patternUnits="userSpaceOnUse" width="7" height="4.2" patternTransform="skewY(30)"><rect width="7" height="2" fill="#fff" fill-opacity="0.5"/></pattern>
<rect x="215" y="382" width="42" height="259.57" fill="url(#wg)"/>
<linearGradient id="lt" x1="0" y1="0" x2="0" y2="1"><stop offset="0" stop-color="#fff" stop-opacity="0"/><stop offset="0.35" stop-color="#fff" stop-opacity="0.05"/><stop offset="0.8" stop-color="#fff" stop-opacity="0.14"/><stop offset="1" stop-color="#fff" stop-opacity="0.05"/></linearGradient>
<rect x="178" y="382" width="38" height="255.65" fill="url(#lt)"/>
<path d="M118.5 381L125 381.2L135 381L145 380.6L155 380.9L165 381.1L174 381.3L178 381L180.5 379.5L183 375.5L186 370L189 364.5L192 358.5L194.5 352L196.5 346.5L198.1 344.3L199.8 345.6L201.5 349L203.5 351.8L205.4 352.8L207 355.5L209 360L211.5 365.5L214 370.5L217 375L219.5 377.4L221 378.2L222.3 375.5L223.4 366L224.3 360L224.9 358.2L225.6 361L226.3 364.2L227 368L228.2 372.4L229 371L229.7 370L230.5 371.6L231.4 373L232.2 368L233 357L233.6 352.3L234.3 357.5L235.1 367.5L235.9 372.4L236.8 369L237.9 364.6L239 369L240.1 373L241.1 368.5L242.2 362L243.3 367L244.8 373L246.2 370L247.6 367.2L248.6 370.2L249.6 373L250.8 370L251.8 367.9L252.8 370.3L253.8 372.4L255 370.5L256 369.2L257.3 370.8L258.6 372.2L259.7 371L260.6 370.1L261.7 371.2L263 372.2L266 371.9L270 372.1L280 371.5L295 370.6L310 369.3L325 368.3L340 367.6L352 367.2L365 367.5L380 367.8L395 367.9L410 367.4L425 366.4L440 365.3L456.6 364.5" fill="none" stroke="#8f2cf0" stroke-width="1" stroke-linejoin="round"/>
<rect x="118.5" y="314" width="338.1" height="68" fill="none" stroke="#262626" stroke-width="0.8"/>
<rect x="118.5" y="382" width="338.1" height="271.2" fill="none" stroke="#262626" stroke-width="0.8"/>
<path d="M149.24 314v3.6M149.24 382v-3.6M179.97 314v3.6M179.97 382v-3.6M210.71 314v3.6M210.71 382v-3.6M241.45 314v3.6M241.45 382v-3.6M272.18 314v3.6M272.18 382v-3.6M302.92 314v3.6M302.92 382v-3.6M333.65 314v3.6M333.65 382v-3.6M364.39 314v3.6M364.39 382v-3.6M395.13 314v3.6M395.13 382v-3.6M425.86 314v3.6M425.86 382v-3.6M456.6 314v3.6M456.6 382v-3.6M149.24 653.2v-3.6M149.24 382v3.6M226.08 653.2v-3.6M226.08 382v3.6M302.92 653.2v-3.6M302.92 382v3.6M379.76 653.2v-3.6M379.76 382v3.6M456.6 653.2v-3.6M456.6 382v3.6M118.5 348h3.6M456.6 348h-3.6M118.5 645.2h3.6M456.6 645.2h-3.6M118.5 614.99h3.6M456.6 614.99h-3.6M118.5 584.78h3.6M456.6 584.78h-3.6M118.5 554.57h3.6M456.6 554.57h-3.6M118.5 524.36h3.6M456.6 524.36h-3.6M118.5 494.15h3.6M456.6 494.15h-3.6M118.5 463.94h3.6M456.6 463.94h-3.6M118.5 433.73h3.6M456.6 433.73h-3.6M118.5 403.52h3.6M456.6 403.52h-3.6" stroke="#262626" stroke-width="0.8" fill="none"/>
<text x="116.3" y="317" font-size="8.6" fill="#262626" text-anchor="end" stroke="#262626" stroke-width="0.15">0.4</text>
<text x="116.3" y="351" font-size="8.6" fill="#262626" text-anchor="end" stroke="#262626" stroke-width="0.15">0.2</text>
<text x="116.3" y="385" font-size="8.6" fill="#262626" text-anchor="end" stroke="#262626" stroke-width="0.15">0</text>
<text x="114.6" y="649.3" font-size="10.8" fill="#262626" text-anchor="end" stroke="#262626" stroke-width="0.15">0</text>
<text x="114.6" y="619.09" font-size="10.8" fill="#262626" text-anchor="end" stroke="#262626" stroke-width="0.15">100</text>
<text x="114.6" y="588.88" font-size="10.8" fill="#262626" text-anchor="end" stroke="#262626" stroke-width="0.15">200</text>
<text x="114.6" y="558.67" font-size="10.8" fill="#262626" text-anchor="end" stroke="#262626" stroke-width="0.15">300</text>
<text x="114.6" y="528.46" font-size="10.8" fill="#262626" text-anchor="end" stroke="#262626" stroke-width="0.15">400</text>
<text x="114.6" y="498.25" font-size="10.8" fill="#262626" text-anchor="end" stroke="#262626" stroke-width="0.15">500</text>
<text x="114.6" y="468.04" font-size="10.8" fill="#262626" text-anchor="end" stroke="#262626" stroke-width="0.15">600</text>
<text x="114.6" y="437.83" font-size="10.8" fill="#262626" text-anchor="end" stroke="#262626" stroke-width="0.15">700</text>
<text x="114.6" y="407.62" font-size="10.8" fill="#262626" text-anchor="end" stroke="#262626" stroke-width="0.15">800</text>
<text x="149.24" y="667.4" font-size="10.8" fill="#262626" text-anchor="middle" stroke="#262626" stroke-width="0.15">100</text>
<text x="226.08" y="667.4" font-size="10.8" fill="#262626" text-anchor="middle" stroke="#262626" stroke-width="0.15">105</text>
<text x="302.92" y="667.4" font-size="10.8" fill="#262626" text-anchor="middle" stroke="#262626" stroke-width="0.15">110</text>
<text x="379.76" y="667.4" font-size="10.8" fill="#262626" text-anchor="middle" stroke="#262626" stroke-width="0.15">115</text>
<text x="456.6" y="667.4" font-size="10.8" fill="#262626" text-anchor="middle" stroke="#262626" stroke-width="0.15">120</text>
<text transform="translate(100.2 348.3) rotate(-90)" font-size="13" fill="#262626" text-anchor="middle">Absorbance</text>
<text transform="translate(89.4 517.8) rotate(-90)" font-size="13.5" fill="#262626" text-anchor="middle">&#916;<tspan font-style="italic" dx="2.2">t</tspan> (fs)</text>
<text x="287.7" y="681.6" font-size="13.3" fill="#262626" text-anchor="middle" stroke="#262626" stroke-width="0.15">Photon Energy (eV)</text>
<text x="-1.2" y="320.3" font-size="15.2" fill="#000" stroke="#000" stroke-width="0.3">b</text>
<text x="165.7" y="325.7" font-size="10.9" fill="#0a0a0a">core<tspan dx="9.4">valence</tspan></text>
<path d="M188.5 322.5h3.0v-1.6l3.2 2.3l-3.2 2.3v-1.6h-3.0z" fill="#0a0a0a"/>
<path d="M177.6 334.3V332.7H194.8l2 -3l2 3H215.7V334.3" fill="none" stroke="#0a0a0a" stroke-width="0.9" stroke-linejoin="round"/>
<text x="213.2" y="344.4" font-size="10.9" fill="#0a0a0a">core<tspan dx="9.4">Rydberg</tspan></text>
<path d="M236 341.2h3.0v-1.6l3.2 2.3l-3.2 2.3v-1.6h-3.0z" fill="#0a0a0a"/>
<path d="M222.2 352.5V350.9H240.4l2 -3l2 3H262.4V352.5" fill="none" stroke="#0a0a0a" stroke-width="0.9" stroke-linejoin="round"/>
<line x1="263" y1="350.9" x2="279.5" y2="350.9" stroke="#333" stroke-width="0.8" stroke-dasharray="1 1"/>
<text x="266.3" y="361.5" font-size="10.8" fill="#0a0a0a" stroke="#0a0a0a" stroke-width="0.18">L<tspan font-size="7" baseline-shift="-2.4">2,3</tspan> edge</text>
<line x1="261.6" y1="324.4" x2="396" y2="324.4" stroke="#5a5af2" stroke-width="1.1"/>
<line x1="261.6" y1="320.5" x2="261.6" y2="328.4" stroke="#5a5af2" stroke-width="1.1"/>
<line x1="404.6" y1="320.5" x2="404.6" y2="328.4" stroke="#5a5af2" stroke-width="1.1"/>
<path d="M404.3 324.4L393.6 320.6L393.6 328.2Z" fill="#5a5af2"/>
<text x="295.7" y="337.4" font-size="10.95" fill="#5a5af2" stroke="#5a5af2" stroke-width="0.15">IE<tspan font-size="7" baseline-shift="-2.2">2p</tspan>[SiH<tspan font-size="7" baseline-shift="-2.2">4</tspan><tspan font-size="7" baseline-shift="4">+</tspan>] blueshift</text>
<text x="260.2" y="394.5" font-size="10.9" fill="#0a0a0a">core<tspan dx="9.4">valence</tspan></text>
<path d="M283 391.3h3.0v-1.6l3.2 2.3l-3.2 2.3v-1.6h-3.0z" fill="#0a0a0a"/>
<path d="M278.6 403.2V401.6H294.9l2 -3l2 3H315.5V403.2" fill="none" stroke="#0a0a0a" stroke-width="0.9" stroke-linejoin="round"/>
<text x="343.7" y="394.5" font-size="10.9" fill="#0a0a0a">core<tspan dx="9.4">Rydberg</tspan></text>
<path d="M366.5 391.3h3.0v-1.6l3.2 2.3l-3.2 2.3v-1.6h-3.0z" fill="#0a0a0a"/>
<path d="M352.4 403.2V401.6H376.8l2 -3l2 3H405.2V403.2" fill="none" stroke="#0a0a0a" stroke-width="0.9" stroke-linejoin="round"/>
<line x1="405.8" y1="401.6" x2="428.2" y2="401.6" stroke="#333" stroke-width="0.8" stroke-dasharray="1 1"/>
<text x="411.6" y="413.2" font-size="10.8" fill="#0a0a0a" stroke="#0a0a0a" stroke-width="0.18">L<tspan font-size="7" baseline-shift="-2.4">2,3</tspan> edge</text>
<path d="M175.3 387.4H173.3V416.3L170.2 418.9L173.3 421.5V636H175.3" fill="none" stroke="#222" stroke-width="1" stroke-linejoin="round"/>
<line x1="77.8" y1="418.9" x2="170" y2="418.9" stroke="#111" stroke-width="1" stroke-dasharray="3 1.6"/>
<rect x="12.9" y="387.1" width="64.7" height="64.2" fill="#fff" stroke="#222" stroke-width="1.2"/>
<line x1="42.4" y1="419.3" x2="27.7" y2="395.1" stroke="#111" stroke-width="1.1"/>
<line x1="42.4" y1="419.3" x2="24" y2="442.5" stroke="#111" stroke-width="1.1"/>
<line x1="42.4" y1="419.3" x2="64" y2="414.4" stroke="#222" stroke-width="1.3" stroke-dasharray="1.1 0.8"/>
<path d="M42.4 419.3L62.83 429.95L64.37 426.25Z" fill="#111"/>
<circle cx="42.4" cy="419.3" r="5.4" fill="#808080"/>
<circle cx="27.7" cy="395.1" r="3.9" fill="#fff" stroke="#444" stroke-width="0.8"/>
<circle cx="24" cy="442.5" r="3.9" fill="#fff" stroke="#444" stroke-width="0.8"/>
<circle cx="64" cy="414.4" r="3.9" fill="#fff" stroke="#444" stroke-width="0.8"/>
<circle cx="63.6" cy="428.1" r="3.9" fill="#fff" stroke="#444" stroke-width="0.8"/>
<line x1="29.5" y1="404.4" x2="34.4" y2="411.6" stroke="#808080" stroke-width="1.5"/>
<path d="M28.91 403.54L33.45 405.77L30.71 406.18L29.32 408.58Z" fill="#808080"/>
<path d="M34.99 412.46L30.45 410.23L33.19 409.82L34.58 407.42Z" fill="#808080"/>
<line x1="48.7" y1="415.1" x2="58.4" y2="412.9" stroke="#808080" stroke-width="1.5"/>
<path d="M47.54 415.36L51.27 411.95L50.66 414.66L52.38 416.83Z" fill="#808080"/>
<path d="M59.56 412.64L55.83 416.05L56.44 413.34L54.72 411.17Z" fill="#808080"/>
<line x1="47.7" y1="425.2" x2="56.1" y2="428.9" stroke="#808080" stroke-width="1.5"/>
<path d="M46.69 424.76L51.73 424.24L49.62 426.05L49.71 428.82Z" fill="#808080"/>
<path d="M57.11 429.34L52.07 429.86L54.18 428.05L54.09 425.28Z" fill="#808080"/>
<line x1="28" y1="434" x2="33.9" y2="427.1" stroke="#808080" stroke-width="1.5"/>
<path d="M27.29 434.83L28.25 429.86L29.37 432.4L32.05 433.11Z" fill="#808080"/>
<path d="M34.61 426.27L33.65 431.24L32.53 428.7L29.85 427.99Z" fill="#808080"/>
<text x="50.6" y="400.2" font-size="11" fill="#858585" stroke="#858585" stroke-width="0.15">T<tspan font-size="7.2" baseline-shift="-2.2">d</tspan></text>
<text x="42.6" y="444.7" font-size="10.8" fill="#858585" stroke="#858585" stroke-width="0.15">15 fs</text>
<linearGradient id="cb" x1="0" y1="0" x2="0" y2="1"><stop offset="0%" stop-color="#5a0000"/><stop offset="5.56%" stop-color="#800808"/><stop offset="14.44%" stop-color="#b21414"/><stop offset="23.33%" stop-color="#e22e2e"/><stop offset="32.22%" stop-color="#f07676"/><stop offset="41.11%" stop-color="#f8bebe"/><stop offset="50%" stop-color="#ffffff"/><stop offset="58.89%" stop-color="#bebef8"/><stop offset="67.78%" stop-color="#7a7af2"/><stop offset="76.67%" stop-color="#3030e8"/><stop offset="85.56%" stop-color="#1414b6"/><stop offset="94.44%" stop-color="#080880"/><stop offset="100%" stop-color="#00005a"/></linearGradient>
<rect x="473.6" y="382" width="24.6" height="271.2" fill="url(#cb)" stroke="#555" stroke-width="0.8"/>
<text x="502.4" y="400.9" font-size="10" fill="#262626" stroke="#262626" stroke-width="0.15">0.1</text>
<text x="502.4" y="425" font-size="10" fill="#262626" stroke="#262626" stroke-width="0.15">0.08</text>
<text x="502.4" y="449.1" font-size="10" fill="#262626" stroke="#262626" stroke-width="0.15">0.06</text>
<text x="502.4" y="473.2" font-size="10" fill="#262626" stroke="#262626" stroke-width="0.15">0.04</text>
<text x="502.4" y="497.3" font-size="10" fill="#262626" stroke="#262626" stroke-width="0.15">0.02</text>
<text x="502.4" y="521.4" font-size="10" fill="#262626" stroke="#262626" stroke-width="0.15">0</text>
<text x="502.4" y="545.5" font-size="10" fill="#262626" stroke="#262626" stroke-width="0.15">-0.02</text>
<text x="502.4" y="569.6" font-size="10" fill="#262626" stroke="#262626" stroke-width="0.15">-0.04</text>
<text x="502.4" y="593.7" font-size="10" fill="#262626" stroke="#262626" stroke-width="0.15">-0.06</text>
<text x="502.4" y="617.8" font-size="10" fill="#262626" stroke="#262626" stroke-width="0.15">-0.08</text>
<text x="502.4" y="641.9" font-size="10" fill="#262626" stroke="#262626" stroke-width="0.15">-0.1</text>
<path d="M498.2 397.4h-2.6M498.2 421.5h-2.6M498.2 445.6h-2.6M498.2 469.7h-2.6M498.2 493.8h-2.6M498.2 517.9h-2.6M498.2 542h-2.6M498.2 566.1h-2.6M498.2 590.2h-2.6M498.2 614.3h-2.6M498.2 638.4h-2.6" stroke="#444" stroke-width="0.8" fill="none"/>
<text transform="translate(540 518) rotate(-90)" font-size="13.5" fill="#262626" text-anchor="middle">&#916;OD</text>
<line x1="459.2" y1="364.6" x2="489" y2="349.3" stroke="#7412e6" stroke-width="1.2"/>
<path d="M465.49 358.42L466.33 355.16L466.78 350.99L467.32 347.02L468.61 344.82L470.97 345.16L474.08 347.26L477.28 349.57L480.09 350.96L481.71 354.78L480.87 358.04L480.42 362.21L479.88 366.18L478.59 368.38L476.23 368.04L473.12 365.94L469.92 363.63L467.11 362.24Z" fill="#7412e6" fill-opacity="0.25"/>
<path d="M465.49 358.42L467.11 362.24M466.33 355.16L469.92 363.63M466.78 350.99L473.12 365.94M467.32 347.02L476.23 368.04M468.61 344.82L478.59 368.38M470.97 345.16L479.88 366.18M474.08 347.26L480.42 362.21M477.28 349.57L480.87 358.04M480.09 350.96L481.71 354.78" fill="none" stroke="#7412e6" stroke-width="1.3" stroke-linecap="round"/>
<path d="M492.2 347.6L488.67 352.11L488.64 349.43L486.48 347.84Z" fill="#7412e6"/>
<text x="512.2" y="352.8" font-size="12.7" fill="#8418ee" text-anchor="middle" stroke="#8418ee" stroke-width="0.15">SXR</text>
<text x="512.2" y="369.2" font-size="12.7" fill="#8418ee" text-anchor="middle" stroke="#8418ee" stroke-width="0.15">Probe</text>
<path d="M53 670.3C53.83 669.92 56.73 668.87 58 668C59.27 667.13 59.32 665.1 60.6 665.1C61.88 665.1 65.02 669.78 65.7 668C66.38 666.22 62.48 653.47 64.7 654.4C66.92 655.33 78.35 675.37 79 673.6C79.65 671.83 67.35 644.4 68.6 643.8C69.85 643.2 84.65 669.52 86.5 670C88.35 670.48 79.17 648.82 79.7 646.7C80.23 644.58 87.92 656.65 89.7 657.3C91.48 657.95 89.63 651.77 90.4 650.6C91.17 649.43 92.62 650.9 94.3 650.3C95.98 649.7 99.47 647.55 100.5 647" fill="none" stroke="#f2ab27" stroke-width="1.1" stroke-linejoin="round"/>
<path d="M103.4 645.3L100.32 649.26L100.41 646.93L98.4 645.74Z" fill="#f2ab27"/>
<text x="12.5" y="658" font-size="12.7" fill="#f2ab27" stroke="#f2ab27" stroke-width="0.15">IR/Vis</text>
<text x="12.5" y="674.2" font-size="12.7" fill="#f2ab27" stroke="#f2ab27" stroke-width="0.15">Pump</text>
</g>
</svg>
</body></html>
